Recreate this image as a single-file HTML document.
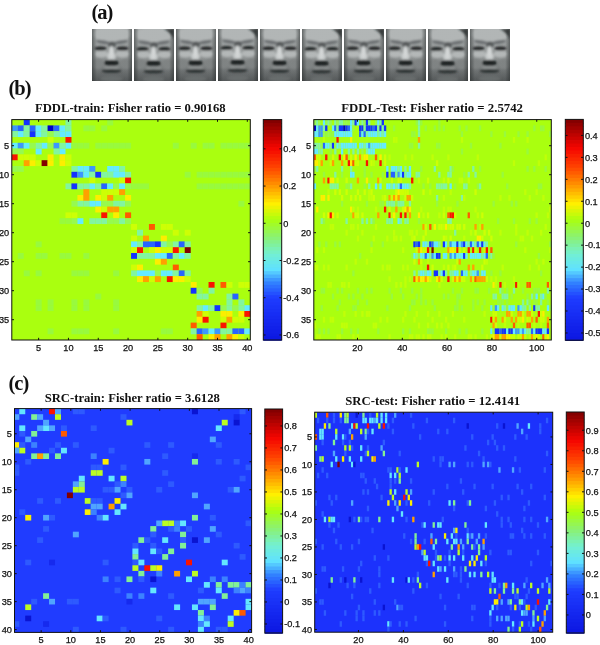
<!DOCTYPE html><html><head><meta charset="utf-8"><title>Figure</title><style>html,body{margin:0;padding:0;background:#fff;width:600px;height:645px;overflow:hidden}svg{display:block}</style></head><body><svg width="600" height="645" viewBox="0 0 600 645"><defs><clipPath id="fc"><rect width="40" height="52"/></clipPath><filter id="bl" x="-20%" y="-20%" width="140%" height="140%"><feGaussianBlur stdDeviation="1.1"/></filter><linearGradient id="fv" x1="0" x2="0" y1="0" y2="1"><stop offset="0" stop-color="#b6baba"/><stop offset="0.55" stop-color="#9a9e9e"/><stop offset="1" stop-color="#5a5e5f"/></linearGradient><linearGradient id="sd" x1="0" x2="1" y1="0" y2="0"><stop offset="0" stop-color="#202424" stop-opacity="0.55"/><stop offset="0.12" stop-color="#202424" stop-opacity="0.1"/><stop offset="0.88" stop-color="#202424" stop-opacity="0.1"/><stop offset="1" stop-color="#202424" stop-opacity="0.55"/></linearGradient></defs><style>.tk{font-family:"Liberation Sans",Arial,sans-serif;font-size:9.2px;fill:#111;stroke:#111;stroke-width:0.25px}.tt{font-family:"Liberation Serif","Times New Roman",serif;font-weight:bold;font-size:12.65px;fill:#111}.pl{font-family:"Liberation Serif","Times New Roman",serif;font-weight:bold;font-size:20.5px;letter-spacing:-1.0px;fill:#111}</style><rect width="600" height="645" fill="#fff"/><text x="91.5" y="18.5" class="pl">(a)</text><text x="8.5" y="95" class="pl">(b)</text><text x="8.5" y="390" class="pl">(c)</text><g transform="translate(92,29)" clip-path="url(#fc)"><rect width="40" height="52" fill="url(#fv)"/><g filter="url(#bl)" transform="translate(0,0)"><ellipse cx="20" cy="5" rx="19" ry="7.5" fill="#c2c6c6"/><ellipse cx="20" cy="15.5" rx="4" ry="3" fill="#5e6263"/><ellipse cx="9.5" cy="25" rx="7" ry="3.4" fill="#c4c8c8"/><ellipse cx="30.5" cy="25" rx="7" ry="3.4" fill="#c4c8c8"/><ellipse cx="6" cy="35" rx="6" ry="5" fill="#8a8e8e"/><ellipse cx="34" cy="35" rx="6" ry="5" fill="#8a8e8e"/><ellipse cx="19.5" cy="27.5" rx="4.6" ry="4" fill="#d4d8d8"/><ellipse cx="19.5" cy="23.5" rx="2.6" ry="6.5" fill="#e6e9e9"/><ellipse cx="11" cy="13" rx="7" ry="1.8" fill="#74787a" transform="rotate(8 11 13)"/><ellipse cx="29" cy="13" rx="7" ry="1.8" fill="#74787a" transform="rotate(-8 29 13)"/><ellipse cx="8.5" cy="19.5" rx="6" ry="2.1" fill="#26292a"/><ellipse cx="30.5" cy="19.5" rx="6" ry="2.1" fill="#26292a"/><ellipse cx="19.5" cy="34" rx="7.4" ry="3.2" fill="#222628"/><ellipse cx="19.5" cy="38.5" rx="8" ry="1.8" fill="#9a9e9e"/><ellipse cx="19.5" cy="42" rx="10" ry="2.1" fill="#333738"/><ellipse cx="19.5" cy="49.5" rx="11" ry="3.2" fill="#707475"/></g><rect width="40" height="52" fill="url(#sd)"/></g><g transform="translate(134,29)" clip-path="url(#fc)"><rect width="40" height="52" fill="url(#fv)"/><g filter="url(#bl)" transform="translate(0,0.5)"><ellipse cx="20" cy="5" rx="19" ry="7.5" fill="#c2c6c6"/><ellipse cx="20" cy="15.5" rx="4" ry="3" fill="#5e6263"/><ellipse cx="9.5" cy="25" rx="7" ry="3.4" fill="#c4c8c8"/><ellipse cx="30.5" cy="25" rx="7" ry="3.4" fill="#c4c8c8"/><ellipse cx="6" cy="35" rx="6" ry="5" fill="#8a8e8e"/><ellipse cx="34" cy="35" rx="6" ry="5" fill="#8a8e8e"/><ellipse cx="19.5" cy="27.5" rx="4.6" ry="4" fill="#d4d8d8"/><ellipse cx="19.5" cy="23.5" rx="2.6" ry="6.5" fill="#e6e9e9"/><ellipse cx="11" cy="13" rx="7" ry="1.8" fill="#74787a" transform="rotate(8 11 13)"/><ellipse cx="29" cy="13" rx="7" ry="1.8" fill="#74787a" transform="rotate(-8 29 13)"/><ellipse cx="8.5" cy="19.5" rx="6" ry="2.1" fill="#26292a"/><ellipse cx="30.5" cy="19.5" rx="6" ry="2.1" fill="#26292a"/><ellipse cx="19.5" cy="34" rx="7.4" ry="3.2" fill="#222628"/><ellipse cx="19.5" cy="38.5" rx="8" ry="1.8" fill="#9a9e9e"/><ellipse cx="19.5" cy="42" rx="10" ry="2.1" fill="#333738"/><ellipse cx="19.5" cy="49.5" rx="11" ry="3.2" fill="#707475"/></g><rect width="40" height="52" fill="url(#sd)"/><path d="M30 0 H40 V10 Q36 3 30 0Z" fill="#2a2e2f" opacity="0.85" filter="url(#bl)"/></g><g transform="translate(176,29)" clip-path="url(#fc)"><rect width="40" height="52" fill="url(#fv)"/><g filter="url(#bl)" transform="translate(0,0)"><ellipse cx="20" cy="5" rx="19" ry="7.5" fill="#c2c6c6"/><ellipse cx="20" cy="15.5" rx="4" ry="3" fill="#5e6263"/><ellipse cx="9.5" cy="25" rx="7" ry="3.4" fill="#c4c8c8"/><ellipse cx="30.5" cy="25" rx="7" ry="3.4" fill="#c4c8c8"/><ellipse cx="6" cy="35" rx="6" ry="5" fill="#8a8e8e"/><ellipse cx="34" cy="35" rx="6" ry="5" fill="#8a8e8e"/><ellipse cx="19.5" cy="27.5" rx="4.6" ry="4" fill="#d4d8d8"/><ellipse cx="19.5" cy="23.5" rx="2.6" ry="6.5" fill="#e6e9e9"/><ellipse cx="11" cy="13" rx="7" ry="1.8" fill="#74787a" transform="rotate(8 11 13)"/><ellipse cx="29" cy="13" rx="7" ry="1.8" fill="#74787a" transform="rotate(-8 29 13)"/><ellipse cx="8.5" cy="19.5" rx="6" ry="2.1" fill="#26292a"/><ellipse cx="30.5" cy="19.5" rx="6" ry="2.1" fill="#26292a"/><ellipse cx="19.5" cy="34" rx="7.4" ry="3.2" fill="#222628"/><ellipse cx="19.5" cy="38.5" rx="8" ry="1.8" fill="#9a9e9e"/><ellipse cx="19.5" cy="42" rx="10" ry="2.1" fill="#333738"/><ellipse cx="19.5" cy="49.5" rx="11" ry="3.2" fill="#707475"/></g><rect width="40" height="52" fill="url(#sd)"/></g><g transform="translate(218,29)" clip-path="url(#fc)"><rect width="40" height="52" fill="url(#fv)"/><g filter="url(#bl)" transform="translate(0,-0.5)"><ellipse cx="20" cy="5" rx="19" ry="7.5" fill="#c2c6c6"/><ellipse cx="20" cy="15.5" rx="4" ry="3" fill="#5e6263"/><ellipse cx="9.5" cy="25" rx="7" ry="3.4" fill="#c4c8c8"/><ellipse cx="30.5" cy="25" rx="7" ry="3.4" fill="#c4c8c8"/><ellipse cx="6" cy="35" rx="6" ry="5" fill="#8a8e8e"/><ellipse cx="34" cy="35" rx="6" ry="5" fill="#8a8e8e"/><ellipse cx="19.5" cy="27.5" rx="4.6" ry="4" fill="#d4d8d8"/><ellipse cx="19.5" cy="23.5" rx="2.6" ry="6.5" fill="#e6e9e9"/><ellipse cx="11" cy="13" rx="7" ry="1.8" fill="#74787a" transform="rotate(8 11 13)"/><ellipse cx="29" cy="13" rx="7" ry="1.8" fill="#74787a" transform="rotate(-8 29 13)"/><ellipse cx="8.5" cy="19.5" rx="6" ry="2.1" fill="#26292a"/><ellipse cx="30.5" cy="19.5" rx="6" ry="2.1" fill="#26292a"/><ellipse cx="19.5" cy="34" rx="7.4" ry="3.2" fill="#222628"/><ellipse cx="19.5" cy="38.5" rx="8" ry="1.8" fill="#9a9e9e"/><ellipse cx="19.5" cy="42" rx="10" ry="2.1" fill="#333738"/><ellipse cx="19.5" cy="49.5" rx="11" ry="3.2" fill="#707475"/></g><rect width="40" height="52" fill="url(#sd)"/><path d="M30 0 H40 V10 Q36 3 30 0Z" fill="#2a2e2f" opacity="0.85" filter="url(#bl)"/></g><g transform="translate(260,29)" clip-path="url(#fc)"><rect width="40" height="52" fill="url(#fv)"/><g filter="url(#bl)" transform="translate(0,0)"><ellipse cx="20" cy="5" rx="19" ry="7.5" fill="#c2c6c6"/><ellipse cx="20" cy="15.5" rx="4" ry="3" fill="#5e6263"/><ellipse cx="9.5" cy="25" rx="7" ry="3.4" fill="#c4c8c8"/><ellipse cx="30.5" cy="25" rx="7" ry="3.4" fill="#c4c8c8"/><ellipse cx="6" cy="35" rx="6" ry="5" fill="#8a8e8e"/><ellipse cx="34" cy="35" rx="6" ry="5" fill="#8a8e8e"/><ellipse cx="19.5" cy="27.5" rx="4.6" ry="4" fill="#d4d8d8"/><ellipse cx="19.5" cy="23.5" rx="2.6" ry="6.5" fill="#e6e9e9"/><ellipse cx="11" cy="13" rx="7" ry="1.8" fill="#74787a" transform="rotate(8 11 13)"/><ellipse cx="29" cy="13" rx="7" ry="1.8" fill="#74787a" transform="rotate(-8 29 13)"/><ellipse cx="8.5" cy="19.5" rx="6" ry="2.1" fill="#26292a"/><ellipse cx="30.5" cy="19.5" rx="6" ry="2.1" fill="#26292a"/><ellipse cx="19.5" cy="34" rx="7.4" ry="3.2" fill="#222628"/><ellipse cx="19.5" cy="38.5" rx="8" ry="1.8" fill="#9a9e9e"/><ellipse cx="19.5" cy="42" rx="10" ry="2.1" fill="#333738"/><ellipse cx="19.5" cy="49.5" rx="11" ry="3.2" fill="#707475"/></g><rect width="40" height="52" fill="url(#sd)"/></g><g transform="translate(302,29)" clip-path="url(#fc)"><rect width="40" height="52" fill="url(#fv)"/><g filter="url(#bl)" transform="translate(0,0.5)"><ellipse cx="20" cy="5" rx="19" ry="7.5" fill="#c2c6c6"/><ellipse cx="20" cy="15.5" rx="4" ry="3" fill="#5e6263"/><ellipse cx="9.5" cy="25" rx="7" ry="3.4" fill="#c4c8c8"/><ellipse cx="30.5" cy="25" rx="7" ry="3.4" fill="#c4c8c8"/><ellipse cx="6" cy="35" rx="6" ry="5" fill="#8a8e8e"/><ellipse cx="34" cy="35" rx="6" ry="5" fill="#8a8e8e"/><ellipse cx="19.5" cy="27.5" rx="4.6" ry="4" fill="#d4d8d8"/><ellipse cx="19.5" cy="23.5" rx="2.6" ry="6.5" fill="#e6e9e9"/><ellipse cx="11" cy="13" rx="7" ry="1.8" fill="#74787a" transform="rotate(8 11 13)"/><ellipse cx="29" cy="13" rx="7" ry="1.8" fill="#74787a" transform="rotate(-8 29 13)"/><ellipse cx="8.5" cy="19.5" rx="6" ry="2.1" fill="#26292a"/><ellipse cx="30.5" cy="19.5" rx="6" ry="2.1" fill="#26292a"/><ellipse cx="19.5" cy="34" rx="7.4" ry="3.2" fill="#222628"/><ellipse cx="19.5" cy="38.5" rx="8" ry="1.8" fill="#9a9e9e"/><ellipse cx="19.5" cy="42" rx="10" ry="2.1" fill="#333738"/><ellipse cx="19.5" cy="49.5" rx="11" ry="3.2" fill="#707475"/></g><rect width="40" height="52" fill="url(#sd)"/><path d="M30 0 H40 V10 Q36 3 30 0Z" fill="#2a2e2f" opacity="0.85" filter="url(#bl)"/></g><g transform="translate(344,29)" clip-path="url(#fc)"><rect width="40" height="52" fill="url(#fv)"/><g filter="url(#bl)" transform="translate(0,0)"><ellipse cx="20" cy="5" rx="19" ry="7.5" fill="#c2c6c6"/><ellipse cx="20" cy="15.5" rx="4" ry="3" fill="#5e6263"/><ellipse cx="9.5" cy="25" rx="7" ry="3.4" fill="#c4c8c8"/><ellipse cx="30.5" cy="25" rx="7" ry="3.4" fill="#c4c8c8"/><ellipse cx="6" cy="35" rx="6" ry="5" fill="#8a8e8e"/><ellipse cx="34" cy="35" rx="6" ry="5" fill="#8a8e8e"/><ellipse cx="19.5" cy="27.5" rx="4.6" ry="4" fill="#d4d8d8"/><ellipse cx="19.5" cy="23.5" rx="2.6" ry="6.5" fill="#e6e9e9"/><ellipse cx="11" cy="13" rx="7" ry="1.8" fill="#74787a" transform="rotate(8 11 13)"/><ellipse cx="29" cy="13" rx="7" ry="1.8" fill="#74787a" transform="rotate(-8 29 13)"/><ellipse cx="8.5" cy="19.5" rx="6" ry="2.1" fill="#26292a"/><ellipse cx="30.5" cy="19.5" rx="6" ry="2.1" fill="#26292a"/><ellipse cx="19.5" cy="34" rx="7.4" ry="3.2" fill="#222628"/><ellipse cx="19.5" cy="38.5" rx="8" ry="1.8" fill="#9a9e9e"/><ellipse cx="19.5" cy="42" rx="10" ry="2.1" fill="#333738"/><ellipse cx="19.5" cy="49.5" rx="11" ry="3.2" fill="#707475"/></g><rect width="40" height="52" fill="url(#sd)"/><path d="M30 0 H40 V10 Q36 3 30 0Z" fill="#2a2e2f" opacity="0.85" filter="url(#bl)"/></g><g transform="translate(386,29)" clip-path="url(#fc)"><rect width="40" height="52" fill="url(#fv)"/><g filter="url(#bl)" transform="translate(0,0)"><ellipse cx="20" cy="5" rx="19" ry="7.5" fill="#c2c6c6"/><ellipse cx="20" cy="15.5" rx="4" ry="3" fill="#5e6263"/><ellipse cx="9.5" cy="25" rx="7" ry="3.4" fill="#c4c8c8"/><ellipse cx="30.5" cy="25" rx="7" ry="3.4" fill="#c4c8c8"/><ellipse cx="6" cy="35" rx="6" ry="5" fill="#8a8e8e"/><ellipse cx="34" cy="35" rx="6" ry="5" fill="#8a8e8e"/><ellipse cx="19.5" cy="27.5" rx="4.6" ry="4" fill="#d4d8d8"/><ellipse cx="19.5" cy="23.5" rx="2.6" ry="6.5" fill="#e6e9e9"/><ellipse cx="11" cy="13" rx="7" ry="1.8" fill="#74787a" transform="rotate(8 11 13)"/><ellipse cx="29" cy="13" rx="7" ry="1.8" fill="#74787a" transform="rotate(-8 29 13)"/><ellipse cx="8.5" cy="19.5" rx="6" ry="2.1" fill="#26292a"/><ellipse cx="30.5" cy="19.5" rx="6" ry="2.1" fill="#26292a"/><ellipse cx="19.5" cy="34" rx="7.4" ry="3.2" fill="#222628"/><ellipse cx="19.5" cy="38.5" rx="8" ry="1.8" fill="#9a9e9e"/><ellipse cx="19.5" cy="42" rx="10" ry="2.1" fill="#333738"/><ellipse cx="19.5" cy="49.5" rx="11" ry="3.2" fill="#707475"/></g><rect width="40" height="52" fill="url(#sd)"/></g><g transform="translate(428,29)" clip-path="url(#fc)"><rect width="40" height="52" fill="url(#fv)"/><g filter="url(#bl)" transform="translate(0,0.5)"><ellipse cx="20" cy="5" rx="19" ry="7.5" fill="#c2c6c6"/><ellipse cx="20" cy="15.5" rx="4" ry="3" fill="#5e6263"/><ellipse cx="9.5" cy="25" rx="7" ry="3.4" fill="#c4c8c8"/><ellipse cx="30.5" cy="25" rx="7" ry="3.4" fill="#c4c8c8"/><ellipse cx="6" cy="35" rx="6" ry="5" fill="#8a8e8e"/><ellipse cx="34" cy="35" rx="6" ry="5" fill="#8a8e8e"/><ellipse cx="19.5" cy="27.5" rx="4.6" ry="4" fill="#d4d8d8"/><ellipse cx="19.5" cy="23.5" rx="2.6" ry="6.5" fill="#e6e9e9"/><ellipse cx="11" cy="13" rx="7" ry="1.8" fill="#74787a" transform="rotate(8 11 13)"/><ellipse cx="29" cy="13" rx="7" ry="1.8" fill="#74787a" transform="rotate(-8 29 13)"/><ellipse cx="8.5" cy="19.5" rx="6" ry="2.1" fill="#26292a"/><ellipse cx="30.5" cy="19.5" rx="6" ry="2.1" fill="#26292a"/><ellipse cx="19.5" cy="34" rx="7.4" ry="3.2" fill="#222628"/><ellipse cx="19.5" cy="38.5" rx="8" ry="1.8" fill="#9a9e9e"/><ellipse cx="19.5" cy="42" rx="10" ry="2.1" fill="#333738"/><ellipse cx="19.5" cy="49.5" rx="11" ry="3.2" fill="#707475"/></g><rect width="40" height="52" fill="url(#sd)"/><path d="M30 0 H40 V10 Q36 3 30 0Z" fill="#2a2e2f" opacity="0.85" filter="url(#bl)"/></g><g transform="translate(470,29)" clip-path="url(#fc)"><rect width="40" height="52" fill="url(#fv)"/><g filter="url(#bl)" transform="translate(0,0)"><ellipse cx="20" cy="5" rx="19" ry="7.5" fill="#c2c6c6"/><ellipse cx="20" cy="15.5" rx="4" ry="3" fill="#5e6263"/><ellipse cx="9.5" cy="25" rx="7" ry="3.4" fill="#c4c8c8"/><ellipse cx="30.5" cy="25" rx="7" ry="3.4" fill="#c4c8c8"/><ellipse cx="6" cy="35" rx="6" ry="5" fill="#8a8e8e"/><ellipse cx="34" cy="35" rx="6" ry="5" fill="#8a8e8e"/><ellipse cx="19.5" cy="27.5" rx="4.6" ry="4" fill="#d4d8d8"/><ellipse cx="19.5" cy="23.5" rx="2.6" ry="6.5" fill="#e6e9e9"/><ellipse cx="11" cy="13" rx="7" ry="1.8" fill="#74787a" transform="rotate(8 11 13)"/><ellipse cx="29" cy="13" rx="7" ry="1.8" fill="#74787a" transform="rotate(-8 29 13)"/><ellipse cx="8.5" cy="19.5" rx="6" ry="2.1" fill="#26292a"/><ellipse cx="30.5" cy="19.5" rx="6" ry="2.1" fill="#26292a"/><ellipse cx="19.5" cy="34" rx="7.4" ry="3.2" fill="#222628"/><ellipse cx="19.5" cy="38.5" rx="8" ry="1.8" fill="#9a9e9e"/><ellipse cx="19.5" cy="42" rx="10" ry="2.1" fill="#333738"/><ellipse cx="19.5" cy="49.5" rx="11" ry="3.2" fill="#707475"/></g><rect width="40" height="52" fill="url(#sd)"/><path d="M30 0 H40 V10 Q36 3 30 0Z" fill="#2a2e2f" opacity="0.85" filter="url(#bl)"/></g><text x="35" y="111.7" class="tt">FDDL-train: Fisher ratio = 0.90168</text><text x="341.2" y="111.7" class="tt" style="font-size:12.8px">FDDL-Test: Fisher ratio = 2.5742</text><text x="44.7" y="402" class="tt">SRC-train: Fisher ratio = 3.6128</text><text x="345.3" y="404.7" class="tt" style="font-size:12.72px">SRC-test: Fisher ratio = 12.4141</text><rect x="11.80" y="119.60" width="238.50" height="220.40" fill="#aaff0f"/><rect x="23.73" y="119.60" width="6.01" height="5.85" fill="#1432ff"/><rect x="65.46" y="119.60" width="6.01" height="5.85" fill="#82f5a0"/><rect x="107.20" y="119.60" width="6.01" height="5.85" fill="#98fa3e"/><rect x="11.80" y="125.40" width="6.01" height="5.85" fill="#3c96ff"/><rect x="17.76" y="125.40" width="6.01" height="5.85" fill="#2864ff"/><rect x="23.73" y="125.40" width="6.01" height="5.85" fill="#82f5a0"/><rect x="29.69" y="125.40" width="6.01" height="5.85" fill="#2864ff"/><rect x="35.65" y="125.40" width="6.01" height="5.85" fill="#64ebff"/><rect x="41.61" y="125.40" width="6.01" height="5.85" fill="#82f5a0"/><rect x="47.58" y="125.40" width="6.01" height="5.85" fill="#0000c8"/><rect x="53.54" y="125.40" width="6.01" height="5.85" fill="#2864ff"/><rect x="59.50" y="125.40" width="6.01" height="5.85" fill="#64ebff"/><rect x="65.46" y="125.40" width="6.01" height="5.85" fill="#82f5a0"/><rect x="83.35" y="125.40" width="6.01" height="5.85" fill="#98fa3e"/><rect x="89.31" y="125.40" width="6.01" height="5.85" fill="#98fa3e"/><rect x="101.24" y="125.40" width="6.01" height="5.85" fill="#98fa3e"/><rect x="11.80" y="131.20" width="6.01" height="5.85" fill="#82f5a0"/><rect x="17.76" y="131.20" width="6.01" height="5.85" fill="#64ebff"/><rect x="23.73" y="131.20" width="6.01" height="5.85" fill="#82f5a0"/><rect x="29.69" y="131.20" width="6.01" height="5.85" fill="#1432ff"/><rect x="35.65" y="131.20" width="6.01" height="5.85" fill="#64ebff"/><rect x="41.61" y="131.20" width="6.01" height="5.85" fill="#82f5a0"/><rect x="47.58" y="131.20" width="6.01" height="5.85" fill="#96fa50"/><rect x="53.54" y="131.20" width="6.01" height="5.85" fill="#82f5a0"/><rect x="59.50" y="131.20" width="6.01" height="5.85" fill="#64ebff"/><rect x="65.46" y="131.20" width="6.01" height="5.85" fill="#64ebff"/><rect x="47.58" y="137.00" width="6.01" height="5.85" fill="#cdff05"/><rect x="65.46" y="137.00" width="6.01" height="5.85" fill="#fa1400"/><rect x="11.80" y="142.80" width="6.01" height="5.85" fill="#64ebff"/><rect x="17.76" y="142.80" width="6.01" height="5.85" fill="#3c96ff"/><rect x="23.73" y="142.80" width="6.01" height="5.85" fill="#64ebff"/><rect x="29.69" y="142.80" width="6.01" height="5.85" fill="#96fa50"/><rect x="35.65" y="142.80" width="6.01" height="5.85" fill="#82f5a0"/><rect x="41.61" y="142.80" width="6.01" height="5.85" fill="#64ebff"/><rect x="47.58" y="142.80" width="6.01" height="5.85" fill="#96fa50"/><rect x="53.54" y="142.80" width="6.01" height="5.85" fill="#3c96ff"/><rect x="59.50" y="142.80" width="6.01" height="5.85" fill="#82f5a0"/><rect x="65.46" y="142.80" width="6.01" height="5.85" fill="#64ebff"/><rect x="71.42" y="142.80" width="6.01" height="5.85" fill="#98fa3e"/><rect x="77.39" y="142.80" width="6.01" height="5.85" fill="#98fa3e"/><rect x="83.35" y="142.80" width="6.01" height="5.85" fill="#98fa3e"/><rect x="95.28" y="142.80" width="6.01" height="5.85" fill="#98fa3e"/><rect x="101.24" y="142.80" width="6.01" height="5.85" fill="#98fa3e"/><rect x="107.20" y="142.80" width="6.01" height="5.85" fill="#98fa3e"/><rect x="113.16" y="142.80" width="6.01" height="5.85" fill="#98fa3e"/><rect x="119.12" y="142.80" width="6.01" height="5.85" fill="#98fa3e"/><rect x="125.09" y="142.80" width="6.01" height="5.85" fill="#98fa3e"/><rect x="172.79" y="142.80" width="6.01" height="5.85" fill="#98fa3e"/><rect x="190.68" y="142.80" width="6.01" height="5.85" fill="#98fa3e"/><rect x="202.60" y="142.80" width="6.01" height="5.85" fill="#98fa3e"/><rect x="208.56" y="142.80" width="6.01" height="5.85" fill="#98fa3e"/><rect x="220.49" y="142.80" width="6.01" height="5.85" fill="#98fa3e"/><rect x="226.45" y="142.80" width="6.01" height="5.85" fill="#98fa3e"/><rect x="232.41" y="142.80" width="6.01" height="5.85" fill="#98fa3e"/><rect x="238.38" y="142.80" width="6.01" height="5.85" fill="#98fa3e"/><rect x="244.34" y="142.80" width="5.96" height="5.85" fill="#98fa3e"/><rect x="11.80" y="148.60" width="6.01" height="5.85" fill="#96fa50"/><rect x="17.76" y="148.60" width="6.01" height="5.85" fill="#96fa50"/><rect x="35.65" y="148.60" width="6.01" height="5.85" fill="#64ebff"/><rect x="53.54" y="148.60" width="6.01" height="5.85" fill="#82f5a0"/><rect x="59.50" y="148.60" width="6.01" height="5.85" fill="#64ebff"/><rect x="11.80" y="154.40" width="6.01" height="5.85" fill="#fa1400"/><rect x="17.76" y="154.40" width="6.01" height="5.85" fill="#cdff05"/><rect x="23.73" y="154.40" width="6.01" height="5.85" fill="#cdff05"/><rect x="29.69" y="154.40" width="6.01" height="5.85" fill="#cdff05"/><rect x="47.58" y="154.40" width="6.01" height="5.85" fill="#fcee00"/><rect x="59.50" y="154.40" width="6.01" height="5.85" fill="#fcee00"/><rect x="65.46" y="154.40" width="6.01" height="5.85" fill="#cdff05"/><rect x="23.73" y="160.20" width="6.01" height="5.85" fill="#ffa000"/><rect x="29.69" y="160.20" width="6.01" height="5.85" fill="#fcee00"/><rect x="35.65" y="160.20" width="6.01" height="5.85" fill="#cdff05"/><rect x="41.61" y="160.20" width="6.01" height="5.85" fill="#820000"/><rect x="47.58" y="160.20" width="6.01" height="5.85" fill="#fcee00"/><rect x="59.50" y="160.20" width="6.01" height="5.85" fill="#fcee00"/><rect x="65.46" y="160.20" width="6.01" height="5.85" fill="#cdff05"/><rect x="11.80" y="166.00" width="6.01" height="5.85" fill="#96fa50"/><rect x="17.76" y="166.00" width="6.01" height="5.85" fill="#96fa50"/><rect x="71.42" y="166.00" width="6.01" height="5.85" fill="#82f5a0"/><rect x="77.39" y="166.00" width="6.01" height="5.85" fill="#64ebff"/><rect x="83.35" y="166.00" width="6.01" height="5.85" fill="#64ebff"/><rect x="89.31" y="166.00" width="6.01" height="5.85" fill="#3c96ff"/><rect x="107.20" y="166.00" width="6.01" height="5.85" fill="#64ebff"/><rect x="113.16" y="166.00" width="6.01" height="5.85" fill="#64ebff"/><rect x="119.12" y="166.00" width="6.01" height="5.85" fill="#82f5a0"/><rect x="71.42" y="171.80" width="6.01" height="5.85" fill="#1432ff"/><rect x="77.39" y="171.80" width="6.01" height="5.85" fill="#3c96ff"/><rect x="83.35" y="171.80" width="6.01" height="5.85" fill="#64ebff"/><rect x="89.31" y="171.80" width="6.01" height="5.85" fill="#82f5a0"/><rect x="95.28" y="171.80" width="6.01" height="5.85" fill="#1432ff"/><rect x="101.24" y="171.80" width="6.01" height="5.85" fill="#82f5a0"/><rect x="107.20" y="171.80" width="6.01" height="5.85" fill="#82f5a0"/><rect x="113.16" y="171.80" width="6.01" height="5.85" fill="#64ebff"/><rect x="119.12" y="171.80" width="6.01" height="5.85" fill="#64ebff"/><rect x="125.09" y="171.80" width="6.01" height="5.85" fill="#82f5a0"/><rect x="184.71" y="171.80" width="6.01" height="5.85" fill="#98fa3e"/><rect x="196.64" y="171.80" width="6.01" height="5.85" fill="#98fa3e"/><rect x="202.60" y="171.80" width="6.01" height="5.85" fill="#98fa3e"/><rect x="208.56" y="171.80" width="6.01" height="5.85" fill="#98fa3e"/><rect x="214.53" y="171.80" width="6.01" height="5.85" fill="#98fa3e"/><rect x="220.49" y="171.80" width="6.01" height="5.85" fill="#98fa3e"/><rect x="226.45" y="171.80" width="6.01" height="5.85" fill="#98fa3e"/><rect x="232.41" y="171.80" width="6.01" height="5.85" fill="#98fa3e"/><rect x="238.38" y="171.80" width="6.01" height="5.85" fill="#98fa3e"/><rect x="244.34" y="171.80" width="5.96" height="5.85" fill="#98fa3e"/><rect x="89.31" y="177.60" width="6.01" height="5.85" fill="#cdff05"/><rect x="119.12" y="177.60" width="6.01" height="5.85" fill="#cdff05"/><rect x="125.09" y="177.60" width="6.01" height="5.85" fill="#fa1400"/><rect x="65.46" y="183.40" width="6.01" height="5.85" fill="#82f5a0"/><rect x="71.42" y="183.40" width="6.01" height="5.85" fill="#1432ff"/><rect x="77.39" y="183.40" width="6.01" height="5.85" fill="#82f5a0"/><rect x="83.35" y="183.40" width="6.01" height="5.85" fill="#82f5a0"/><rect x="89.31" y="183.40" width="6.01" height="5.85" fill="#64ebff"/><rect x="95.28" y="183.40" width="6.01" height="5.85" fill="#82f5a0"/><rect x="101.24" y="183.40" width="6.01" height="5.85" fill="#2864ff"/><rect x="107.20" y="183.40" width="6.01" height="5.85" fill="#64ebff"/><rect x="113.16" y="183.40" width="6.01" height="5.85" fill="#96fa50"/><rect x="119.12" y="183.40" width="6.01" height="5.85" fill="#64ebff"/><rect x="125.09" y="183.40" width="6.01" height="5.85" fill="#96fa50"/><rect x="131.05" y="183.40" width="6.01" height="5.85" fill="#98fa3e"/><rect x="137.01" y="183.40" width="6.01" height="5.85" fill="#98fa3e"/><rect x="142.98" y="183.40" width="6.01" height="5.85" fill="#98fa3e"/><rect x="196.64" y="183.40" width="6.01" height="5.85" fill="#98fa3e"/><rect x="202.60" y="183.40" width="6.01" height="5.85" fill="#98fa3e"/><rect x="208.56" y="183.40" width="6.01" height="5.85" fill="#98fa3e"/><rect x="214.53" y="183.40" width="6.01" height="5.85" fill="#98fa3e"/><rect x="220.49" y="183.40" width="6.01" height="5.85" fill="#98fa3e"/><rect x="226.45" y="183.40" width="6.01" height="5.85" fill="#98fa3e"/><rect x="232.41" y="183.40" width="6.01" height="5.85" fill="#98fa3e"/><rect x="238.38" y="183.40" width="6.01" height="5.85" fill="#98fa3e"/><rect x="244.34" y="183.40" width="5.96" height="5.85" fill="#98fa3e"/><rect x="83.35" y="189.20" width="6.01" height="5.85" fill="#ffa000"/><rect x="101.24" y="189.20" width="6.01" height="5.85" fill="#cdff05"/><rect x="107.20" y="189.20" width="6.01" height="5.85" fill="#cdff05"/><rect x="113.16" y="189.20" width="6.01" height="5.85" fill="#cdff05"/><rect x="119.12" y="189.20" width="6.01" height="5.85" fill="#ffa000"/><rect x="77.39" y="195.00" width="6.01" height="5.85" fill="#fcee00"/><rect x="83.35" y="195.00" width="6.01" height="5.85" fill="#ffa000"/><rect x="95.28" y="195.00" width="6.01" height="5.85" fill="#fcee00"/><rect x="101.24" y="195.00" width="6.01" height="5.85" fill="#cdff05"/><rect x="107.20" y="195.00" width="6.01" height="5.85" fill="#ffa000"/><rect x="125.09" y="195.00" width="6.01" height="5.85" fill="#fcee00"/><rect x="71.42" y="200.80" width="6.01" height="5.85" fill="#96fa50"/><rect x="77.39" y="200.80" width="6.01" height="5.85" fill="#82f5a0"/><rect x="83.35" y="200.80" width="6.01" height="5.85" fill="#82f5a0"/><rect x="89.31" y="200.80" width="6.01" height="5.85" fill="#64ebff"/><rect x="95.28" y="200.80" width="6.01" height="5.85" fill="#64ebff"/><rect x="101.24" y="200.80" width="6.01" height="5.85" fill="#96fa50"/><rect x="107.20" y="200.80" width="6.01" height="5.85" fill="#96fa50"/><rect x="113.16" y="200.80" width="6.01" height="5.85" fill="#82f5a0"/><rect x="119.12" y="200.80" width="6.01" height="5.85" fill="#82f5a0"/><rect x="125.09" y="200.80" width="6.01" height="5.85" fill="#96fa50"/><rect x="238.38" y="200.80" width="6.01" height="5.85" fill="#98fa3e"/><rect x="95.28" y="206.60" width="6.01" height="5.85" fill="#fcee00"/><rect x="101.24" y="206.60" width="6.01" height="5.85" fill="#cdff05"/><rect x="107.20" y="206.60" width="6.01" height="5.85" fill="#ffa000"/><rect x="113.16" y="206.60" width="6.01" height="5.85" fill="#ffa000"/><rect x="65.46" y="212.40" width="6.01" height="5.85" fill="#cdff05"/><rect x="71.42" y="212.40" width="6.01" height="5.85" fill="#cdff05"/><rect x="101.24" y="212.40" width="6.01" height="5.85" fill="#fa1400"/><rect x="113.16" y="212.40" width="6.01" height="5.85" fill="#fcee00"/><rect x="125.09" y="212.40" width="6.01" height="5.85" fill="#ff5a00"/><rect x="59.50" y="218.20" width="6.01" height="5.85" fill="#98fa3e"/><rect x="65.46" y="218.20" width="6.01" height="5.85" fill="#98fa3e"/><rect x="71.42" y="218.20" width="6.01" height="5.85" fill="#96fa50"/><rect x="77.39" y="218.20" width="6.01" height="5.85" fill="#64ebff"/><rect x="89.31" y="218.20" width="6.01" height="5.85" fill="#82f5a0"/><rect x="95.28" y="218.20" width="6.01" height="5.85" fill="#82f5a0"/><rect x="101.24" y="218.20" width="6.01" height="5.85" fill="#82f5a0"/><rect x="107.20" y="218.20" width="6.01" height="5.85" fill="#96fa50"/><rect x="113.16" y="218.20" width="6.01" height="5.85" fill="#96fa50"/><rect x="119.12" y="218.20" width="6.01" height="5.85" fill="#82f5a0"/><rect x="125.09" y="218.20" width="6.01" height="5.85" fill="#96fa50"/><rect x="131.05" y="224.00" width="6.01" height="5.85" fill="#cdff05"/><rect x="148.94" y="224.00" width="6.01" height="5.85" fill="#ff5a00"/><rect x="160.86" y="224.00" width="6.01" height="5.85" fill="#cdff05"/><rect x="166.83" y="224.00" width="6.01" height="5.85" fill="#cdff05"/><rect x="137.01" y="229.80" width="6.01" height="5.85" fill="#82f5a0"/><rect x="172.79" y="229.80" width="6.01" height="5.85" fill="#cdff05"/><rect x="184.71" y="229.80" width="6.01" height="5.85" fill="#cdff05"/><rect x="131.05" y="235.60" width="6.01" height="5.85" fill="#cdff05"/><rect x="142.98" y="235.60" width="6.01" height="5.85" fill="#ffa000"/><rect x="160.86" y="235.60" width="6.01" height="5.85" fill="#fcee00"/><rect x="35.65" y="241.40" width="6.01" height="5.85" fill="#98fa3e"/><rect x="131.05" y="241.40" width="6.01" height="5.85" fill="#64ebff"/><rect x="137.01" y="241.40" width="6.01" height="5.85" fill="#82f5a0"/><rect x="142.98" y="241.40" width="6.01" height="5.85" fill="#2864ff"/><rect x="148.94" y="241.40" width="6.01" height="5.85" fill="#2864ff"/><rect x="154.90" y="241.40" width="6.01" height="5.85" fill="#1432ff"/><rect x="160.86" y="241.40" width="6.01" height="5.85" fill="#82f5a0"/><rect x="166.83" y="241.40" width="6.01" height="5.85" fill="#96fa50"/><rect x="172.79" y="241.40" width="6.01" height="5.85" fill="#82f5a0"/><rect x="178.75" y="241.40" width="6.01" height="5.85" fill="#2864ff"/><rect x="184.71" y="241.40" width="6.01" height="5.85" fill="#82f5a0"/><rect x="131.05" y="247.20" width="6.01" height="5.85" fill="#cdff05"/><rect x="137.01" y="247.20" width="6.01" height="5.85" fill="#fa1400"/><rect x="148.94" y="247.20" width="6.01" height="5.85" fill="#cdff05"/><rect x="154.90" y="247.20" width="6.01" height="5.85" fill="#fcee00"/><rect x="160.86" y="247.20" width="6.01" height="5.85" fill="#cdff05"/><rect x="166.83" y="247.20" width="6.01" height="5.85" fill="#cdff05"/><rect x="172.79" y="247.20" width="6.01" height="5.85" fill="#fa1400"/><rect x="184.71" y="247.20" width="6.01" height="5.85" fill="#820000"/><rect x="17.76" y="253.00" width="6.01" height="5.85" fill="#98fa3e"/><rect x="35.65" y="253.00" width="6.01" height="5.85" fill="#98fa3e"/><rect x="41.61" y="253.00" width="6.01" height="5.85" fill="#98fa3e"/><rect x="59.50" y="253.00" width="6.01" height="5.85" fill="#98fa3e"/><rect x="65.46" y="253.00" width="6.01" height="5.85" fill="#98fa3e"/><rect x="83.35" y="253.00" width="6.01" height="5.85" fill="#98fa3e"/><rect x="131.05" y="253.00" width="6.01" height="5.85" fill="#1432ff"/><rect x="137.01" y="253.00" width="6.01" height="5.85" fill="#82f5a0"/><rect x="142.98" y="253.00" width="6.01" height="5.85" fill="#82f5a0"/><rect x="148.94" y="253.00" width="6.01" height="5.85" fill="#82f5a0"/><rect x="154.90" y="253.00" width="6.01" height="5.85" fill="#64ebff"/><rect x="160.86" y="253.00" width="6.01" height="5.85" fill="#64ebff"/><rect x="166.83" y="253.00" width="6.01" height="5.85" fill="#2864ff"/><rect x="172.79" y="253.00" width="6.01" height="5.85" fill="#82f5a0"/><rect x="178.75" y="253.00" width="6.01" height="5.85" fill="#64ebff"/><rect x="184.71" y="253.00" width="6.01" height="5.85" fill="#82f5a0"/><rect x="154.90" y="258.80" width="6.01" height="5.85" fill="#fcee00"/><rect x="160.86" y="258.80" width="6.01" height="5.85" fill="#ffa000"/><rect x="131.05" y="264.60" width="6.01" height="5.85" fill="#cdff05"/><rect x="137.01" y="264.60" width="6.01" height="5.85" fill="#fcee00"/><rect x="172.79" y="264.60" width="6.01" height="5.85" fill="#ff5a00"/><rect x="23.73" y="270.40" width="6.01" height="5.85" fill="#98fa3e"/><rect x="35.65" y="270.40" width="6.01" height="5.85" fill="#98fa3e"/><rect x="71.42" y="270.40" width="6.01" height="5.85" fill="#98fa3e"/><rect x="77.39" y="270.40" width="6.01" height="5.85" fill="#98fa3e"/><rect x="83.35" y="270.40" width="6.01" height="5.85" fill="#98fa3e"/><rect x="113.16" y="270.40" width="6.01" height="5.85" fill="#98fa3e"/><rect x="131.05" y="270.40" width="6.01" height="5.85" fill="#82f5a0"/><rect x="137.01" y="270.40" width="6.01" height="5.85" fill="#64ebff"/><rect x="142.98" y="270.40" width="6.01" height="5.85" fill="#64ebff"/><rect x="148.94" y="270.40" width="6.01" height="5.85" fill="#64ebff"/><rect x="154.90" y="270.40" width="6.01" height="5.85" fill="#96fa50"/><rect x="160.86" y="270.40" width="6.01" height="5.85" fill="#64ebff"/><rect x="166.83" y="270.40" width="6.01" height="5.85" fill="#64ebff"/><rect x="172.79" y="270.40" width="6.01" height="5.85" fill="#82f5a0"/><rect x="178.75" y="270.40" width="6.01" height="5.85" fill="#2864ff"/><rect x="184.71" y="270.40" width="6.01" height="5.85" fill="#82f5a0"/><rect x="137.01" y="276.20" width="6.01" height="5.85" fill="#fcee00"/><rect x="142.98" y="276.20" width="6.01" height="5.85" fill="#ffa000"/><rect x="148.94" y="276.20" width="6.01" height="5.85" fill="#cdff05"/><rect x="154.90" y="276.20" width="6.01" height="5.85" fill="#ffa000"/><rect x="166.83" y="276.20" width="6.01" height="5.85" fill="#fa1400"/><rect x="172.79" y="276.20" width="6.01" height="5.85" fill="#fcee00"/><rect x="178.75" y="276.20" width="6.01" height="5.85" fill="#fcee00"/><rect x="184.71" y="276.20" width="6.01" height="5.85" fill="#cdff05"/><rect x="190.68" y="282.00" width="6.01" height="5.85" fill="#fcee00"/><rect x="208.56" y="282.00" width="6.01" height="5.85" fill="#fa1400"/><rect x="220.49" y="282.00" width="6.01" height="5.85" fill="#ff5a00"/><rect x="226.45" y="282.00" width="6.01" height="5.85" fill="#cdff05"/><rect x="238.38" y="282.00" width="6.01" height="5.85" fill="#cdff05"/><rect x="244.34" y="282.00" width="5.96" height="5.85" fill="#cdff05"/><rect x="190.68" y="287.80" width="6.01" height="5.85" fill="#1432ff"/><rect x="196.64" y="287.80" width="6.01" height="5.85" fill="#96fa50"/><rect x="208.56" y="287.80" width="6.01" height="5.85" fill="#82f5a0"/><rect x="95.28" y="293.60" width="6.01" height="5.85" fill="#98fa3e"/><rect x="196.64" y="293.60" width="6.01" height="5.85" fill="#82f5a0"/><rect x="202.60" y="293.60" width="6.01" height="5.85" fill="#82f5a0"/><rect x="226.45" y="293.60" width="6.01" height="5.85" fill="#82f5a0"/><rect x="232.41" y="293.60" width="6.01" height="5.85" fill="#2864ff"/><rect x="35.65" y="299.40" width="6.01" height="5.85" fill="#98fa3e"/><rect x="47.58" y="299.40" width="6.01" height="5.85" fill="#98fa3e"/><rect x="71.42" y="299.40" width="6.01" height="5.85" fill="#98fa3e"/><rect x="83.35" y="299.40" width="6.01" height="5.85" fill="#98fa3e"/><rect x="113.16" y="299.40" width="6.01" height="5.85" fill="#98fa3e"/><rect x="226.45" y="299.40" width="6.01" height="5.85" fill="#82f5a0"/><rect x="238.38" y="299.40" width="6.01" height="5.85" fill="#82f5a0"/><rect x="35.65" y="305.20" width="6.01" height="5.85" fill="#98fa3e"/><rect x="47.58" y="305.20" width="6.01" height="5.85" fill="#98fa3e"/><rect x="71.42" y="305.20" width="6.01" height="5.85" fill="#98fa3e"/><rect x="83.35" y="305.20" width="6.01" height="5.85" fill="#98fa3e"/><rect x="113.16" y="305.20" width="6.01" height="5.85" fill="#98fa3e"/><rect x="196.64" y="305.20" width="6.01" height="5.85" fill="#82f5a0"/><rect x="202.60" y="305.20" width="6.01" height="5.85" fill="#64ebff"/><rect x="208.56" y="305.20" width="6.01" height="5.85" fill="#82f5a0"/><rect x="214.53" y="305.20" width="6.01" height="5.85" fill="#1432ff"/><rect x="220.49" y="305.20" width="6.01" height="5.85" fill="#96fa50"/><rect x="226.45" y="305.20" width="6.01" height="5.85" fill="#82f5a0"/><rect x="232.41" y="305.20" width="6.01" height="5.85" fill="#96fa50"/><rect x="238.38" y="305.20" width="6.01" height="5.85" fill="#82f5a0"/><rect x="244.34" y="305.20" width="5.96" height="5.85" fill="#64ebff"/><rect x="196.64" y="311.00" width="6.01" height="5.85" fill="#ffa000"/><rect x="202.60" y="311.00" width="6.01" height="5.85" fill="#cdff05"/><rect x="220.49" y="311.00" width="6.01" height="5.85" fill="#fcee00"/><rect x="226.45" y="311.00" width="6.01" height="5.85" fill="#fcee00"/><rect x="238.38" y="311.00" width="6.01" height="5.85" fill="#fcee00"/><rect x="244.34" y="311.00" width="5.96" height="5.85" fill="#fa1400"/><rect x="196.64" y="316.80" width="6.01" height="5.85" fill="#fcee00"/><rect x="202.60" y="316.80" width="6.01" height="5.85" fill="#fa1400"/><rect x="220.49" y="316.80" width="6.01" height="5.85" fill="#cdff05"/><rect x="226.45" y="316.80" width="6.01" height="5.85" fill="#ffa000"/><rect x="232.41" y="316.80" width="6.01" height="5.85" fill="#cdff05"/><rect x="238.38" y="316.80" width="6.01" height="5.85" fill="#cdff05"/><rect x="190.68" y="322.60" width="6.01" height="5.85" fill="#ff5a00"/><rect x="220.49" y="322.60" width="6.01" height="5.85" fill="#fa1400"/><rect x="47.58" y="328.40" width="6.01" height="5.85" fill="#98fa3e"/><rect x="71.42" y="328.40" width="6.01" height="5.85" fill="#98fa3e"/><rect x="77.39" y="328.40" width="6.01" height="5.85" fill="#98fa3e"/><rect x="83.35" y="328.40" width="6.01" height="5.85" fill="#98fa3e"/><rect x="113.16" y="328.40" width="6.01" height="5.85" fill="#98fa3e"/><rect x="160.86" y="328.40" width="6.01" height="5.85" fill="#98fa3e"/><rect x="166.83" y="328.40" width="6.01" height="5.85" fill="#98fa3e"/><rect x="190.68" y="328.40" width="6.01" height="5.85" fill="#82f5a0"/><rect x="196.64" y="328.40" width="6.01" height="5.85" fill="#2864ff"/><rect x="202.60" y="328.40" width="6.01" height="5.85" fill="#3c96ff"/><rect x="208.56" y="328.40" width="6.01" height="5.85" fill="#64ebff"/><rect x="214.53" y="328.40" width="6.01" height="5.85" fill="#3c96ff"/><rect x="220.49" y="328.40" width="6.01" height="5.85" fill="#82f5a0"/><rect x="226.45" y="328.40" width="6.01" height="5.85" fill="#82f5a0"/><rect x="232.41" y="328.40" width="6.01" height="5.85" fill="#2864ff"/><rect x="238.38" y="328.40" width="6.01" height="5.85" fill="#2864ff"/><rect x="244.34" y="328.40" width="5.96" height="5.85" fill="#64ebff"/><rect x="196.64" y="334.20" width="6.01" height="5.85" fill="#ff5a00"/><rect x="208.56" y="334.20" width="6.01" height="5.85" fill="#fcee00"/><rect x="214.53" y="334.20" width="6.01" height="5.85" fill="#ffa000"/><rect x="226.45" y="334.20" width="6.01" height="5.85" fill="#ffa000"/><rect x="232.41" y="334.20" width="6.01" height="5.85" fill="#fcee00"/><rect x="238.38" y="334.20" width="6.01" height="5.85" fill="#cdff05"/><rect x="11.80" y="119.60" width="238.50" height="220.40" fill="none" stroke="#111" stroke-width="1"/><line x1="38.63" y1="340.00" x2="38.63" y2="337.80" stroke="#111" stroke-width="1"/><line x1="38.63" y1="119.60" x2="38.63" y2="121.80" stroke="#111" stroke-width="1"/><text x="38.63" y="350.70" class="tk" text-anchor="middle">5</text><line x1="68.44" y1="340.00" x2="68.44" y2="337.80" stroke="#111" stroke-width="1"/><line x1="68.44" y1="119.60" x2="68.44" y2="121.80" stroke="#111" stroke-width="1"/><text x="68.44" y="350.70" class="tk" text-anchor="middle">10</text><line x1="98.26" y1="340.00" x2="98.26" y2="337.80" stroke="#111" stroke-width="1"/><line x1="98.26" y1="119.60" x2="98.26" y2="121.80" stroke="#111" stroke-width="1"/><text x="98.26" y="350.70" class="tk" text-anchor="middle">15</text><line x1="128.07" y1="340.00" x2="128.07" y2="337.80" stroke="#111" stroke-width="1"/><line x1="128.07" y1="119.60" x2="128.07" y2="121.80" stroke="#111" stroke-width="1"/><text x="128.07" y="350.70" class="tk" text-anchor="middle">20</text><line x1="157.88" y1="340.00" x2="157.88" y2="337.80" stroke="#111" stroke-width="1"/><line x1="157.88" y1="119.60" x2="157.88" y2="121.80" stroke="#111" stroke-width="1"/><text x="157.88" y="350.70" class="tk" text-anchor="middle">25</text><line x1="187.69" y1="340.00" x2="187.69" y2="337.80" stroke="#111" stroke-width="1"/><line x1="187.69" y1="119.60" x2="187.69" y2="121.80" stroke="#111" stroke-width="1"/><text x="187.69" y="350.70" class="tk" text-anchor="middle">30</text><line x1="217.51" y1="340.00" x2="217.51" y2="337.80" stroke="#111" stroke-width="1"/><line x1="217.51" y1="119.60" x2="217.51" y2="121.80" stroke="#111" stroke-width="1"/><text x="217.51" y="350.70" class="tk" text-anchor="middle">35</text><line x1="247.32" y1="340.00" x2="247.32" y2="337.80" stroke="#111" stroke-width="1"/><line x1="247.32" y1="119.60" x2="247.32" y2="121.80" stroke="#111" stroke-width="1"/><text x="247.32" y="350.70" class="tk" text-anchor="middle">40</text><line x1="11.80" y1="145.70" x2="14.00" y2="145.70" stroke="#111" stroke-width="1"/><line x1="250.30" y1="145.70" x2="248.10" y2="145.70" stroke="#111" stroke-width="1"/><text x="9.20" y="149.00" class="tk" text-anchor="end">5</text><line x1="11.80" y1="174.70" x2="14.00" y2="174.70" stroke="#111" stroke-width="1"/><line x1="250.30" y1="174.70" x2="248.10" y2="174.70" stroke="#111" stroke-width="1"/><text x="9.20" y="178.00" class="tk" text-anchor="end">10</text><line x1="11.80" y1="203.70" x2="14.00" y2="203.70" stroke="#111" stroke-width="1"/><line x1="250.30" y1="203.70" x2="248.10" y2="203.70" stroke="#111" stroke-width="1"/><text x="9.20" y="207.00" class="tk" text-anchor="end">15</text><line x1="11.80" y1="232.70" x2="14.00" y2="232.70" stroke="#111" stroke-width="1"/><line x1="250.30" y1="232.70" x2="248.10" y2="232.70" stroke="#111" stroke-width="1"/><text x="9.20" y="236.00" class="tk" text-anchor="end">20</text><line x1="11.80" y1="261.70" x2="14.00" y2="261.70" stroke="#111" stroke-width="1"/><line x1="250.30" y1="261.70" x2="248.10" y2="261.70" stroke="#111" stroke-width="1"/><text x="9.20" y="265.00" class="tk" text-anchor="end">25</text><line x1="11.80" y1="290.70" x2="14.00" y2="290.70" stroke="#111" stroke-width="1"/><line x1="250.30" y1="290.70" x2="248.10" y2="290.70" stroke="#111" stroke-width="1"/><text x="9.20" y="294.00" class="tk" text-anchor="end">30</text><line x1="11.80" y1="319.70" x2="14.00" y2="319.70" stroke="#111" stroke-width="1"/><line x1="250.30" y1="319.70" x2="248.10" y2="319.70" stroke="#111" stroke-width="1"/><text x="9.20" y="323.00" class="tk" text-anchor="end">35</text><rect x="313.80" y="119.60" width="237.50" height="220.40" fill="#aaff0f"/><rect x="313.80" y="119.60" width="2.31" height="5.85" fill="#96fa50"/><rect x="316.06" y="119.60" width="2.31" height="5.85" fill="#82f5a0"/><rect x="318.32" y="119.60" width="2.31" height="5.85" fill="#96fa50"/><rect x="322.85" y="119.60" width="2.31" height="5.85" fill="#64ebff"/><rect x="325.11" y="119.60" width="2.31" height="5.85" fill="#96fa50"/><rect x="327.37" y="119.60" width="2.31" height="5.85" fill="#82f5a0"/><rect x="329.63" y="119.60" width="2.31" height="5.85" fill="#96fa50"/><rect x="334.16" y="119.60" width="2.31" height="5.85" fill="#82f5a0"/><rect x="336.42" y="119.60" width="2.31" height="5.85" fill="#96fa50"/><rect x="338.68" y="119.60" width="2.31" height="5.85" fill="#82f5a0"/><rect x="340.94" y="119.60" width="2.31" height="5.85" fill="#82f5a0"/><rect x="343.20" y="119.60" width="2.31" height="5.85" fill="#96fa50"/><rect x="345.47" y="119.60" width="2.31" height="5.85" fill="#96fa50"/><rect x="347.73" y="119.60" width="2.31" height="5.85" fill="#98fa3e"/><rect x="349.99" y="119.60" width="2.31" height="5.85" fill="#64ebff"/><rect x="352.25" y="119.60" width="2.31" height="5.85" fill="#82f5a0"/><rect x="354.51" y="119.60" width="2.31" height="5.85" fill="#1432ff"/><rect x="356.78" y="119.60" width="2.31" height="5.85" fill="#64ebff"/><rect x="359.04" y="119.60" width="2.31" height="5.85" fill="#98fa3e"/><rect x="361.30" y="119.60" width="2.31" height="5.85" fill="#82f5a0"/><rect x="363.56" y="119.60" width="2.31" height="5.85" fill="#96fa50"/><rect x="365.82" y="119.60" width="2.31" height="5.85" fill="#1432ff"/><rect x="368.09" y="119.60" width="2.31" height="5.85" fill="#82f5a0"/><rect x="374.87" y="119.60" width="2.31" height="5.85" fill="#96fa50"/><rect x="377.13" y="119.60" width="2.31" height="5.85" fill="#64ebff"/><rect x="379.40" y="119.60" width="2.31" height="5.85" fill="#82f5a0"/><rect x="381.66" y="119.60" width="2.31" height="5.85" fill="#1432ff"/><rect x="415.59" y="119.60" width="2.31" height="5.85" fill="#98fa3e"/><rect x="417.85" y="119.60" width="2.31" height="5.85" fill="#82f5a0"/><rect x="420.11" y="119.60" width="2.31" height="5.85" fill="#98fa3e"/><rect x="438.20" y="119.60" width="2.31" height="5.85" fill="#98fa3e"/><rect x="313.80" y="125.40" width="2.31" height="5.85" fill="#0000c8"/><rect x="316.06" y="125.40" width="2.31" height="5.85" fill="#64ebff"/><rect x="318.32" y="125.40" width="2.31" height="5.85" fill="#3c96ff"/><rect x="320.59" y="125.40" width="2.31" height="5.85" fill="#3c96ff"/><rect x="322.85" y="125.40" width="2.31" height="5.85" fill="#82f5a0"/><rect x="325.11" y="125.40" width="2.31" height="5.85" fill="#1432ff"/><rect x="331.90" y="125.40" width="2.31" height="5.85" fill="#64ebff"/><rect x="334.16" y="125.40" width="2.31" height="5.85" fill="#2864ff"/><rect x="336.42" y="125.40" width="2.31" height="5.85" fill="#82f5a0"/><rect x="338.68" y="125.40" width="2.31" height="5.85" fill="#1432ff"/><rect x="340.94" y="125.40" width="2.31" height="5.85" fill="#1432ff"/><rect x="343.20" y="125.40" width="2.31" height="5.85" fill="#0000c8"/><rect x="345.47" y="125.40" width="2.31" height="5.85" fill="#1432ff"/><rect x="347.73" y="125.40" width="2.31" height="5.85" fill="#2864ff"/><rect x="349.99" y="125.40" width="2.31" height="5.85" fill="#64ebff"/><rect x="352.25" y="125.40" width="2.31" height="5.85" fill="#98fa3e"/><rect x="359.04" y="125.40" width="2.31" height="5.85" fill="#1432ff"/><rect x="361.30" y="125.40" width="2.31" height="5.85" fill="#1432ff"/><rect x="363.56" y="125.40" width="2.31" height="5.85" fill="#82f5a0"/><rect x="365.82" y="125.40" width="2.31" height="5.85" fill="#1432ff"/><rect x="368.09" y="125.40" width="2.31" height="5.85" fill="#1432ff"/><rect x="370.35" y="125.40" width="2.31" height="5.85" fill="#1432ff"/><rect x="372.61" y="125.40" width="2.31" height="5.85" fill="#2864ff"/><rect x="374.87" y="125.40" width="2.31" height="5.85" fill="#1432ff"/><rect x="377.13" y="125.40" width="2.31" height="5.85" fill="#82f5a0"/><rect x="379.40" y="125.40" width="2.31" height="5.85" fill="#1432ff"/><rect x="381.66" y="125.40" width="2.31" height="5.85" fill="#82f5a0"/><rect x="383.92" y="125.40" width="2.31" height="5.85" fill="#1432ff"/><rect x="392.97" y="125.40" width="2.31" height="5.85" fill="#98fa3e"/><rect x="417.85" y="125.40" width="2.31" height="5.85" fill="#82f5a0"/><rect x="424.63" y="125.40" width="2.31" height="5.85" fill="#98fa3e"/><rect x="433.68" y="125.40" width="2.31" height="5.85" fill="#98fa3e"/><rect x="438.20" y="125.40" width="2.31" height="5.85" fill="#98fa3e"/><rect x="442.73" y="125.40" width="2.31" height="5.85" fill="#98fa3e"/><rect x="458.56" y="125.40" width="2.31" height="5.85" fill="#98fa3e"/><rect x="465.35" y="125.40" width="2.31" height="5.85" fill="#98fa3e"/><rect x="478.92" y="125.40" width="2.31" height="5.85" fill="#98fa3e"/><rect x="533.20" y="125.40" width="2.31" height="5.85" fill="#98fa3e"/><rect x="539.99" y="125.40" width="2.31" height="5.85" fill="#98fa3e"/><rect x="542.25" y="125.40" width="2.31" height="5.85" fill="#98fa3e"/><rect x="313.80" y="131.20" width="2.31" height="5.85" fill="#64ebff"/><rect x="316.06" y="131.20" width="2.31" height="5.85" fill="#64ebff"/><rect x="318.32" y="131.20" width="2.31" height="5.85" fill="#3c96ff"/><rect x="320.59" y="131.20" width="2.31" height="5.85" fill="#3c96ff"/><rect x="322.85" y="131.20" width="2.31" height="5.85" fill="#96fa50"/><rect x="325.11" y="131.20" width="2.31" height="5.85" fill="#98fa3e"/><rect x="327.37" y="131.20" width="2.31" height="5.85" fill="#96fa50"/><rect x="329.63" y="131.20" width="2.31" height="5.85" fill="#98fa3e"/><rect x="331.90" y="131.20" width="2.31" height="5.85" fill="#98fa3e"/><rect x="334.16" y="131.20" width="2.31" height="5.85" fill="#64ebff"/><rect x="336.42" y="131.20" width="2.31" height="5.85" fill="#64ebff"/><rect x="338.68" y="131.20" width="2.31" height="5.85" fill="#64ebff"/><rect x="340.94" y="131.20" width="2.31" height="5.85" fill="#64ebff"/><rect x="343.20" y="131.20" width="2.31" height="5.85" fill="#64ebff"/><rect x="345.47" y="131.20" width="2.31" height="5.85" fill="#64ebff"/><rect x="347.73" y="131.20" width="2.31" height="5.85" fill="#64ebff"/><rect x="349.99" y="131.20" width="2.31" height="5.85" fill="#64ebff"/><rect x="359.04" y="131.20" width="2.31" height="5.85" fill="#2864ff"/><rect x="361.30" y="131.20" width="2.31" height="5.85" fill="#64ebff"/><rect x="363.56" y="131.20" width="2.31" height="5.85" fill="#2864ff"/><rect x="365.82" y="131.20" width="2.31" height="5.85" fill="#82f5a0"/><rect x="368.09" y="131.20" width="2.31" height="5.85" fill="#64ebff"/><rect x="370.35" y="131.20" width="2.31" height="5.85" fill="#64ebff"/><rect x="372.61" y="131.20" width="2.31" height="5.85" fill="#64ebff"/><rect x="374.87" y="131.20" width="2.31" height="5.85" fill="#64ebff"/><rect x="377.13" y="131.20" width="2.31" height="5.85" fill="#82f5a0"/><rect x="379.40" y="131.20" width="2.31" height="5.85" fill="#64ebff"/><rect x="381.66" y="131.20" width="2.31" height="5.85" fill="#82f5a0"/><rect x="383.92" y="131.20" width="2.31" height="5.85" fill="#64ebff"/><rect x="411.06" y="131.20" width="2.31" height="5.85" fill="#98fa3e"/><rect x="413.32" y="131.20" width="2.31" height="5.85" fill="#98fa3e"/><rect x="417.85" y="131.20" width="2.31" height="5.85" fill="#82f5a0"/><rect x="460.82" y="131.20" width="2.31" height="5.85" fill="#98fa3e"/><rect x="490.23" y="131.20" width="2.31" height="5.85" fill="#98fa3e"/><rect x="503.80" y="131.20" width="2.31" height="5.85" fill="#98fa3e"/><rect x="517.37" y="131.20" width="2.31" height="5.85" fill="#98fa3e"/><rect x="526.42" y="131.20" width="2.31" height="5.85" fill="#98fa3e"/><rect x="549.04" y="131.20" width="2.26" height="5.85" fill="#98fa3e"/><rect x="322.85" y="137.00" width="2.31" height="5.85" fill="#c0ff08"/><rect x="336.42" y="137.00" width="2.31" height="5.85" fill="#fa1400"/><rect x="349.99" y="137.00" width="2.31" height="5.85" fill="#fcee00"/><rect x="392.97" y="137.00" width="2.31" height="5.85" fill="#c0ff08"/><rect x="395.23" y="137.00" width="2.31" height="5.85" fill="#c0ff08"/><rect x="417.85" y="137.00" width="2.31" height="5.85" fill="#ffa000"/><rect x="460.82" y="137.00" width="2.31" height="5.85" fill="#c0ff08"/><rect x="512.85" y="137.00" width="2.31" height="5.85" fill="#c0ff08"/><rect x="526.42" y="137.00" width="2.31" height="5.85" fill="#c0ff08"/><rect x="313.80" y="142.80" width="2.31" height="5.85" fill="#82f5a0"/><rect x="316.06" y="142.80" width="2.31" height="5.85" fill="#82f5a0"/><rect x="318.32" y="142.80" width="2.31" height="5.85" fill="#82f5a0"/><rect x="320.59" y="142.80" width="2.31" height="5.85" fill="#96fa50"/><rect x="322.85" y="142.80" width="2.31" height="5.85" fill="#2864ff"/><rect x="325.11" y="142.80" width="2.31" height="5.85" fill="#64ebff"/><rect x="327.37" y="142.80" width="2.31" height="5.85" fill="#64ebff"/><rect x="329.63" y="142.80" width="2.31" height="5.85" fill="#82f5a0"/><rect x="331.90" y="142.80" width="2.31" height="5.85" fill="#1432ff"/><rect x="334.16" y="142.80" width="2.31" height="5.85" fill="#96fa50"/><rect x="336.42" y="142.80" width="2.31" height="5.85" fill="#64ebff"/><rect x="338.68" y="142.80" width="2.31" height="5.85" fill="#82f5a0"/><rect x="340.94" y="142.80" width="2.31" height="5.85" fill="#64ebff"/><rect x="343.20" y="142.80" width="2.31" height="5.85" fill="#64ebff"/><rect x="345.47" y="142.80" width="2.31" height="5.85" fill="#64ebff"/><rect x="347.73" y="142.80" width="2.31" height="5.85" fill="#64ebff"/><rect x="349.99" y="142.80" width="2.31" height="5.85" fill="#64ebff"/><rect x="352.25" y="142.80" width="2.31" height="5.85" fill="#64ebff"/><rect x="354.51" y="142.80" width="2.31" height="5.85" fill="#64ebff"/><rect x="359.04" y="142.80" width="2.31" height="5.85" fill="#64ebff"/><rect x="361.30" y="142.80" width="2.31" height="5.85" fill="#64ebff"/><rect x="363.56" y="142.80" width="2.31" height="5.85" fill="#82f5a0"/><rect x="365.82" y="142.80" width="2.31" height="5.85" fill="#64ebff"/><rect x="368.09" y="142.80" width="2.31" height="5.85" fill="#3c96ff"/><rect x="370.35" y="142.80" width="2.31" height="5.85" fill="#64ebff"/><rect x="372.61" y="142.80" width="2.31" height="5.85" fill="#64ebff"/><rect x="374.87" y="142.80" width="2.31" height="5.85" fill="#64ebff"/><rect x="377.13" y="142.80" width="2.31" height="5.85" fill="#64ebff"/><rect x="379.40" y="142.80" width="2.31" height="5.85" fill="#64ebff"/><rect x="381.66" y="142.80" width="2.31" height="5.85" fill="#64ebff"/><rect x="383.92" y="142.80" width="2.31" height="5.85" fill="#64ebff"/><rect x="408.80" y="142.80" width="2.31" height="5.85" fill="#98fa3e"/><rect x="411.06" y="142.80" width="2.31" height="5.85" fill="#98fa3e"/><rect x="417.85" y="142.80" width="2.31" height="5.85" fill="#82f5a0"/><rect x="435.94" y="142.80" width="2.31" height="5.85" fill="#98fa3e"/><rect x="438.20" y="142.80" width="2.31" height="5.85" fill="#98fa3e"/><rect x="469.87" y="142.80" width="2.31" height="5.85" fill="#98fa3e"/><rect x="499.28" y="142.80" width="2.31" height="5.85" fill="#98fa3e"/><rect x="313.80" y="148.60" width="2.31" height="5.85" fill="#64ebff"/><rect x="316.06" y="148.60" width="2.31" height="5.85" fill="#64ebff"/><rect x="318.32" y="148.60" width="2.31" height="5.85" fill="#82f5a0"/><rect x="320.59" y="148.60" width="2.31" height="5.85" fill="#82f5a0"/><rect x="329.63" y="148.60" width="2.31" height="5.85" fill="#98fa3e"/><rect x="334.16" y="148.60" width="2.31" height="5.85" fill="#82f5a0"/><rect x="340.94" y="148.60" width="2.31" height="5.85" fill="#64ebff"/><rect x="347.73" y="148.60" width="2.31" height="5.85" fill="#82f5a0"/><rect x="352.25" y="148.60" width="2.31" height="5.85" fill="#82f5a0"/><rect x="356.78" y="148.60" width="2.31" height="5.85" fill="#82f5a0"/><rect x="361.30" y="148.60" width="2.31" height="5.85" fill="#96fa50"/><rect x="365.82" y="148.60" width="2.31" height="5.85" fill="#82f5a0"/><rect x="368.09" y="148.60" width="2.31" height="5.85" fill="#64ebff"/><rect x="370.35" y="148.60" width="2.31" height="5.85" fill="#64ebff"/><rect x="372.61" y="148.60" width="2.31" height="5.85" fill="#64ebff"/><rect x="460.82" y="148.60" width="2.31" height="5.85" fill="#98fa3e"/><rect x="526.42" y="148.60" width="2.31" height="5.85" fill="#98fa3e"/><rect x="313.80" y="154.40" width="2.31" height="5.85" fill="#ff5a00"/><rect x="316.06" y="154.40" width="2.31" height="5.85" fill="#cdff05"/><rect x="318.32" y="154.40" width="2.31" height="5.85" fill="#cdff05"/><rect x="325.11" y="154.40" width="2.31" height="5.85" fill="#fa1400"/><rect x="331.90" y="154.40" width="2.31" height="5.85" fill="#cdff05"/><rect x="338.68" y="154.40" width="2.31" height="5.85" fill="#fa1400"/><rect x="343.20" y="154.40" width="2.31" height="5.85" fill="#fcee00"/><rect x="345.47" y="154.40" width="2.31" height="5.85" fill="#ff5a00"/><rect x="349.99" y="154.40" width="2.31" height="5.85" fill="#cdff05"/><rect x="354.51" y="154.40" width="2.31" height="5.85" fill="#fcee00"/><rect x="359.04" y="154.40" width="2.31" height="5.85" fill="#ffa000"/><rect x="361.30" y="154.40" width="2.31" height="5.85" fill="#cdff05"/><rect x="363.56" y="154.40" width="2.31" height="5.85" fill="#fcee00"/><rect x="365.82" y="154.40" width="2.31" height="5.85" fill="#fcee00"/><rect x="374.87" y="154.40" width="2.31" height="5.85" fill="#ff5a00"/><rect x="379.40" y="154.40" width="2.31" height="5.85" fill="#fcee00"/><rect x="383.92" y="154.40" width="2.31" height="5.85" fill="#cdff05"/><rect x="388.44" y="154.40" width="2.31" height="5.85" fill="#c0ff08"/><rect x="404.28" y="154.40" width="2.31" height="5.85" fill="#c0ff08"/><rect x="411.06" y="154.40" width="2.31" height="5.85" fill="#c0ff08"/><rect x="431.42" y="154.40" width="2.31" height="5.85" fill="#c0ff08"/><rect x="447.25" y="154.40" width="2.31" height="5.85" fill="#c0ff08"/><rect x="476.66" y="154.40" width="2.31" height="5.85" fill="#c0ff08"/><rect x="544.51" y="154.40" width="2.31" height="5.85" fill="#c0ff08"/><rect x="313.80" y="160.20" width="2.31" height="5.85" fill="#fcee00"/><rect x="316.06" y="160.20" width="2.31" height="5.85" fill="#fcee00"/><rect x="318.32" y="160.20" width="2.31" height="5.85" fill="#cdff05"/><rect x="320.59" y="160.20" width="2.31" height="5.85" fill="#ffa000"/><rect x="329.63" y="160.20" width="2.31" height="5.85" fill="#cdff05"/><rect x="331.90" y="160.20" width="2.31" height="5.85" fill="#ffa000"/><rect x="340.94" y="160.20" width="2.31" height="5.85" fill="#ffa000"/><rect x="345.47" y="160.20" width="2.31" height="5.85" fill="#c0ff08"/><rect x="347.73" y="160.20" width="2.31" height="5.85" fill="#fa1400"/><rect x="349.99" y="160.20" width="2.31" height="5.85" fill="#fcee00"/><rect x="352.25" y="160.20" width="2.31" height="5.85" fill="#ff5a00"/><rect x="354.51" y="160.20" width="2.31" height="5.85" fill="#cdff05"/><rect x="356.78" y="160.20" width="2.31" height="5.85" fill="#cdff05"/><rect x="365.82" y="160.20" width="2.31" height="5.85" fill="#fa1400"/><rect x="370.35" y="160.20" width="2.31" height="5.85" fill="#cdff05"/><rect x="372.61" y="160.20" width="2.31" height="5.85" fill="#c0ff08"/><rect x="379.40" y="160.20" width="2.31" height="5.85" fill="#fa1400"/><rect x="383.92" y="160.20" width="2.31" height="5.85" fill="#cdff05"/><rect x="435.94" y="160.20" width="2.31" height="5.85" fill="#cdff05"/><rect x="512.85" y="160.20" width="2.31" height="5.85" fill="#c0ff08"/><rect x="537.73" y="160.20" width="2.31" height="5.85" fill="#c0ff08"/><rect x="313.80" y="166.00" width="2.31" height="5.85" fill="#98fa3e"/><rect x="316.06" y="166.00" width="2.31" height="5.85" fill="#82f5a0"/><rect x="340.94" y="166.00" width="2.31" height="5.85" fill="#82f5a0"/><rect x="349.99" y="166.00" width="2.31" height="5.85" fill="#82f5a0"/><rect x="363.56" y="166.00" width="2.31" height="5.85" fill="#98fa3e"/><rect x="386.18" y="166.00" width="2.31" height="5.85" fill="#64ebff"/><rect x="390.70" y="166.00" width="2.31" height="5.85" fill="#64ebff"/><rect x="392.97" y="166.00" width="2.31" height="5.85" fill="#64ebff"/><rect x="395.23" y="166.00" width="2.31" height="5.85" fill="#64ebff"/><rect x="397.49" y="166.00" width="2.31" height="5.85" fill="#82f5a0"/><rect x="399.75" y="166.00" width="2.31" height="5.85" fill="#64ebff"/><rect x="404.28" y="166.00" width="2.31" height="5.85" fill="#82f5a0"/><rect x="408.80" y="166.00" width="2.31" height="5.85" fill="#64ebff"/><rect x="420.11" y="166.00" width="2.31" height="5.85" fill="#98fa3e"/><rect x="433.68" y="166.00" width="2.31" height="5.85" fill="#82f5a0"/><rect x="449.51" y="166.00" width="2.31" height="5.85" fill="#82f5a0"/><rect x="451.78" y="166.00" width="2.31" height="5.85" fill="#98fa3e"/><rect x="472.13" y="166.00" width="2.31" height="5.85" fill="#82f5a0"/><rect x="478.92" y="166.00" width="2.31" height="5.85" fill="#98fa3e"/><rect x="526.42" y="166.00" width="2.31" height="5.85" fill="#98fa3e"/><rect x="533.20" y="166.00" width="2.31" height="5.85" fill="#98fa3e"/><rect x="544.51" y="166.00" width="2.31" height="5.85" fill="#98fa3e"/><rect x="322.85" y="171.80" width="2.31" height="5.85" fill="#98fa3e"/><rect x="334.16" y="171.80" width="2.31" height="5.85" fill="#82f5a0"/><rect x="340.94" y="171.80" width="2.31" height="5.85" fill="#98fa3e"/><rect x="349.99" y="171.80" width="2.31" height="5.85" fill="#64ebff"/><rect x="352.25" y="171.80" width="2.31" height="5.85" fill="#64ebff"/><rect x="363.56" y="171.80" width="2.31" height="5.85" fill="#98fa3e"/><rect x="370.35" y="171.80" width="2.31" height="5.85" fill="#98fa3e"/><rect x="381.66" y="171.80" width="2.31" height="5.85" fill="#98fa3e"/><rect x="386.18" y="171.80" width="2.31" height="5.85" fill="#1432ff"/><rect x="390.70" y="171.80" width="2.31" height="5.85" fill="#2864ff"/><rect x="392.97" y="171.80" width="2.31" height="5.85" fill="#2864ff"/><rect x="395.23" y="171.80" width="2.31" height="5.85" fill="#82f5a0"/><rect x="397.49" y="171.80" width="2.31" height="5.85" fill="#3c96ff"/><rect x="399.75" y="171.80" width="2.31" height="5.85" fill="#64ebff"/><rect x="402.01" y="171.80" width="2.31" height="5.85" fill="#1432ff"/><rect x="404.28" y="171.80" width="2.31" height="5.85" fill="#82f5a0"/><rect x="406.54" y="171.80" width="2.31" height="5.85" fill="#64ebff"/><rect x="408.80" y="171.80" width="2.31" height="5.85" fill="#64ebff"/><rect x="415.59" y="171.80" width="2.31" height="5.85" fill="#82f5a0"/><rect x="417.85" y="171.80" width="2.31" height="5.85" fill="#82f5a0"/><rect x="438.20" y="171.80" width="2.31" height="5.85" fill="#82f5a0"/><rect x="447.25" y="171.80" width="2.31" height="5.85" fill="#82f5a0"/><rect x="449.51" y="171.80" width="2.31" height="5.85" fill="#82f5a0"/><rect x="463.09" y="171.80" width="2.31" height="5.85" fill="#98fa3e"/><rect x="467.61" y="171.80" width="2.31" height="5.85" fill="#82f5a0"/><rect x="474.40" y="171.80" width="2.31" height="5.85" fill="#82f5a0"/><rect x="501.54" y="171.80" width="2.31" height="5.85" fill="#98fa3e"/><rect x="322.85" y="177.60" width="2.31" height="5.85" fill="#ffa000"/><rect x="327.37" y="177.60" width="2.31" height="5.85" fill="#fa1400"/><rect x="329.63" y="177.60" width="2.31" height="5.85" fill="#fcee00"/><rect x="331.90" y="177.60" width="2.31" height="5.85" fill="#fcee00"/><rect x="336.42" y="177.60" width="2.31" height="5.85" fill="#cdff05"/><rect x="345.47" y="177.60" width="2.31" height="5.85" fill="#cdff05"/><rect x="356.78" y="177.60" width="2.31" height="5.85" fill="#ffa000"/><rect x="365.82" y="177.60" width="2.31" height="5.85" fill="#fcee00"/><rect x="377.13" y="177.60" width="2.31" height="5.85" fill="#ffa000"/><rect x="379.40" y="177.60" width="2.31" height="5.85" fill="#cdff05"/><rect x="390.70" y="177.60" width="2.31" height="5.85" fill="#cdff05"/><rect x="397.49" y="177.60" width="2.31" height="5.85" fill="#cdff05"/><rect x="399.75" y="177.60" width="2.31" height="5.85" fill="#cdff05"/><rect x="411.06" y="177.60" width="2.31" height="5.85" fill="#fa1400"/><rect x="417.85" y="177.60" width="2.31" height="5.85" fill="#c0ff08"/><rect x="426.90" y="177.60" width="2.31" height="5.85" fill="#cdff05"/><rect x="442.73" y="177.60" width="2.31" height="5.85" fill="#c0ff08"/><rect x="447.25" y="177.60" width="2.31" height="5.85" fill="#cdff05"/><rect x="458.56" y="177.60" width="2.31" height="5.85" fill="#c0ff08"/><rect x="460.82" y="177.60" width="2.31" height="5.85" fill="#c0ff08"/><rect x="467.61" y="177.60" width="2.31" height="5.85" fill="#c0ff08"/><rect x="313.80" y="183.40" width="2.31" height="5.85" fill="#64ebff"/><rect x="329.63" y="183.40" width="2.31" height="5.85" fill="#82f5a0"/><rect x="331.90" y="183.40" width="2.31" height="5.85" fill="#82f5a0"/><rect x="334.16" y="183.40" width="2.31" height="5.85" fill="#82f5a0"/><rect x="336.42" y="183.40" width="2.31" height="5.85" fill="#82f5a0"/><rect x="345.47" y="183.40" width="2.31" height="5.85" fill="#98fa3e"/><rect x="347.73" y="183.40" width="2.31" height="5.85" fill="#98fa3e"/><rect x="349.99" y="183.40" width="2.31" height="5.85" fill="#82f5a0"/><rect x="363.56" y="183.40" width="2.31" height="5.85" fill="#98fa3e"/><rect x="368.09" y="183.40" width="2.31" height="5.85" fill="#82f5a0"/><rect x="374.87" y="183.40" width="2.31" height="5.85" fill="#64ebff"/><rect x="379.40" y="183.40" width="2.31" height="5.85" fill="#64ebff"/><rect x="386.18" y="183.40" width="2.31" height="5.85" fill="#64ebff"/><rect x="388.44" y="183.40" width="2.31" height="5.85" fill="#64ebff"/><rect x="390.70" y="183.40" width="2.31" height="5.85" fill="#82f5a0"/><rect x="392.97" y="183.40" width="2.31" height="5.85" fill="#64ebff"/><rect x="395.23" y="183.40" width="2.31" height="5.85" fill="#82f5a0"/><rect x="397.49" y="183.40" width="2.31" height="5.85" fill="#64ebff"/><rect x="399.75" y="183.40" width="2.31" height="5.85" fill="#2864ff"/><rect x="402.01" y="183.40" width="2.31" height="5.85" fill="#64ebff"/><rect x="404.28" y="183.40" width="2.31" height="5.85" fill="#64ebff"/><rect x="406.54" y="183.40" width="2.31" height="5.85" fill="#64ebff"/><rect x="408.80" y="183.40" width="2.31" height="5.85" fill="#82f5a0"/><rect x="422.37" y="183.40" width="2.31" height="5.85" fill="#98fa3e"/><rect x="429.16" y="183.40" width="2.31" height="5.85" fill="#98fa3e"/><rect x="435.94" y="183.40" width="2.31" height="5.85" fill="#82f5a0"/><rect x="438.20" y="183.40" width="2.31" height="5.85" fill="#82f5a0"/><rect x="440.47" y="183.40" width="2.31" height="5.85" fill="#82f5a0"/><rect x="442.73" y="183.40" width="2.31" height="5.85" fill="#82f5a0"/><rect x="444.99" y="183.40" width="2.31" height="5.85" fill="#82f5a0"/><rect x="449.51" y="183.40" width="2.31" height="5.85" fill="#64ebff"/><rect x="454.04" y="183.40" width="2.31" height="5.85" fill="#98fa3e"/><rect x="463.09" y="183.40" width="2.31" height="5.85" fill="#82f5a0"/><rect x="465.35" y="183.40" width="2.31" height="5.85" fill="#82f5a0"/><rect x="476.66" y="183.40" width="2.31" height="5.85" fill="#98fa3e"/><rect x="478.92" y="183.40" width="2.31" height="5.85" fill="#82f5a0"/><rect x="506.06" y="183.40" width="2.31" height="5.85" fill="#98fa3e"/><rect x="537.73" y="183.40" width="2.31" height="5.85" fill="#98fa3e"/><rect x="539.99" y="183.40" width="2.31" height="5.85" fill="#98fa3e"/><rect x="327.37" y="189.20" width="2.31" height="5.85" fill="#c0ff08"/><rect x="334.16" y="189.20" width="2.31" height="5.85" fill="#cdff05"/><rect x="338.68" y="189.20" width="2.31" height="5.85" fill="#cdff05"/><rect x="345.47" y="189.20" width="2.31" height="5.85" fill="#cdff05"/><rect x="356.78" y="189.20" width="2.31" height="5.85" fill="#cdff05"/><rect x="363.56" y="189.20" width="2.31" height="5.85" fill="#cdff05"/><rect x="368.09" y="189.20" width="2.31" height="5.85" fill="#c0ff08"/><rect x="370.35" y="189.20" width="2.31" height="5.85" fill="#cdff05"/><rect x="395.23" y="189.20" width="2.31" height="5.85" fill="#cdff05"/><rect x="397.49" y="189.20" width="2.31" height="5.85" fill="#fcee00"/><rect x="399.75" y="189.20" width="2.31" height="5.85" fill="#cdff05"/><rect x="402.01" y="189.20" width="2.31" height="5.85" fill="#cdff05"/><rect x="404.28" y="189.20" width="2.31" height="5.85" fill="#cdff05"/><rect x="406.54" y="189.20" width="2.31" height="5.85" fill="#cdff05"/><rect x="422.37" y="189.20" width="2.31" height="5.85" fill="#cdff05"/><rect x="429.16" y="189.20" width="2.31" height="5.85" fill="#c0ff08"/><rect x="449.51" y="189.20" width="2.31" height="5.85" fill="#c0ff08"/><rect x="474.40" y="189.20" width="2.31" height="5.85" fill="#cdff05"/><rect x="524.16" y="189.20" width="2.31" height="5.85" fill="#c0ff08"/><rect x="535.47" y="189.20" width="2.31" height="5.85" fill="#c0ff08"/><rect x="320.59" y="195.00" width="2.31" height="5.85" fill="#fcee00"/><rect x="322.85" y="195.00" width="2.31" height="5.85" fill="#fcee00"/><rect x="327.37" y="195.00" width="2.31" height="5.85" fill="#fcee00"/><rect x="340.94" y="195.00" width="2.31" height="5.85" fill="#cdff05"/><rect x="349.99" y="195.00" width="2.31" height="5.85" fill="#cdff05"/><rect x="354.51" y="195.00" width="2.31" height="5.85" fill="#cdff05"/><rect x="359.04" y="195.00" width="2.31" height="5.85" fill="#cdff05"/><rect x="368.09" y="195.00" width="2.31" height="5.85" fill="#c0ff08"/><rect x="370.35" y="195.00" width="2.31" height="5.85" fill="#c0ff08"/><rect x="372.61" y="195.00" width="2.31" height="5.85" fill="#cdff05"/><rect x="381.66" y="195.00" width="2.31" height="5.85" fill="#c0ff08"/><rect x="383.92" y="195.00" width="2.31" height="5.85" fill="#cdff05"/><rect x="388.44" y="195.00" width="2.31" height="5.85" fill="#ffa000"/><rect x="390.70" y="195.00" width="2.31" height="5.85" fill="#cdff05"/><rect x="392.97" y="195.00" width="2.31" height="5.85" fill="#ffa000"/><rect x="395.23" y="195.00" width="2.31" height="5.85" fill="#fcee00"/><rect x="397.49" y="195.00" width="2.31" height="5.85" fill="#ffa000"/><rect x="404.28" y="195.00" width="2.31" height="5.85" fill="#cdff05"/><rect x="406.54" y="195.00" width="2.31" height="5.85" fill="#ffa000"/><rect x="408.80" y="195.00" width="2.31" height="5.85" fill="#ffa000"/><rect x="411.06" y="195.00" width="2.31" height="5.85" fill="#cdff05"/><rect x="435.94" y="195.00" width="2.31" height="5.85" fill="#82f5a0"/><rect x="442.73" y="195.00" width="2.31" height="5.85" fill="#c0ff08"/><rect x="460.82" y="195.00" width="2.31" height="5.85" fill="#82f5a0"/><rect x="463.09" y="195.00" width="2.31" height="5.85" fill="#c0ff08"/><rect x="499.28" y="195.00" width="2.31" height="5.85" fill="#c0ff08"/><rect x="508.32" y="195.00" width="2.31" height="5.85" fill="#c0ff08"/><rect x="528.68" y="195.00" width="2.31" height="5.85" fill="#c0ff08"/><rect x="542.25" y="195.00" width="2.31" height="5.85" fill="#c0ff08"/><rect x="340.94" y="200.80" width="2.31" height="5.85" fill="#98fa3e"/><rect x="365.82" y="200.80" width="2.31" height="5.85" fill="#98fa3e"/><rect x="379.40" y="200.80" width="2.31" height="5.85" fill="#98fa3e"/><rect x="381.66" y="200.80" width="2.31" height="5.85" fill="#98fa3e"/><rect x="386.18" y="200.80" width="2.31" height="5.85" fill="#82f5a0"/><rect x="388.44" y="200.80" width="2.31" height="5.85" fill="#82f5a0"/><rect x="390.70" y="200.80" width="2.31" height="5.85" fill="#82f5a0"/><rect x="392.97" y="200.80" width="2.31" height="5.85" fill="#82f5a0"/><rect x="395.23" y="200.80" width="2.31" height="5.85" fill="#98fa3e"/><rect x="397.49" y="200.80" width="2.31" height="5.85" fill="#82f5a0"/><rect x="399.75" y="200.80" width="2.31" height="5.85" fill="#82f5a0"/><rect x="402.01" y="200.80" width="2.31" height="5.85" fill="#82f5a0"/><rect x="408.80" y="200.80" width="2.31" height="5.85" fill="#82f5a0"/><rect x="435.94" y="200.80" width="2.31" height="5.85" fill="#98fa3e"/><rect x="456.30" y="200.80" width="2.31" height="5.85" fill="#98fa3e"/><rect x="492.49" y="200.80" width="2.31" height="5.85" fill="#98fa3e"/><rect x="510.59" y="200.80" width="2.31" height="5.85" fill="#98fa3e"/><rect x="515.11" y="200.80" width="2.31" height="5.85" fill="#98fa3e"/><rect x="316.06" y="206.60" width="2.31" height="5.85" fill="#fcee00"/><rect x="349.99" y="206.60" width="2.31" height="5.85" fill="#fcee00"/><rect x="352.25" y="206.60" width="2.31" height="5.85" fill="#c0ff08"/><rect x="356.78" y="206.60" width="2.31" height="5.85" fill="#c0ff08"/><rect x="374.87" y="206.60" width="2.31" height="5.85" fill="#c0ff08"/><rect x="383.92" y="206.60" width="2.31" height="5.85" fill="#fa1400"/><rect x="388.44" y="206.60" width="2.31" height="5.85" fill="#cdff05"/><rect x="395.23" y="206.60" width="2.31" height="5.85" fill="#ffa000"/><rect x="402.01" y="206.60" width="2.31" height="5.85" fill="#cdff05"/><rect x="404.28" y="206.60" width="2.31" height="5.85" fill="#fcee00"/><rect x="406.54" y="206.60" width="2.31" height="5.85" fill="#ffa000"/><rect x="408.80" y="206.60" width="2.31" height="5.85" fill="#fcee00"/><rect x="420.11" y="206.60" width="2.31" height="5.85" fill="#c0ff08"/><rect x="442.73" y="206.60" width="2.31" height="5.85" fill="#c0ff08"/><rect x="447.25" y="206.60" width="2.31" height="5.85" fill="#c0ff08"/><rect x="449.51" y="206.60" width="2.31" height="5.85" fill="#c0ff08"/><rect x="474.40" y="206.60" width="2.31" height="5.85" fill="#c0ff08"/><rect x="549.04" y="206.60" width="2.26" height="5.85" fill="#c0ff08"/><rect x="322.85" y="212.40" width="2.31" height="5.85" fill="#cdff05"/><rect x="327.37" y="212.40" width="2.31" height="5.85" fill="#fcee00"/><rect x="329.63" y="212.40" width="2.31" height="5.85" fill="#fa1400"/><rect x="331.90" y="212.40" width="2.31" height="5.85" fill="#fcee00"/><rect x="336.42" y="212.40" width="2.31" height="5.85" fill="#cdff05"/><rect x="352.25" y="212.40" width="2.31" height="5.85" fill="#ffa000"/><rect x="354.51" y="212.40" width="2.31" height="5.85" fill="#cdff05"/><rect x="356.78" y="212.40" width="2.31" height="5.85" fill="#cdff05"/><rect x="361.30" y="212.40" width="2.31" height="5.85" fill="#cdff05"/><rect x="377.13" y="212.40" width="2.31" height="5.85" fill="#ffa000"/><rect x="388.44" y="212.40" width="2.31" height="5.85" fill="#fa1400"/><rect x="390.70" y="212.40" width="2.31" height="5.85" fill="#c0ff08"/><rect x="392.97" y="212.40" width="2.31" height="5.85" fill="#fcee00"/><rect x="399.75" y="212.40" width="2.31" height="5.85" fill="#fa1400"/><rect x="404.28" y="212.40" width="2.31" height="5.85" fill="#fa1400"/><rect x="408.80" y="212.40" width="2.31" height="5.85" fill="#ffa000"/><rect x="417.85" y="212.40" width="2.31" height="5.85" fill="#fcee00"/><rect x="422.37" y="212.40" width="2.31" height="5.85" fill="#c0ff08"/><rect x="426.90" y="212.40" width="2.31" height="5.85" fill="#cdff05"/><rect x="438.20" y="212.40" width="2.31" height="5.85" fill="#c0ff08"/><rect x="442.73" y="212.40" width="2.31" height="5.85" fill="#cdff05"/><rect x="447.25" y="212.40" width="2.31" height="5.85" fill="#ff5a00"/><rect x="449.51" y="212.40" width="2.31" height="5.85" fill="#fa1400"/><rect x="451.78" y="212.40" width="2.31" height="5.85" fill="#fa1400"/><rect x="454.04" y="212.40" width="2.31" height="5.85" fill="#cdff05"/><rect x="467.61" y="212.40" width="2.31" height="5.85" fill="#ff5a00"/><rect x="476.66" y="212.40" width="2.31" height="5.85" fill="#c0ff08"/><rect x="481.18" y="212.40" width="2.31" height="5.85" fill="#cdff05"/><rect x="535.47" y="212.40" width="2.31" height="5.85" fill="#c0ff08"/><rect x="546.78" y="212.40" width="2.31" height="5.85" fill="#c0ff08"/><rect x="320.59" y="218.20" width="2.31" height="5.85" fill="#82f5a0"/><rect x="322.85" y="218.20" width="2.31" height="5.85" fill="#98fa3e"/><rect x="345.47" y="218.20" width="2.31" height="5.85" fill="#82f5a0"/><rect x="361.30" y="218.20" width="2.31" height="5.85" fill="#82f5a0"/><rect x="365.82" y="218.20" width="2.31" height="5.85" fill="#82f5a0"/><rect x="370.35" y="218.20" width="2.31" height="5.85" fill="#82f5a0"/><rect x="372.61" y="218.20" width="2.31" height="5.85" fill="#98fa3e"/><rect x="386.18" y="218.20" width="2.31" height="5.85" fill="#82f5a0"/><rect x="388.44" y="218.20" width="2.31" height="5.85" fill="#82f5a0"/><rect x="390.70" y="218.20" width="2.31" height="5.85" fill="#82f5a0"/><rect x="397.49" y="218.20" width="2.31" height="5.85" fill="#64ebff"/><rect x="399.75" y="218.20" width="2.31" height="5.85" fill="#82f5a0"/><rect x="404.28" y="218.20" width="2.31" height="5.85" fill="#82f5a0"/><rect x="406.54" y="218.20" width="2.31" height="5.85" fill="#82f5a0"/><rect x="417.85" y="218.20" width="2.31" height="5.85" fill="#98fa3e"/><rect x="447.25" y="218.20" width="2.31" height="5.85" fill="#82f5a0"/><rect x="449.51" y="218.20" width="2.31" height="5.85" fill="#82f5a0"/><rect x="497.01" y="218.20" width="2.31" height="5.85" fill="#98fa3e"/><rect x="512.85" y="218.20" width="2.31" height="5.85" fill="#98fa3e"/><rect x="528.68" y="218.20" width="2.31" height="5.85" fill="#98fa3e"/><rect x="535.47" y="218.20" width="2.31" height="5.85" fill="#98fa3e"/><rect x="329.63" y="224.00" width="2.31" height="5.85" fill="#c0ff08"/><rect x="331.90" y="224.00" width="2.31" height="5.85" fill="#c0ff08"/><rect x="349.99" y="224.00" width="2.31" height="5.85" fill="#c0ff08"/><rect x="352.25" y="224.00" width="2.31" height="5.85" fill="#c0ff08"/><rect x="356.78" y="224.00" width="2.31" height="5.85" fill="#c0ff08"/><rect x="374.87" y="224.00" width="2.31" height="5.85" fill="#c0ff08"/><rect x="422.37" y="224.00" width="2.31" height="5.85" fill="#ffa000"/><rect x="424.63" y="224.00" width="2.31" height="5.85" fill="#cdff05"/><rect x="429.16" y="224.00" width="2.31" height="5.85" fill="#ff5a00"/><rect x="433.68" y="224.00" width="2.31" height="5.85" fill="#fcee00"/><rect x="438.20" y="224.00" width="2.31" height="5.85" fill="#cdff05"/><rect x="440.47" y="224.00" width="2.31" height="5.85" fill="#cdff05"/><rect x="442.73" y="224.00" width="2.31" height="5.85" fill="#c0ff08"/><rect x="444.99" y="224.00" width="2.31" height="5.85" fill="#fcee00"/><rect x="447.25" y="224.00" width="2.31" height="5.85" fill="#c0ff08"/><rect x="449.51" y="224.00" width="2.31" height="5.85" fill="#cdff05"/><rect x="451.78" y="224.00" width="2.31" height="5.85" fill="#cdff05"/><rect x="456.30" y="224.00" width="2.31" height="5.85" fill="#cdff05"/><rect x="458.56" y="224.00" width="2.31" height="5.85" fill="#cdff05"/><rect x="463.09" y="224.00" width="2.31" height="5.85" fill="#cdff05"/><rect x="474.40" y="224.00" width="2.31" height="5.85" fill="#ffa000"/><rect x="478.92" y="224.00" width="2.31" height="5.85" fill="#c0ff08"/><rect x="481.18" y="224.00" width="2.31" height="5.85" fill="#ffa000"/><rect x="515.11" y="224.00" width="2.31" height="5.85" fill="#c0ff08"/><rect x="544.51" y="224.00" width="2.31" height="5.85" fill="#c0ff08"/><rect x="345.47" y="229.80" width="2.31" height="5.85" fill="#c0ff08"/><rect x="361.30" y="229.80" width="2.31" height="5.85" fill="#c0ff08"/><rect x="392.97" y="229.80" width="2.31" height="5.85" fill="#c0ff08"/><rect x="408.80" y="229.80" width="2.31" height="5.85" fill="#c0ff08"/><rect x="411.06" y="229.80" width="2.31" height="5.85" fill="#c0ff08"/><rect x="415.59" y="229.80" width="2.31" height="5.85" fill="#c0ff08"/><rect x="424.63" y="229.80" width="2.31" height="5.85" fill="#cdff05"/><rect x="454.04" y="229.80" width="2.31" height="5.85" fill="#82f5a0"/><rect x="469.87" y="229.80" width="2.31" height="5.85" fill="#c0ff08"/><rect x="474.40" y="229.80" width="2.31" height="5.85" fill="#cdff05"/><rect x="483.44" y="229.80" width="2.31" height="5.85" fill="#cdff05"/><rect x="487.97" y="229.80" width="2.31" height="5.85" fill="#cdff05"/><rect x="499.28" y="229.80" width="2.31" height="5.85" fill="#c0ff08"/><rect x="515.11" y="229.80" width="2.31" height="5.85" fill="#c0ff08"/><rect x="526.42" y="229.80" width="2.31" height="5.85" fill="#c0ff08"/><rect x="539.99" y="229.80" width="2.31" height="5.85" fill="#c0ff08"/><rect x="356.78" y="235.60" width="2.31" height="5.85" fill="#c0ff08"/><rect x="372.61" y="235.60" width="2.31" height="5.85" fill="#c0ff08"/><rect x="386.18" y="235.60" width="2.31" height="5.85" fill="#c0ff08"/><rect x="392.97" y="235.60" width="2.31" height="5.85" fill="#c0ff08"/><rect x="395.23" y="235.60" width="2.31" height="5.85" fill="#c0ff08"/><rect x="399.75" y="235.60" width="2.31" height="5.85" fill="#c0ff08"/><rect x="411.06" y="235.60" width="2.31" height="5.85" fill="#c0ff08"/><rect x="413.32" y="235.60" width="2.31" height="5.85" fill="#cdff05"/><rect x="422.37" y="235.60" width="2.31" height="5.85" fill="#cdff05"/><rect x="442.73" y="235.60" width="2.31" height="5.85" fill="#cdff05"/><rect x="444.99" y="235.60" width="2.31" height="5.85" fill="#c0ff08"/><rect x="449.51" y="235.60" width="2.31" height="5.85" fill="#cdff05"/><rect x="463.09" y="235.60" width="2.31" height="5.85" fill="#c0ff08"/><rect x="476.66" y="235.60" width="2.31" height="5.85" fill="#fcee00"/><rect x="478.92" y="235.60" width="2.31" height="5.85" fill="#fcee00"/><rect x="481.18" y="235.60" width="2.31" height="5.85" fill="#cdff05"/><rect x="490.23" y="235.60" width="2.31" height="5.85" fill="#cdff05"/><rect x="519.63" y="235.60" width="2.31" height="5.85" fill="#c0ff08"/><rect x="521.90" y="235.60" width="2.31" height="5.85" fill="#c0ff08"/><rect x="530.94" y="235.60" width="2.31" height="5.85" fill="#c0ff08"/><rect x="318.32" y="241.40" width="2.31" height="5.85" fill="#98fa3e"/><rect x="325.11" y="241.40" width="2.31" height="5.85" fill="#98fa3e"/><rect x="334.16" y="241.40" width="2.31" height="5.85" fill="#98fa3e"/><rect x="338.68" y="241.40" width="2.31" height="5.85" fill="#98fa3e"/><rect x="370.35" y="241.40" width="2.31" height="5.85" fill="#98fa3e"/><rect x="381.66" y="241.40" width="2.31" height="5.85" fill="#98fa3e"/><rect x="413.32" y="241.40" width="2.31" height="5.85" fill="#1432ff"/><rect x="415.59" y="241.40" width="2.31" height="5.85" fill="#2864ff"/><rect x="417.85" y="241.40" width="2.31" height="5.85" fill="#1432ff"/><rect x="422.37" y="241.40" width="2.31" height="5.85" fill="#64ebff"/><rect x="424.63" y="241.40" width="2.31" height="5.85" fill="#64ebff"/><rect x="426.90" y="241.40" width="2.31" height="5.85" fill="#82f5a0"/><rect x="429.16" y="241.40" width="2.31" height="5.85" fill="#1432ff"/><rect x="431.42" y="241.40" width="2.31" height="5.85" fill="#2864ff"/><rect x="433.68" y="241.40" width="2.31" height="5.85" fill="#64ebff"/><rect x="435.94" y="241.40" width="2.31" height="5.85" fill="#64ebff"/><rect x="438.20" y="241.40" width="2.31" height="5.85" fill="#82f5a0"/><rect x="442.73" y="241.40" width="2.31" height="5.85" fill="#1432ff"/><rect x="444.99" y="241.40" width="2.31" height="5.85" fill="#64ebff"/><rect x="447.25" y="241.40" width="2.31" height="5.85" fill="#98fa3e"/><rect x="449.51" y="241.40" width="2.31" height="5.85" fill="#3c96ff"/><rect x="451.78" y="241.40" width="2.31" height="5.85" fill="#64ebff"/><rect x="454.04" y="241.40" width="2.31" height="5.85" fill="#64ebff"/><rect x="456.30" y="241.40" width="2.31" height="5.85" fill="#1432ff"/><rect x="458.56" y="241.40" width="2.31" height="5.85" fill="#64ebff"/><rect x="460.82" y="241.40" width="2.31" height="5.85" fill="#3c96ff"/><rect x="463.09" y="241.40" width="2.31" height="5.85" fill="#1432ff"/><rect x="465.35" y="241.40" width="2.31" height="5.85" fill="#64ebff"/><rect x="467.61" y="241.40" width="2.31" height="5.85" fill="#82f5a0"/><rect x="469.87" y="241.40" width="2.31" height="5.85" fill="#2864ff"/><rect x="472.13" y="241.40" width="2.31" height="5.85" fill="#64ebff"/><rect x="474.40" y="241.40" width="2.31" height="5.85" fill="#82f5a0"/><rect x="476.66" y="241.40" width="2.31" height="5.85" fill="#2864ff"/><rect x="478.92" y="241.40" width="2.31" height="5.85" fill="#64ebff"/><rect x="481.18" y="241.40" width="2.31" height="5.85" fill="#1432ff"/><rect x="483.44" y="241.40" width="2.31" height="5.85" fill="#64ebff"/><rect x="485.70" y="241.40" width="2.31" height="5.85" fill="#82f5a0"/><rect x="515.11" y="241.40" width="2.31" height="5.85" fill="#98fa3e"/><rect x="549.04" y="241.40" width="2.26" height="5.85" fill="#98fa3e"/><rect x="316.06" y="247.20" width="2.31" height="5.85" fill="#c0ff08"/><rect x="322.85" y="247.20" width="2.31" height="5.85" fill="#c0ff08"/><rect x="370.35" y="247.20" width="2.31" height="5.85" fill="#c0ff08"/><rect x="402.01" y="247.20" width="2.31" height="5.85" fill="#c0ff08"/><rect x="415.59" y="247.20" width="2.31" height="5.85" fill="#cdff05"/><rect x="417.85" y="247.20" width="2.31" height="5.85" fill="#ffa000"/><rect x="420.11" y="247.20" width="2.31" height="5.85" fill="#fcee00"/><rect x="422.37" y="247.20" width="2.31" height="5.85" fill="#cdff05"/><rect x="424.63" y="247.20" width="2.31" height="5.85" fill="#cdff05"/><rect x="426.90" y="247.20" width="2.31" height="5.85" fill="#fa1400"/><rect x="431.42" y="247.20" width="2.31" height="5.85" fill="#820000"/><rect x="447.25" y="247.20" width="2.31" height="5.85" fill="#ffa000"/><rect x="449.51" y="247.20" width="2.31" height="5.85" fill="#fcee00"/><rect x="451.78" y="247.20" width="2.31" height="5.85" fill="#fcee00"/><rect x="454.04" y="247.20" width="2.31" height="5.85" fill="#cdff05"/><rect x="456.30" y="247.20" width="2.31" height="5.85" fill="#fa1400"/><rect x="458.56" y="247.20" width="2.31" height="5.85" fill="#cdff05"/><rect x="463.09" y="247.20" width="2.31" height="5.85" fill="#cdff05"/><rect x="467.61" y="247.20" width="2.31" height="5.85" fill="#fa1400"/><rect x="472.13" y="247.20" width="2.31" height="5.85" fill="#fa1400"/><rect x="474.40" y="247.20" width="2.31" height="5.85" fill="#cdff05"/><rect x="478.92" y="247.20" width="2.31" height="5.85" fill="#fa1400"/><rect x="483.44" y="247.20" width="2.31" height="5.85" fill="#cdff05"/><rect x="485.70" y="247.20" width="2.31" height="5.85" fill="#fa1400"/><rect x="490.23" y="247.20" width="2.31" height="5.85" fill="#ff5a00"/><rect x="524.16" y="247.20" width="2.31" height="5.85" fill="#c0ff08"/><rect x="549.04" y="247.20" width="2.26" height="5.85" fill="#c0ff08"/><rect x="359.04" y="253.00" width="2.31" height="5.85" fill="#98fa3e"/><rect x="411.06" y="253.00" width="2.31" height="5.85" fill="#98fa3e"/><rect x="413.32" y="253.00" width="2.31" height="5.85" fill="#64ebff"/><rect x="415.59" y="253.00" width="2.31" height="5.85" fill="#82f5a0"/><rect x="417.85" y="253.00" width="2.31" height="5.85" fill="#98fa3e"/><rect x="420.11" y="253.00" width="2.31" height="5.85" fill="#64ebff"/><rect x="422.37" y="253.00" width="2.31" height="5.85" fill="#64ebff"/><rect x="424.63" y="253.00" width="2.31" height="5.85" fill="#2864ff"/><rect x="426.90" y="253.00" width="2.31" height="5.85" fill="#64ebff"/><rect x="429.16" y="253.00" width="2.31" height="5.85" fill="#82f5a0"/><rect x="431.42" y="253.00" width="2.31" height="5.85" fill="#3c96ff"/><rect x="433.68" y="253.00" width="2.31" height="5.85" fill="#64ebff"/><rect x="435.94" y="253.00" width="2.31" height="5.85" fill="#1432ff"/><rect x="438.20" y="253.00" width="2.31" height="5.85" fill="#1432ff"/><rect x="442.73" y="253.00" width="2.31" height="5.85" fill="#64ebff"/><rect x="444.99" y="253.00" width="2.31" height="5.85" fill="#64ebff"/><rect x="449.51" y="253.00" width="2.31" height="5.85" fill="#3c96ff"/><rect x="451.78" y="253.00" width="2.31" height="5.85" fill="#64ebff"/><rect x="454.04" y="253.00" width="2.31" height="5.85" fill="#3c96ff"/><rect x="456.30" y="253.00" width="2.31" height="5.85" fill="#64ebff"/><rect x="458.56" y="253.00" width="2.31" height="5.85" fill="#64ebff"/><rect x="460.82" y="253.00" width="2.31" height="5.85" fill="#64ebff"/><rect x="463.09" y="253.00" width="2.31" height="5.85" fill="#1432ff"/><rect x="465.35" y="253.00" width="2.31" height="5.85" fill="#64ebff"/><rect x="469.87" y="253.00" width="2.31" height="5.85" fill="#64ebff"/><rect x="472.13" y="253.00" width="2.31" height="5.85" fill="#64ebff"/><rect x="474.40" y="253.00" width="2.31" height="5.85" fill="#64ebff"/><rect x="476.66" y="253.00" width="2.31" height="5.85" fill="#64ebff"/><rect x="478.92" y="253.00" width="2.31" height="5.85" fill="#64ebff"/><rect x="481.18" y="253.00" width="2.31" height="5.85" fill="#82f5a0"/><rect x="483.44" y="253.00" width="2.31" height="5.85" fill="#64ebff"/><rect x="485.70" y="253.00" width="2.31" height="5.85" fill="#2864ff"/><rect x="487.97" y="253.00" width="2.31" height="5.85" fill="#98fa3e"/><rect x="490.23" y="253.00" width="2.31" height="5.85" fill="#82f5a0"/><rect x="492.49" y="253.00" width="2.31" height="5.85" fill="#98fa3e"/><rect x="537.73" y="253.00" width="2.31" height="5.85" fill="#98fa3e"/><rect x="354.51" y="258.80" width="2.31" height="5.85" fill="#c0ff08"/><rect x="365.82" y="258.80" width="2.31" height="5.85" fill="#c0ff08"/><rect x="413.32" y="258.80" width="2.31" height="5.85" fill="#cdff05"/><rect x="417.85" y="258.80" width="2.31" height="5.85" fill="#ffa000"/><rect x="420.11" y="258.80" width="2.31" height="5.85" fill="#cdff05"/><rect x="426.90" y="258.80" width="2.31" height="5.85" fill="#c0ff08"/><rect x="456.30" y="258.80" width="2.31" height="5.85" fill="#cdff05"/><rect x="458.56" y="258.80" width="2.31" height="5.85" fill="#ffa000"/><rect x="483.44" y="258.80" width="2.31" height="5.85" fill="#cdff05"/><rect x="485.70" y="258.80" width="2.31" height="5.85" fill="#c0ff08"/><rect x="535.47" y="258.80" width="2.31" height="5.85" fill="#c0ff08"/><rect x="542.25" y="258.80" width="2.31" height="5.85" fill="#c0ff08"/><rect x="313.80" y="264.60" width="2.31" height="5.85" fill="#c0ff08"/><rect x="316.06" y="264.60" width="2.31" height="5.85" fill="#c0ff08"/><rect x="322.85" y="264.60" width="2.31" height="5.85" fill="#c0ff08"/><rect x="327.37" y="264.60" width="2.31" height="5.85" fill="#c0ff08"/><rect x="345.47" y="264.60" width="2.31" height="5.85" fill="#c0ff08"/><rect x="381.66" y="264.60" width="2.31" height="5.85" fill="#c0ff08"/><rect x="386.18" y="264.60" width="2.31" height="5.85" fill="#c0ff08"/><rect x="388.44" y="264.60" width="2.31" height="5.85" fill="#c0ff08"/><rect x="402.01" y="264.60" width="2.31" height="5.85" fill="#c0ff08"/><rect x="406.54" y="264.60" width="2.31" height="5.85" fill="#c0ff08"/><rect x="420.11" y="264.60" width="2.31" height="5.85" fill="#c0ff08"/><rect x="426.90" y="264.60" width="2.31" height="5.85" fill="#fa1400"/><rect x="431.42" y="264.60" width="2.31" height="5.85" fill="#cdff05"/><rect x="442.73" y="264.60" width="2.31" height="5.85" fill="#c0ff08"/><rect x="447.25" y="264.60" width="2.31" height="5.85" fill="#cdff05"/><rect x="451.78" y="264.60" width="2.31" height="5.85" fill="#c0ff08"/><rect x="454.04" y="264.60" width="2.31" height="5.85" fill="#cdff05"/><rect x="467.61" y="264.60" width="2.31" height="5.85" fill="#ffa000"/><rect x="472.13" y="264.60" width="2.31" height="5.85" fill="#ffa000"/><rect x="481.18" y="264.60" width="2.31" height="5.85" fill="#cdff05"/><rect x="501.54" y="264.60" width="2.31" height="5.85" fill="#c0ff08"/><rect x="528.68" y="264.60" width="2.31" height="5.85" fill="#c0ff08"/><rect x="537.73" y="264.60" width="2.31" height="5.85" fill="#c0ff08"/><rect x="352.25" y="270.40" width="2.31" height="5.85" fill="#98fa3e"/><rect x="413.32" y="270.40" width="2.31" height="5.85" fill="#82f5a0"/><rect x="417.85" y="270.40" width="2.31" height="5.85" fill="#82f5a0"/><rect x="420.11" y="270.40" width="2.31" height="5.85" fill="#64ebff"/><rect x="422.37" y="270.40" width="2.31" height="5.85" fill="#64ebff"/><rect x="424.63" y="270.40" width="2.31" height="5.85" fill="#82f5a0"/><rect x="426.90" y="270.40" width="2.31" height="5.85" fill="#64ebff"/><rect x="429.16" y="270.40" width="2.31" height="5.85" fill="#64ebff"/><rect x="433.68" y="270.40" width="2.31" height="5.85" fill="#1432ff"/><rect x="435.94" y="270.40" width="2.31" height="5.85" fill="#1432ff"/><rect x="438.20" y="270.40" width="2.31" height="5.85" fill="#82f5a0"/><rect x="440.47" y="270.40" width="2.31" height="5.85" fill="#64ebff"/><rect x="442.73" y="270.40" width="2.31" height="5.85" fill="#1432ff"/><rect x="444.99" y="270.40" width="2.31" height="5.85" fill="#82f5a0"/><rect x="449.51" y="270.40" width="2.31" height="5.85" fill="#82f5a0"/><rect x="451.78" y="270.40" width="2.31" height="5.85" fill="#82f5a0"/><rect x="454.04" y="270.40" width="2.31" height="5.85" fill="#64ebff"/><rect x="456.30" y="270.40" width="2.31" height="5.85" fill="#64ebff"/><rect x="460.82" y="270.40" width="2.31" height="5.85" fill="#2864ff"/><rect x="463.09" y="270.40" width="2.31" height="5.85" fill="#64ebff"/><rect x="465.35" y="270.40" width="2.31" height="5.85" fill="#64ebff"/><rect x="469.87" y="270.40" width="2.31" height="5.85" fill="#82f5a0"/><rect x="472.13" y="270.40" width="2.31" height="5.85" fill="#64ebff"/><rect x="474.40" y="270.40" width="2.31" height="5.85" fill="#64ebff"/><rect x="476.66" y="270.40" width="2.31" height="5.85" fill="#3c96ff"/><rect x="478.92" y="270.40" width="2.31" height="5.85" fill="#98fa3e"/><rect x="481.18" y="270.40" width="2.31" height="5.85" fill="#64ebff"/><rect x="483.44" y="270.40" width="2.31" height="5.85" fill="#64ebff"/><rect x="490.23" y="270.40" width="2.31" height="5.85" fill="#98fa3e"/><rect x="499.28" y="270.40" width="2.31" height="5.85" fill="#98fa3e"/><rect x="539.99" y="270.40" width="2.31" height="5.85" fill="#98fa3e"/><rect x="388.44" y="276.20" width="2.31" height="5.85" fill="#c0ff08"/><rect x="404.28" y="276.20" width="2.31" height="5.85" fill="#c0ff08"/><rect x="408.80" y="276.20" width="2.31" height="5.85" fill="#c0ff08"/><rect x="413.32" y="276.20" width="2.31" height="5.85" fill="#ff5a00"/><rect x="415.59" y="276.20" width="2.31" height="5.85" fill="#fcee00"/><rect x="417.85" y="276.20" width="2.31" height="5.85" fill="#ffa000"/><rect x="420.11" y="276.20" width="2.31" height="5.85" fill="#fcee00"/><rect x="422.37" y="276.20" width="2.31" height="5.85" fill="#fcee00"/><rect x="424.63" y="276.20" width="2.31" height="5.85" fill="#ffa000"/><rect x="426.90" y="276.20" width="2.31" height="5.85" fill="#fcee00"/><rect x="429.16" y="276.20" width="2.31" height="5.85" fill="#cdff05"/><rect x="435.94" y="276.20" width="2.31" height="5.85" fill="#fcee00"/><rect x="438.20" y="276.20" width="2.31" height="5.85" fill="#ffa000"/><rect x="440.47" y="276.20" width="2.31" height="5.85" fill="#cdff05"/><rect x="447.25" y="276.20" width="2.31" height="5.85" fill="#fa1400"/><rect x="451.78" y="276.20" width="2.31" height="5.85" fill="#cdff05"/><rect x="454.04" y="276.20" width="2.31" height="5.85" fill="#ffa000"/><rect x="456.30" y="276.20" width="2.31" height="5.85" fill="#fcee00"/><rect x="458.56" y="276.20" width="2.31" height="5.85" fill="#ffa000"/><rect x="460.82" y="276.20" width="2.31" height="5.85" fill="#cdff05"/><rect x="463.09" y="276.20" width="2.31" height="5.85" fill="#cdff05"/><rect x="469.87" y="276.20" width="2.31" height="5.85" fill="#ffa000"/><rect x="472.13" y="276.20" width="2.31" height="5.85" fill="#cdff05"/><rect x="474.40" y="276.20" width="2.31" height="5.85" fill="#ff5a00"/><rect x="476.66" y="276.20" width="2.31" height="5.85" fill="#ffa000"/><rect x="478.92" y="276.20" width="2.31" height="5.85" fill="#ffa000"/><rect x="481.18" y="276.20" width="2.31" height="5.85" fill="#ffa000"/><rect x="483.44" y="276.20" width="2.31" height="5.85" fill="#ffa000"/><rect x="485.70" y="276.20" width="2.31" height="5.85" fill="#cdff05"/><rect x="490.23" y="276.20" width="2.31" height="5.85" fill="#c0ff08"/><rect x="494.75" y="276.20" width="2.31" height="5.85" fill="#c0ff08"/><rect x="512.85" y="276.20" width="2.31" height="5.85" fill="#c0ff08"/><rect x="327.37" y="282.00" width="2.31" height="5.85" fill="#c0ff08"/><rect x="329.63" y="282.00" width="2.31" height="5.85" fill="#c0ff08"/><rect x="340.94" y="282.00" width="2.31" height="5.85" fill="#c0ff08"/><rect x="343.20" y="282.00" width="2.31" height="5.85" fill="#c0ff08"/><rect x="347.73" y="282.00" width="2.31" height="5.85" fill="#c0ff08"/><rect x="395.23" y="282.00" width="2.31" height="5.85" fill="#c0ff08"/><rect x="399.75" y="282.00" width="2.31" height="5.85" fill="#c0ff08"/><rect x="404.28" y="282.00" width="2.31" height="5.85" fill="#c0ff08"/><rect x="438.20" y="282.00" width="2.31" height="5.85" fill="#c0ff08"/><rect x="492.49" y="282.00" width="2.31" height="5.85" fill="#fcee00"/><rect x="494.75" y="282.00" width="2.31" height="5.85" fill="#c0ff08"/><rect x="499.28" y="282.00" width="2.31" height="5.85" fill="#fa1400"/><rect x="503.80" y="282.00" width="2.31" height="5.85" fill="#c0ff08"/><rect x="515.11" y="282.00" width="2.31" height="5.85" fill="#fa1400"/><rect x="517.37" y="282.00" width="2.31" height="5.85" fill="#c0ff08"/><rect x="526.42" y="282.00" width="2.31" height="5.85" fill="#ff5a00"/><rect x="528.68" y="282.00" width="2.31" height="5.85" fill="#ff5a00"/><rect x="546.78" y="282.00" width="2.31" height="5.85" fill="#ff5a00"/><rect x="549.04" y="282.00" width="2.26" height="5.85" fill="#c0ff08"/><rect x="320.59" y="287.80" width="2.31" height="5.85" fill="#98fa3e"/><rect x="322.85" y="287.80" width="2.31" height="5.85" fill="#98fa3e"/><rect x="336.42" y="287.80" width="2.31" height="5.85" fill="#98fa3e"/><rect x="340.94" y="287.80" width="2.31" height="5.85" fill="#98fa3e"/><rect x="356.78" y="287.80" width="2.31" height="5.85" fill="#98fa3e"/><rect x="365.82" y="287.80" width="2.31" height="5.85" fill="#98fa3e"/><rect x="370.35" y="287.80" width="2.31" height="5.85" fill="#98fa3e"/><rect x="388.44" y="287.80" width="2.31" height="5.85" fill="#98fa3e"/><rect x="399.75" y="287.80" width="2.31" height="5.85" fill="#98fa3e"/><rect x="411.06" y="287.80" width="2.31" height="5.85" fill="#98fa3e"/><rect x="420.11" y="287.80" width="2.31" height="5.85" fill="#98fa3e"/><rect x="451.78" y="287.80" width="2.31" height="5.85" fill="#98fa3e"/><rect x="460.82" y="287.80" width="2.31" height="5.85" fill="#98fa3e"/><rect x="474.40" y="287.80" width="2.31" height="5.85" fill="#98fa3e"/><rect x="476.66" y="287.80" width="2.31" height="5.85" fill="#98fa3e"/><rect x="487.97" y="287.80" width="2.31" height="5.85" fill="#98fa3e"/><rect x="499.28" y="287.80" width="2.31" height="5.85" fill="#82f5a0"/><rect x="501.54" y="287.80" width="2.31" height="5.85" fill="#98fa3e"/><rect x="506.06" y="287.80" width="2.31" height="5.85" fill="#98fa3e"/><rect x="512.85" y="287.80" width="2.31" height="5.85" fill="#82f5a0"/><rect x="521.90" y="287.80" width="2.31" height="5.85" fill="#98fa3e"/><rect x="533.20" y="287.80" width="2.31" height="5.85" fill="#98fa3e"/><rect x="535.47" y="287.80" width="2.31" height="5.85" fill="#98fa3e"/><rect x="537.73" y="287.80" width="2.31" height="5.85" fill="#98fa3e"/><rect x="546.78" y="287.80" width="2.31" height="5.85" fill="#82f5a0"/><rect x="331.90" y="293.60" width="2.31" height="5.85" fill="#98fa3e"/><rect x="347.73" y="293.60" width="2.31" height="5.85" fill="#98fa3e"/><rect x="352.25" y="293.60" width="2.31" height="5.85" fill="#98fa3e"/><rect x="361.30" y="293.60" width="2.31" height="5.85" fill="#98fa3e"/><rect x="390.70" y="293.60" width="2.31" height="5.85" fill="#98fa3e"/><rect x="402.01" y="293.60" width="2.31" height="5.85" fill="#98fa3e"/><rect x="415.59" y="293.60" width="2.31" height="5.85" fill="#98fa3e"/><rect x="420.11" y="293.60" width="2.31" height="5.85" fill="#98fa3e"/><rect x="442.73" y="293.60" width="2.31" height="5.85" fill="#98fa3e"/><rect x="447.25" y="293.60" width="2.31" height="5.85" fill="#98fa3e"/><rect x="456.30" y="293.60" width="2.31" height="5.85" fill="#98fa3e"/><rect x="458.56" y="293.60" width="2.31" height="5.85" fill="#98fa3e"/><rect x="492.49" y="293.60" width="2.31" height="5.85" fill="#82f5a0"/><rect x="494.75" y="293.60" width="2.31" height="5.85" fill="#82f5a0"/><rect x="501.54" y="293.60" width="2.31" height="5.85" fill="#82f5a0"/><rect x="503.80" y="293.60" width="2.31" height="5.85" fill="#82f5a0"/><rect x="506.06" y="293.60" width="2.31" height="5.85" fill="#82f5a0"/><rect x="510.59" y="293.60" width="2.31" height="5.85" fill="#98fa3e"/><rect x="526.42" y="293.60" width="2.31" height="5.85" fill="#98fa3e"/><rect x="530.94" y="293.60" width="2.31" height="5.85" fill="#82f5a0"/><rect x="533.20" y="293.60" width="2.31" height="5.85" fill="#98fa3e"/><rect x="535.47" y="293.60" width="2.31" height="5.85" fill="#64ebff"/><rect x="539.99" y="293.60" width="2.31" height="5.85" fill="#82f5a0"/><rect x="542.25" y="293.60" width="2.31" height="5.85" fill="#64ebff"/><rect x="544.51" y="293.60" width="2.31" height="5.85" fill="#98fa3e"/><rect x="338.68" y="299.40" width="2.31" height="5.85" fill="#98fa3e"/><rect x="356.78" y="299.40" width="2.31" height="5.85" fill="#98fa3e"/><rect x="365.82" y="299.40" width="2.31" height="5.85" fill="#98fa3e"/><rect x="411.06" y="299.40" width="2.31" height="5.85" fill="#98fa3e"/><rect x="413.32" y="299.40" width="2.31" height="5.85" fill="#98fa3e"/><rect x="420.11" y="299.40" width="2.31" height="5.85" fill="#98fa3e"/><rect x="424.63" y="299.40" width="2.31" height="5.85" fill="#98fa3e"/><rect x="431.42" y="299.40" width="2.31" height="5.85" fill="#98fa3e"/><rect x="456.30" y="299.40" width="2.31" height="5.85" fill="#98fa3e"/><rect x="472.13" y="299.40" width="2.31" height="5.85" fill="#98fa3e"/><rect x="476.66" y="299.40" width="2.31" height="5.85" fill="#98fa3e"/><rect x="483.44" y="299.40" width="2.31" height="5.85" fill="#98fa3e"/><rect x="497.01" y="299.40" width="2.31" height="5.85" fill="#98fa3e"/><rect x="499.28" y="299.40" width="2.31" height="5.85" fill="#98fa3e"/><rect x="501.54" y="299.40" width="2.31" height="5.85" fill="#98fa3e"/><rect x="506.06" y="299.40" width="2.31" height="5.85" fill="#98fa3e"/><rect x="521.90" y="299.40" width="2.31" height="5.85" fill="#82f5a0"/><rect x="526.42" y="299.40" width="2.31" height="5.85" fill="#82f5a0"/><rect x="528.68" y="299.40" width="2.31" height="5.85" fill="#98fa3e"/><rect x="533.20" y="299.40" width="2.31" height="5.85" fill="#98fa3e"/><rect x="535.47" y="299.40" width="2.31" height="5.85" fill="#98fa3e"/><rect x="539.99" y="299.40" width="2.31" height="5.85" fill="#82f5a0"/><rect x="546.78" y="299.40" width="2.31" height="5.85" fill="#98fa3e"/><rect x="320.59" y="305.20" width="2.31" height="5.85" fill="#98fa3e"/><rect x="336.42" y="305.20" width="2.31" height="5.85" fill="#98fa3e"/><rect x="352.25" y="305.20" width="2.31" height="5.85" fill="#98fa3e"/><rect x="354.51" y="305.20" width="2.31" height="5.85" fill="#98fa3e"/><rect x="386.18" y="305.20" width="2.31" height="5.85" fill="#98fa3e"/><rect x="408.80" y="305.20" width="2.31" height="5.85" fill="#98fa3e"/><rect x="433.68" y="305.20" width="2.31" height="5.85" fill="#98fa3e"/><rect x="454.04" y="305.20" width="2.31" height="5.85" fill="#98fa3e"/><rect x="456.30" y="305.20" width="2.31" height="5.85" fill="#98fa3e"/><rect x="460.82" y="305.20" width="2.31" height="5.85" fill="#98fa3e"/><rect x="472.13" y="305.20" width="2.31" height="5.85" fill="#98fa3e"/><rect x="481.18" y="305.20" width="2.31" height="5.85" fill="#98fa3e"/><rect x="490.23" y="305.20" width="2.31" height="5.85" fill="#64ebff"/><rect x="492.49" y="305.20" width="2.31" height="5.85" fill="#98fa3e"/><rect x="494.75" y="305.20" width="2.31" height="5.85" fill="#3c96ff"/><rect x="497.01" y="305.20" width="2.31" height="5.85" fill="#64ebff"/><rect x="501.54" y="305.20" width="2.31" height="5.85" fill="#64ebff"/><rect x="503.80" y="305.20" width="2.31" height="5.85" fill="#82f5a0"/><rect x="506.06" y="305.20" width="2.31" height="5.85" fill="#98fa3e"/><rect x="508.32" y="305.20" width="2.31" height="5.85" fill="#64ebff"/><rect x="510.59" y="305.20" width="2.31" height="5.85" fill="#64ebff"/><rect x="512.85" y="305.20" width="2.31" height="5.85" fill="#64ebff"/><rect x="517.37" y="305.20" width="2.31" height="5.85" fill="#3c96ff"/><rect x="519.63" y="305.20" width="2.31" height="5.85" fill="#64ebff"/><rect x="521.90" y="305.20" width="2.31" height="5.85" fill="#82f5a0"/><rect x="524.16" y="305.20" width="2.31" height="5.85" fill="#82f5a0"/><rect x="528.68" y="305.20" width="2.31" height="5.85" fill="#82f5a0"/><rect x="533.20" y="305.20" width="2.31" height="5.85" fill="#1432ff"/><rect x="535.47" y="305.20" width="2.31" height="5.85" fill="#82f5a0"/><rect x="537.73" y="305.20" width="2.31" height="5.85" fill="#82f5a0"/><rect x="546.78" y="305.20" width="2.31" height="5.85" fill="#64ebff"/><rect x="549.04" y="305.20" width="2.26" height="5.85" fill="#98fa3e"/><rect x="343.20" y="311.00" width="2.31" height="5.85" fill="#c0ff08"/><rect x="354.51" y="311.00" width="2.31" height="5.85" fill="#c0ff08"/><rect x="361.30" y="311.00" width="2.31" height="5.85" fill="#c0ff08"/><rect x="365.82" y="311.00" width="2.31" height="5.85" fill="#c0ff08"/><rect x="368.09" y="311.00" width="2.31" height="5.85" fill="#c0ff08"/><rect x="404.28" y="311.00" width="2.31" height="5.85" fill="#c0ff08"/><rect x="415.59" y="311.00" width="2.31" height="5.85" fill="#c0ff08"/><rect x="426.90" y="311.00" width="2.31" height="5.85" fill="#c0ff08"/><rect x="438.20" y="311.00" width="2.31" height="5.85" fill="#c0ff08"/><rect x="451.78" y="311.00" width="2.31" height="5.85" fill="#c0ff08"/><rect x="483.44" y="311.00" width="2.31" height="5.85" fill="#c0ff08"/><rect x="492.49" y="311.00" width="2.31" height="5.85" fill="#cdff05"/><rect x="494.75" y="311.00" width="2.31" height="5.85" fill="#cdff05"/><rect x="506.06" y="311.00" width="2.31" height="5.85" fill="#ffa000"/><rect x="508.32" y="311.00" width="2.31" height="5.85" fill="#ffa000"/><rect x="510.59" y="311.00" width="2.31" height="5.85" fill="#cdff05"/><rect x="517.37" y="311.00" width="2.31" height="5.85" fill="#ffa000"/><rect x="519.63" y="311.00" width="2.31" height="5.85" fill="#ffa000"/><rect x="521.90" y="311.00" width="2.31" height="5.85" fill="#cdff05"/><rect x="526.42" y="311.00" width="2.31" height="5.85" fill="#ffa000"/><rect x="528.68" y="311.00" width="2.31" height="5.85" fill="#ffa000"/><rect x="530.94" y="311.00" width="2.31" height="5.85" fill="#cdff05"/><rect x="537.73" y="311.00" width="2.31" height="5.85" fill="#fa1400"/><rect x="539.99" y="311.00" width="2.31" height="5.85" fill="#cdff05"/><rect x="542.25" y="311.00" width="2.31" height="5.85" fill="#fcee00"/><rect x="322.85" y="316.80" width="2.31" height="5.85" fill="#c0ff08"/><rect x="329.63" y="316.80" width="2.31" height="5.85" fill="#c0ff08"/><rect x="331.90" y="316.80" width="2.31" height="5.85" fill="#c0ff08"/><rect x="379.40" y="316.80" width="2.31" height="5.85" fill="#c0ff08"/><rect x="386.18" y="316.80" width="2.31" height="5.85" fill="#c0ff08"/><rect x="402.01" y="316.80" width="2.31" height="5.85" fill="#c0ff08"/><rect x="413.32" y="316.80" width="2.31" height="5.85" fill="#c0ff08"/><rect x="431.42" y="316.80" width="2.31" height="5.85" fill="#c0ff08"/><rect x="444.99" y="316.80" width="2.31" height="5.85" fill="#c0ff08"/><rect x="463.09" y="316.80" width="2.31" height="5.85" fill="#c0ff08"/><rect x="490.23" y="316.80" width="2.31" height="5.85" fill="#fa1400"/><rect x="492.49" y="316.80" width="2.31" height="5.85" fill="#cdff05"/><rect x="494.75" y="316.80" width="2.31" height="5.85" fill="#ffa000"/><rect x="501.54" y="316.80" width="2.31" height="5.85" fill="#ffa000"/><rect x="503.80" y="316.80" width="2.31" height="5.85" fill="#cdff05"/><rect x="510.59" y="316.80" width="2.31" height="5.85" fill="#ffa000"/><rect x="515.11" y="316.80" width="2.31" height="5.85" fill="#ffa000"/><rect x="517.37" y="316.80" width="2.31" height="5.85" fill="#cdff05"/><rect x="519.63" y="316.80" width="2.31" height="5.85" fill="#cdff05"/><rect x="521.90" y="316.80" width="2.31" height="5.85" fill="#fcee00"/><rect x="526.42" y="316.80" width="2.31" height="5.85" fill="#cdff05"/><rect x="528.68" y="316.80" width="2.31" height="5.85" fill="#c0ff08"/><rect x="530.94" y="316.80" width="2.31" height="5.85" fill="#ffa000"/><rect x="535.47" y="316.80" width="2.31" height="5.85" fill="#ff5a00"/><rect x="539.99" y="316.80" width="2.31" height="5.85" fill="#cdff05"/><rect x="542.25" y="316.80" width="2.31" height="5.85" fill="#cdff05"/><rect x="546.78" y="316.80" width="2.31" height="5.85" fill="#ffa000"/><rect x="313.80" y="322.60" width="2.31" height="5.85" fill="#c0ff08"/><rect x="340.94" y="322.60" width="2.31" height="5.85" fill="#c0ff08"/><rect x="343.20" y="322.60" width="2.31" height="5.85" fill="#c0ff08"/><rect x="345.47" y="322.60" width="2.31" height="5.85" fill="#c0ff08"/><rect x="372.61" y="322.60" width="2.31" height="5.85" fill="#c0ff08"/><rect x="374.87" y="322.60" width="2.31" height="5.85" fill="#c0ff08"/><rect x="417.85" y="322.60" width="2.31" height="5.85" fill="#c0ff08"/><rect x="426.90" y="322.60" width="2.31" height="5.85" fill="#c0ff08"/><rect x="435.94" y="322.60" width="2.31" height="5.85" fill="#c0ff08"/><rect x="440.47" y="322.60" width="2.31" height="5.85" fill="#c0ff08"/><rect x="447.25" y="322.60" width="2.31" height="5.85" fill="#c0ff08"/><rect x="492.49" y="322.60" width="2.31" height="5.85" fill="#ffa000"/><rect x="494.75" y="322.60" width="2.31" height="5.85" fill="#cdff05"/><rect x="503.80" y="322.60" width="2.31" height="5.85" fill="#c0ff08"/><rect x="512.85" y="322.60" width="2.31" height="5.85" fill="#ff5a00"/><rect x="517.37" y="322.60" width="2.31" height="5.85" fill="#c0ff08"/><rect x="526.42" y="322.60" width="2.31" height="5.85" fill="#ff5a00"/><rect x="528.68" y="322.60" width="2.31" height="5.85" fill="#ff5a00"/><rect x="533.20" y="322.60" width="2.31" height="5.85" fill="#c0ff08"/><rect x="539.99" y="322.60" width="2.31" height="5.85" fill="#c0ff08"/><rect x="546.78" y="322.60" width="2.31" height="5.85" fill="#ff5a00"/><rect x="318.32" y="328.40" width="2.31" height="5.85" fill="#98fa3e"/><rect x="322.85" y="328.40" width="2.31" height="5.85" fill="#98fa3e"/><rect x="327.37" y="328.40" width="2.31" height="5.85" fill="#98fa3e"/><rect x="340.94" y="328.40" width="2.31" height="5.85" fill="#98fa3e"/><rect x="349.99" y="328.40" width="2.31" height="5.85" fill="#98fa3e"/><rect x="356.78" y="328.40" width="2.31" height="5.85" fill="#98fa3e"/><rect x="377.13" y="328.40" width="2.31" height="5.85" fill="#98fa3e"/><rect x="402.01" y="328.40" width="2.31" height="5.85" fill="#98fa3e"/><rect x="408.80" y="328.40" width="2.31" height="5.85" fill="#98fa3e"/><rect x="426.90" y="328.40" width="2.31" height="5.85" fill="#98fa3e"/><rect x="429.16" y="328.40" width="2.31" height="5.85" fill="#98fa3e"/><rect x="431.42" y="328.40" width="2.31" height="5.85" fill="#98fa3e"/><rect x="444.99" y="328.40" width="2.31" height="5.85" fill="#98fa3e"/><rect x="458.56" y="328.40" width="2.31" height="5.85" fill="#98fa3e"/><rect x="465.35" y="328.40" width="2.31" height="5.85" fill="#98fa3e"/><rect x="481.18" y="328.40" width="2.31" height="5.85" fill="#98fa3e"/><rect x="490.23" y="328.40" width="2.31" height="5.85" fill="#64ebff"/><rect x="492.49" y="328.40" width="2.31" height="5.85" fill="#98fa3e"/><rect x="494.75" y="328.40" width="2.31" height="5.85" fill="#1432ff"/><rect x="497.01" y="328.40" width="2.31" height="5.85" fill="#1432ff"/><rect x="499.28" y="328.40" width="2.31" height="5.85" fill="#2864ff"/><rect x="501.54" y="328.40" width="2.31" height="5.85" fill="#1432ff"/><rect x="503.80" y="328.40" width="2.31" height="5.85" fill="#1432ff"/><rect x="506.06" y="328.40" width="2.31" height="5.85" fill="#64ebff"/><rect x="508.32" y="328.40" width="2.31" height="5.85" fill="#1432ff"/><rect x="510.59" y="328.40" width="2.31" height="5.85" fill="#1432ff"/><rect x="512.85" y="328.40" width="2.31" height="5.85" fill="#64ebff"/><rect x="515.11" y="328.40" width="2.31" height="5.85" fill="#3c96ff"/><rect x="517.37" y="328.40" width="2.31" height="5.85" fill="#3c96ff"/><rect x="519.63" y="328.40" width="2.31" height="5.85" fill="#64ebff"/><rect x="521.90" y="328.40" width="2.31" height="5.85" fill="#3c96ff"/><rect x="524.16" y="328.40" width="2.31" height="5.85" fill="#64ebff"/><rect x="526.42" y="328.40" width="2.31" height="5.85" fill="#82f5a0"/><rect x="528.68" y="328.40" width="2.31" height="5.85" fill="#82f5a0"/><rect x="530.94" y="328.40" width="2.31" height="5.85" fill="#2864ff"/><rect x="533.20" y="328.40" width="2.31" height="5.85" fill="#64ebff"/><rect x="535.47" y="328.40" width="2.31" height="5.85" fill="#1432ff"/><rect x="537.73" y="328.40" width="2.31" height="5.85" fill="#1432ff"/><rect x="539.99" y="328.40" width="2.31" height="5.85" fill="#1432ff"/><rect x="542.25" y="328.40" width="2.31" height="5.85" fill="#64ebff"/><rect x="544.51" y="328.40" width="2.31" height="5.85" fill="#64ebff"/><rect x="546.78" y="328.40" width="2.31" height="5.85" fill="#1432ff"/><rect x="316.06" y="334.20" width="2.31" height="5.85" fill="#c0ff08"/><rect x="318.32" y="334.20" width="2.31" height="5.85" fill="#c0ff08"/><rect x="336.42" y="334.20" width="2.31" height="5.85" fill="#c0ff08"/><rect x="338.68" y="334.20" width="2.31" height="5.85" fill="#c0ff08"/><rect x="352.25" y="334.20" width="2.31" height="5.85" fill="#c0ff08"/><rect x="356.78" y="334.20" width="2.31" height="5.85" fill="#c0ff08"/><rect x="388.44" y="334.20" width="2.31" height="5.85" fill="#c0ff08"/><rect x="408.80" y="334.20" width="2.31" height="5.85" fill="#c0ff08"/><rect x="411.06" y="334.20" width="2.31" height="5.85" fill="#c0ff08"/><rect x="415.59" y="334.20" width="2.31" height="5.85" fill="#c0ff08"/><rect x="417.85" y="334.20" width="2.31" height="5.85" fill="#c0ff08"/><rect x="422.37" y="334.20" width="2.31" height="5.85" fill="#c0ff08"/><rect x="426.90" y="334.20" width="2.31" height="5.85" fill="#c0ff08"/><rect x="429.16" y="334.20" width="2.31" height="5.85" fill="#c0ff08"/><rect x="440.47" y="334.20" width="2.31" height="5.85" fill="#c0ff08"/><rect x="444.99" y="334.20" width="2.31" height="5.85" fill="#c0ff08"/><rect x="454.04" y="334.20" width="2.31" height="5.85" fill="#c0ff08"/><rect x="467.61" y="334.20" width="2.31" height="5.85" fill="#c0ff08"/><rect x="469.87" y="334.20" width="2.31" height="5.85" fill="#c0ff08"/><rect x="474.40" y="334.20" width="2.31" height="5.85" fill="#c0ff08"/><rect x="485.70" y="334.20" width="2.31" height="5.85" fill="#c0ff08"/><rect x="490.23" y="334.20" width="2.31" height="5.85" fill="#cdff05"/><rect x="492.49" y="334.20" width="2.31" height="5.85" fill="#fcee00"/><rect x="494.75" y="334.20" width="2.31" height="5.85" fill="#ffa000"/><rect x="497.01" y="334.20" width="2.31" height="5.85" fill="#ffa000"/><rect x="499.28" y="334.20" width="2.31" height="5.85" fill="#cdff05"/><rect x="501.54" y="334.20" width="2.31" height="5.85" fill="#ffa000"/><rect x="503.80" y="334.20" width="2.31" height="5.85" fill="#ffa000"/><rect x="506.06" y="334.20" width="2.31" height="5.85" fill="#fcee00"/><rect x="508.32" y="334.20" width="2.31" height="5.85" fill="#fcee00"/><rect x="510.59" y="334.20" width="2.31" height="5.85" fill="#cdff05"/><rect x="512.85" y="334.20" width="2.31" height="5.85" fill="#cdff05"/><rect x="517.37" y="334.20" width="2.31" height="5.85" fill="#cdff05"/><rect x="519.63" y="334.20" width="2.31" height="5.85" fill="#cdff05"/><rect x="521.90" y="334.20" width="2.31" height="5.85" fill="#ffa000"/><rect x="524.16" y="334.20" width="2.31" height="5.85" fill="#cdff05"/><rect x="528.68" y="334.20" width="2.31" height="5.85" fill="#c0ff08"/><rect x="530.94" y="334.20" width="2.31" height="5.85" fill="#ffa000"/><rect x="533.20" y="334.20" width="2.31" height="5.85" fill="#cdff05"/><rect x="535.47" y="334.20" width="2.31" height="5.85" fill="#fcee00"/><rect x="537.73" y="334.20" width="2.31" height="5.85" fill="#cdff05"/><rect x="542.25" y="334.20" width="2.31" height="5.85" fill="#ff5a00"/><rect x="544.51" y="334.20" width="2.31" height="5.85" fill="#cdff05"/><rect x="546.78" y="334.20" width="2.31" height="5.85" fill="#fcee00"/><rect x="313.80" y="119.60" width="237.50" height="220.40" fill="none" stroke="#111" stroke-width="1"/><line x1="357.49" y1="340.00" x2="357.49" y2="337.80" stroke="#111" stroke-width="1"/><line x1="357.49" y1="119.60" x2="357.49" y2="121.80" stroke="#111" stroke-width="1"/><text x="357.49" y="350.70" class="tk" text-anchor="middle">20</text><line x1="402.30" y1="340.00" x2="402.30" y2="337.80" stroke="#111" stroke-width="1"/><line x1="402.30" y1="119.60" x2="402.30" y2="121.80" stroke="#111" stroke-width="1"/><text x="402.30" y="350.70" class="tk" text-anchor="middle">40</text><line x1="447.11" y1="340.00" x2="447.11" y2="337.80" stroke="#111" stroke-width="1"/><line x1="447.11" y1="119.60" x2="447.11" y2="121.80" stroke="#111" stroke-width="1"/><text x="447.11" y="350.70" class="tk" text-anchor="middle">60</text><line x1="491.92" y1="340.00" x2="491.92" y2="337.80" stroke="#111" stroke-width="1"/><line x1="491.92" y1="119.60" x2="491.92" y2="121.80" stroke="#111" stroke-width="1"/><text x="491.92" y="350.70" class="tk" text-anchor="middle">80</text><line x1="536.74" y1="340.00" x2="536.74" y2="337.80" stroke="#111" stroke-width="1"/><line x1="536.74" y1="119.60" x2="536.74" y2="121.80" stroke="#111" stroke-width="1"/><text x="536.74" y="350.70" class="tk" text-anchor="middle">100</text><line x1="313.80" y1="145.70" x2="316.00" y2="145.70" stroke="#111" stroke-width="1"/><line x1="551.30" y1="145.70" x2="549.10" y2="145.70" stroke="#111" stroke-width="1"/><text x="311.20" y="149.00" class="tk" text-anchor="end">5</text><line x1="313.80" y1="174.70" x2="316.00" y2="174.70" stroke="#111" stroke-width="1"/><line x1="551.30" y1="174.70" x2="549.10" y2="174.70" stroke="#111" stroke-width="1"/><text x="311.20" y="178.00" class="tk" text-anchor="end">10</text><line x1="313.80" y1="203.70" x2="316.00" y2="203.70" stroke="#111" stroke-width="1"/><line x1="551.30" y1="203.70" x2="549.10" y2="203.70" stroke="#111" stroke-width="1"/><text x="311.20" y="207.00" class="tk" text-anchor="end">15</text><line x1="313.80" y1="232.70" x2="316.00" y2="232.70" stroke="#111" stroke-width="1"/><line x1="551.30" y1="232.70" x2="549.10" y2="232.70" stroke="#111" stroke-width="1"/><text x="311.20" y="236.00" class="tk" text-anchor="end">20</text><line x1="313.80" y1="261.70" x2="316.00" y2="261.70" stroke="#111" stroke-width="1"/><line x1="551.30" y1="261.70" x2="549.10" y2="261.70" stroke="#111" stroke-width="1"/><text x="311.20" y="265.00" class="tk" text-anchor="end">25</text><line x1="313.80" y1="290.70" x2="316.00" y2="290.70" stroke="#111" stroke-width="1"/><line x1="551.30" y1="290.70" x2="549.10" y2="290.70" stroke="#111" stroke-width="1"/><text x="311.20" y="294.00" class="tk" text-anchor="end">30</text><line x1="313.80" y1="319.70" x2="316.00" y2="319.70" stroke="#111" stroke-width="1"/><line x1="551.30" y1="319.70" x2="549.10" y2="319.70" stroke="#111" stroke-width="1"/><text x="311.20" y="323.00" class="tk" text-anchor="end">35</text><rect x="14.50" y="408.60" width="237.10" height="223.80" fill="#203cff"/><rect x="19.26" y="408.60" width="6.00" height="5.64" fill="#64e6ff"/><rect x="49.03" y="408.60" width="6.00" height="5.64" fill="#fa1400"/><rect x="54.98" y="408.60" width="6.00" height="5.64" fill="#50a5ff"/><rect x="72.85" y="408.60" width="6.00" height="5.64" fill="#2e5aff"/><rect x="78.80" y="408.60" width="6.00" height="5.64" fill="#2e5aff"/><rect x="191.95" y="408.60" width="6.01" height="5.64" fill="#0a14d2"/><rect x="239.59" y="408.60" width="6.01" height="5.64" fill="#2e5aff"/><rect x="14.50" y="414.20" width="4.81" height="5.64" fill="#50a5ff"/><rect x="31.17" y="414.20" width="6.00" height="5.64" fill="#82f096"/><rect x="37.12" y="414.20" width="6.00" height="5.64" fill="#50a5ff"/><rect x="54.98" y="414.20" width="6.00" height="5.64" fill="#bcfc23"/><rect x="120.49" y="414.20" width="6.00" height="5.64" fill="#2e5aff"/><rect x="233.64" y="414.20" width="6.01" height="5.64" fill="#162aee"/><rect x="43.08" y="419.79" width="6.00" height="5.64" fill="#50a5ff"/><rect x="126.44" y="419.79" width="6.01" height="5.64" fill="#bcfc23"/><rect x="221.73" y="419.79" width="6.01" height="5.64" fill="#bcfc23"/><rect x="233.64" y="419.79" width="6.01" height="5.64" fill="#0a14d2"/><rect x="19.26" y="425.38" width="6.00" height="5.64" fill="#64e6ff"/><rect x="37.12" y="425.38" width="6.00" height="5.64" fill="#50a5ff"/><rect x="43.08" y="425.38" width="6.00" height="5.64" fill="#64e6ff"/><rect x="49.03" y="425.38" width="6.00" height="5.64" fill="#50a5ff"/><rect x="60.94" y="425.38" width="6.00" height="5.64" fill="#2e5aff"/><rect x="90.72" y="425.38" width="6.00" height="5.64" fill="#2e5aff"/><rect x="215.77" y="425.38" width="6.01" height="5.64" fill="#64e6ff"/><rect x="19.26" y="430.98" width="6.00" height="5.64" fill="#2e5aff"/><rect x="31.17" y="430.98" width="6.00" height="5.64" fill="#82f096"/><rect x="60.94" y="430.98" width="6.00" height="5.64" fill="#ff5a00"/><rect x="25.21" y="436.58" width="6.00" height="5.64" fill="#50a5ff"/><rect x="209.82" y="436.58" width="6.01" height="5.64" fill="#50a5ff"/><rect x="14.50" y="442.17" width="4.81" height="5.64" fill="#fcee00"/><rect x="19.26" y="442.17" width="6.00" height="5.64" fill="#2e5aff"/><rect x="31.17" y="442.17" width="6.00" height="5.64" fill="#3c82ff"/><rect x="54.98" y="442.17" width="6.00" height="5.64" fill="#2e5aff"/><rect x="72.85" y="442.17" width="6.00" height="5.64" fill="#2e5aff"/><rect x="144.31" y="442.17" width="6.01" height="5.64" fill="#2e5aff"/><rect x="168.13" y="442.17" width="6.01" height="5.64" fill="#2e5aff"/><rect x="215.77" y="442.17" width="6.01" height="5.64" fill="#2e5aff"/><rect x="14.50" y="447.76" width="4.81" height="5.64" fill="#50a5ff"/><rect x="19.26" y="447.76" width="6.00" height="5.64" fill="#bcfc23"/><rect x="49.03" y="447.76" width="6.00" height="5.64" fill="#2e5aff"/><rect x="60.94" y="447.76" width="6.00" height="5.64" fill="#64e6ff"/><rect x="108.58" y="447.76" width="6.00" height="5.64" fill="#2e5aff"/><rect x="31.17" y="453.36" width="6.00" height="5.64" fill="#82f096"/><rect x="37.12" y="453.36" width="6.00" height="5.64" fill="#ffa000"/><rect x="43.08" y="453.36" width="6.00" height="5.64" fill="#82f096"/><rect x="54.98" y="453.36" width="6.00" height="5.64" fill="#82f096"/><rect x="90.72" y="453.36" width="6.00" height="5.64" fill="#3c82ff"/><rect x="162.18" y="453.36" width="6.01" height="5.64" fill="#2e5aff"/><rect x="191.95" y="453.36" width="6.01" height="5.64" fill="#162aee"/><rect x="25.21" y="458.96" width="6.00" height="5.64" fill="#2e5aff"/><rect x="102.62" y="458.96" width="6.00" height="5.64" fill="#fcee00"/><rect x="144.31" y="458.96" width="6.01" height="5.64" fill="#50a5ff"/><rect x="191.95" y="458.96" width="6.01" height="5.64" fill="#82f096"/><rect x="215.77" y="458.96" width="6.01" height="5.64" fill="#2e5aff"/><rect x="233.64" y="458.96" width="6.01" height="5.64" fill="#2e5aff"/><rect x="14.50" y="464.55" width="4.81" height="5.64" fill="#2e5aff"/><rect x="90.72" y="464.55" width="6.00" height="5.64" fill="#2e5aff"/><rect x="96.67" y="464.55" width="6.00" height="5.64" fill="#2e5aff"/><rect x="120.49" y="464.55" width="6.00" height="5.64" fill="#2e5aff"/><rect x="245.55" y="464.55" width="6.01" height="5.64" fill="#2e5aff"/><rect x="14.50" y="470.14" width="4.81" height="5.64" fill="#2e5aff"/><rect x="90.72" y="470.14" width="6.00" height="5.64" fill="#bcfc23"/><rect x="96.67" y="470.14" width="6.00" height="5.64" fill="#bcfc23"/><rect x="162.18" y="470.14" width="6.01" height="5.64" fill="#2e5aff"/><rect x="78.80" y="475.74" width="6.00" height="5.64" fill="#64e6ff"/><rect x="108.58" y="475.74" width="6.00" height="5.64" fill="#64e6ff"/><rect x="120.49" y="475.74" width="6.00" height="5.64" fill="#bcfc23"/><rect x="239.59" y="475.74" width="6.01" height="5.64" fill="#2e5aff"/><rect x="72.85" y="481.34" width="6.00" height="5.64" fill="#50a5ff"/><rect x="78.80" y="481.34" width="6.00" height="5.64" fill="#82f096"/><rect x="114.53" y="481.34" width="6.00" height="5.64" fill="#2e5aff"/><rect x="120.49" y="481.34" width="6.00" height="5.64" fill="#3c82ff"/><rect x="168.13" y="481.34" width="6.01" height="5.64" fill="#2e5aff"/><rect x="72.85" y="486.93" width="6.00" height="5.64" fill="#bcfc23"/><rect x="78.80" y="486.93" width="6.00" height="5.64" fill="#bcfc23"/><rect x="102.62" y="486.93" width="6.00" height="5.64" fill="#2e5aff"/><rect x="108.58" y="486.93" width="6.00" height="5.64" fill="#2e5aff"/><rect x="114.53" y="486.93" width="6.00" height="5.64" fill="#50a5ff"/><rect x="126.44" y="486.93" width="6.01" height="5.64" fill="#2e5aff"/><rect x="156.22" y="486.93" width="6.01" height="5.64" fill="#2e5aff"/><rect x="227.68" y="486.93" width="6.01" height="5.64" fill="#2e5aff"/><rect x="233.64" y="486.93" width="6.01" height="5.64" fill="#50a5ff"/><rect x="66.89" y="492.52" width="6.00" height="5.64" fill="#820000"/><rect x="120.49" y="492.52" width="6.00" height="5.64" fill="#2e5aff"/><rect x="126.44" y="492.52" width="6.01" height="5.64" fill="#50a5ff"/><rect x="191.95" y="492.52" width="6.01" height="5.64" fill="#50a5ff"/><rect x="37.12" y="498.12" width="6.00" height="5.64" fill="#2e5aff"/><rect x="54.98" y="498.12" width="6.00" height="5.64" fill="#2e5aff"/><rect x="84.76" y="498.12" width="6.00" height="5.64" fill="#bcfc23"/><rect x="90.72" y="498.12" width="6.00" height="5.64" fill="#2e5aff"/><rect x="96.67" y="498.12" width="6.00" height="5.64" fill="#2e5aff"/><rect x="114.53" y="498.12" width="6.00" height="5.64" fill="#fcee00"/><rect x="90.72" y="503.72" width="6.00" height="5.64" fill="#50a5ff"/><rect x="96.67" y="503.72" width="6.00" height="5.64" fill="#50a5ff"/><rect x="108.58" y="503.72" width="6.00" height="5.64" fill="#ffa000"/><rect x="120.49" y="503.72" width="6.00" height="5.64" fill="#64e6ff"/><rect x="203.86" y="503.72" width="6.01" height="5.64" fill="#50a5ff"/><rect x="19.26" y="509.31" width="6.00" height="5.64" fill="#2e5aff"/><rect x="84.76" y="509.31" width="6.00" height="5.64" fill="#fcee00"/><rect x="90.72" y="509.31" width="6.00" height="5.64" fill="#3c82ff"/><rect x="114.53" y="509.31" width="6.00" height="5.64" fill="#64e6ff"/><rect x="25.21" y="514.90" width="6.00" height="5.64" fill="#fcee00"/><rect x="43.08" y="514.90" width="6.00" height="5.64" fill="#50a5ff"/><rect x="49.03" y="514.90" width="6.00" height="5.64" fill="#2e5aff"/><rect x="96.67" y="514.90" width="6.00" height="5.64" fill="#3c82ff"/><rect x="102.62" y="514.90" width="6.00" height="5.64" fill="#64e6ff"/><rect x="191.95" y="514.90" width="6.01" height="5.64" fill="#82f096"/><rect x="209.82" y="514.90" width="6.01" height="5.64" fill="#2e5aff"/><rect x="156.22" y="520.50" width="6.01" height="5.64" fill="#50a5ff"/><rect x="162.18" y="520.50" width="6.01" height="5.64" fill="#bcfc23"/><rect x="168.13" y="520.50" width="6.01" height="5.64" fill="#bcfc23"/><rect x="174.09" y="520.50" width="6.01" height="5.64" fill="#3c82ff"/><rect x="180.04" y="520.50" width="6.01" height="5.64" fill="#64e6ff"/><rect x="245.55" y="520.50" width="6.01" height="5.64" fill="#2e5aff"/><rect x="43.08" y="526.10" width="6.00" height="5.64" fill="#2e5aff"/><rect x="150.27" y="526.10" width="6.01" height="5.64" fill="#82f096"/><rect x="168.13" y="526.10" width="6.01" height="5.64" fill="#2e5aff"/><rect x="174.09" y="526.10" width="6.01" height="5.64" fill="#3c82ff"/><rect x="186.00" y="526.10" width="6.01" height="5.64" fill="#2e5aff"/><rect x="209.82" y="526.10" width="6.01" height="5.64" fill="#50a5ff"/><rect x="72.85" y="531.69" width="6.00" height="5.64" fill="#50a5ff"/><rect x="150.27" y="531.69" width="6.01" height="5.64" fill="#2e5aff"/><rect x="180.04" y="531.69" width="6.01" height="5.64" fill="#82f096"/><rect x="215.77" y="531.69" width="6.01" height="5.64" fill="#2e5aff"/><rect x="37.12" y="537.28" width="6.00" height="5.64" fill="#2e5aff"/><rect x="138.36" y="537.28" width="6.01" height="5.64" fill="#82f096"/><rect x="144.31" y="537.28" width="6.01" height="5.64" fill="#2e5aff"/><rect x="162.18" y="537.28" width="6.01" height="5.64" fill="#64e6ff"/><rect x="180.04" y="537.28" width="6.01" height="5.64" fill="#2e5aff"/><rect x="191.95" y="537.28" width="6.01" height="5.64" fill="#0a14d2"/><rect x="203.86" y="537.28" width="6.01" height="5.64" fill="#50a5ff"/><rect x="132.40" y="542.88" width="6.01" height="5.64" fill="#2e5aff"/><rect x="150.27" y="542.88" width="6.01" height="5.64" fill="#2e5aff"/><rect x="180.04" y="542.88" width="6.01" height="5.64" fill="#82f096"/><rect x="233.64" y="542.88" width="6.01" height="5.64" fill="#2e5aff"/><rect x="132.40" y="548.48" width="6.01" height="5.64" fill="#64e6ff"/><rect x="150.27" y="548.48" width="6.01" height="5.64" fill="#64e6ff"/><rect x="156.22" y="548.48" width="6.01" height="5.64" fill="#2e5aff"/><rect x="168.13" y="548.48" width="6.01" height="5.64" fill="#82f096"/><rect x="132.40" y="554.07" width="6.01" height="5.64" fill="#82f096"/><rect x="162.18" y="554.07" width="6.01" height="5.64" fill="#82f096"/><rect x="239.59" y="554.07" width="6.01" height="5.64" fill="#2e5aff"/><rect x="25.21" y="559.66" width="6.00" height="5.64" fill="#2e5aff"/><rect x="49.03" y="559.66" width="6.00" height="5.64" fill="#162aee"/><rect x="102.62" y="559.66" width="6.00" height="5.64" fill="#2e5aff"/><rect x="132.40" y="559.66" width="6.01" height="5.64" fill="#2e5aff"/><rect x="138.36" y="559.66" width="6.01" height="5.64" fill="#64e6ff"/><rect x="186.00" y="559.66" width="6.01" height="5.64" fill="#fa1400"/><rect x="221.73" y="559.66" width="6.01" height="5.64" fill="#64e6ff"/><rect x="132.40" y="565.26" width="6.01" height="5.64" fill="#bcfc23"/><rect x="144.31" y="565.26" width="6.01" height="5.64" fill="#fa1400"/><rect x="150.27" y="565.26" width="6.01" height="5.64" fill="#bcfc23"/><rect x="156.22" y="565.26" width="6.01" height="5.64" fill="#fcee00"/><rect x="138.36" y="570.86" width="6.01" height="5.64" fill="#82f096"/><rect x="156.22" y="570.86" width="6.01" height="5.64" fill="#3c82ff"/><rect x="174.09" y="570.86" width="6.01" height="5.64" fill="#ffa000"/><rect x="191.95" y="570.86" width="6.01" height="5.64" fill="#bcfc23"/><rect x="102.62" y="576.45" width="6.00" height="5.64" fill="#3c82ff"/><rect x="114.53" y="576.45" width="6.00" height="5.64" fill="#2e5aff"/><rect x="126.44" y="576.45" width="6.01" height="5.64" fill="#82f096"/><rect x="138.36" y="576.45" width="6.01" height="5.64" fill="#2e5aff"/><rect x="150.27" y="576.45" width="6.01" height="5.64" fill="#0a14d2"/><rect x="186.00" y="576.45" width="6.01" height="5.64" fill="#64e6ff"/><rect x="209.82" y="576.45" width="6.01" height="5.64" fill="#3c82ff"/><rect x="221.73" y="576.45" width="6.01" height="5.64" fill="#3c82ff"/><rect x="203.86" y="582.04" width="6.01" height="5.64" fill="#64e6ff"/><rect x="215.77" y="582.04" width="6.01" height="5.64" fill="#82f096"/><rect x="227.68" y="582.04" width="6.01" height="5.64" fill="#82f096"/><rect x="233.64" y="582.04" width="6.01" height="5.64" fill="#82f096"/><rect x="239.59" y="582.04" width="6.01" height="5.64" fill="#3c82ff"/><rect x="245.55" y="582.04" width="6.01" height="5.64" fill="#82f096"/><rect x="114.53" y="587.64" width="6.00" height="5.64" fill="#2e5aff"/><rect x="150.27" y="587.64" width="6.01" height="5.64" fill="#64e6ff"/><rect x="197.91" y="587.64" width="6.01" height="5.64" fill="#2e5aff"/><rect x="215.77" y="587.64" width="6.01" height="5.64" fill="#64e6ff"/><rect x="233.64" y="587.64" width="6.01" height="5.64" fill="#3c82ff"/><rect x="239.59" y="587.64" width="6.01" height="5.64" fill="#50a5ff"/><rect x="245.55" y="587.64" width="6.01" height="5.64" fill="#3c82ff"/><rect x="43.08" y="593.24" width="6.00" height="5.64" fill="#82f096"/><rect x="126.44" y="593.24" width="6.01" height="5.64" fill="#3c82ff"/><rect x="138.36" y="593.24" width="6.01" height="5.64" fill="#3c82ff"/><rect x="168.13" y="593.24" width="6.01" height="5.64" fill="#2e5aff"/><rect x="221.73" y="593.24" width="6.01" height="5.64" fill="#82f096"/><rect x="31.17" y="598.83" width="6.00" height="5.64" fill="#2e5aff"/><rect x="49.03" y="598.83" width="6.00" height="5.64" fill="#50a5ff"/><rect x="66.89" y="598.83" width="6.00" height="5.64" fill="#2e5aff"/><rect x="72.85" y="598.83" width="6.00" height="5.64" fill="#2e5aff"/><rect x="126.44" y="598.83" width="6.01" height="5.64" fill="#162aee"/><rect x="197.91" y="598.83" width="6.01" height="5.64" fill="#50a5ff"/><rect x="203.86" y="598.83" width="6.01" height="5.64" fill="#50a5ff"/><rect x="209.82" y="598.83" width="6.01" height="5.64" fill="#50a5ff"/><rect x="245.55" y="598.83" width="6.01" height="5.64" fill="#64e6ff"/><rect x="25.21" y="604.42" width="6.00" height="5.64" fill="#bcfc23"/><rect x="174.09" y="604.42" width="6.01" height="5.64" fill="#64e6ff"/><rect x="191.95" y="604.42" width="6.01" height="5.64" fill="#64e6ff"/><rect x="209.82" y="604.42" width="6.01" height="5.64" fill="#82f096"/><rect x="245.55" y="604.42" width="6.01" height="5.64" fill="#64e6ff"/><rect x="197.91" y="610.02" width="6.01" height="5.64" fill="#82f096"/><rect x="233.64" y="610.02" width="6.01" height="5.64" fill="#fcee00"/><rect x="239.59" y="610.02" width="6.01" height="5.64" fill="#ff5a00"/><rect x="25.21" y="615.62" width="6.00" height="5.64" fill="#0a14d2"/><rect x="96.67" y="615.62" width="6.00" height="5.64" fill="#64e6ff"/><rect x="102.62" y="615.62" width="6.00" height="5.64" fill="#2e5aff"/><rect x="156.22" y="615.62" width="6.01" height="5.64" fill="#2e5aff"/><rect x="197.91" y="615.62" width="6.01" height="5.64" fill="#64e6ff"/><rect x="203.86" y="615.62" width="6.01" height="5.64" fill="#3c82ff"/><rect x="227.68" y="615.62" width="6.01" height="5.64" fill="#64e6ff"/><rect x="14.50" y="621.21" width="4.81" height="5.64" fill="#2e5aff"/><rect x="43.08" y="621.21" width="6.00" height="5.64" fill="#162aee"/><rect x="197.91" y="621.21" width="6.01" height="5.64" fill="#3c82ff"/><rect x="203.86" y="621.21" width="6.01" height="5.64" fill="#64e6ff"/><rect x="227.68" y="621.21" width="6.01" height="5.64" fill="#bcfc23"/><rect x="72.85" y="626.80" width="6.00" height="5.64" fill="#2e5aff"/><rect x="120.49" y="626.80" width="6.00" height="5.64" fill="#2e5aff"/><rect x="168.13" y="626.80" width="6.01" height="5.64" fill="#2e5aff"/><rect x="197.91" y="626.80" width="6.01" height="5.64" fill="#64e6ff"/><rect x="215.77" y="626.80" width="6.01" height="5.64" fill="#2e5aff"/><rect x="221.73" y="626.80" width="6.01" height="5.64" fill="#2e5aff"/><rect x="14.50" y="408.60" width="237.10" height="223.80" fill="none" stroke="#111" stroke-width="1"/><line x1="41.17" y1="632.40" x2="41.17" y2="630.20" stroke="#111" stroke-width="1"/><line x1="41.17" y1="408.60" x2="41.17" y2="410.80" stroke="#111" stroke-width="1"/><text x="41.17" y="643.10" class="tk" text-anchor="middle">5</text><line x1="70.81" y1="632.40" x2="70.81" y2="630.20" stroke="#111" stroke-width="1"/><line x1="70.81" y1="408.60" x2="70.81" y2="410.80" stroke="#111" stroke-width="1"/><text x="70.81" y="643.10" class="tk" text-anchor="middle">10</text><line x1="100.45" y1="632.40" x2="100.45" y2="630.20" stroke="#111" stroke-width="1"/><line x1="100.45" y1="408.60" x2="100.45" y2="410.80" stroke="#111" stroke-width="1"/><text x="100.45" y="643.10" class="tk" text-anchor="middle">15</text><line x1="130.09" y1="632.40" x2="130.09" y2="630.20" stroke="#111" stroke-width="1"/><line x1="130.09" y1="408.60" x2="130.09" y2="410.80" stroke="#111" stroke-width="1"/><text x="130.09" y="643.10" class="tk" text-anchor="middle">20</text><line x1="159.72" y1="632.40" x2="159.72" y2="630.20" stroke="#111" stroke-width="1"/><line x1="159.72" y1="408.60" x2="159.72" y2="410.80" stroke="#111" stroke-width="1"/><text x="159.72" y="643.10" class="tk" text-anchor="middle">25</text><line x1="189.36" y1="632.40" x2="189.36" y2="630.20" stroke="#111" stroke-width="1"/><line x1="189.36" y1="408.60" x2="189.36" y2="410.80" stroke="#111" stroke-width="1"/><text x="189.36" y="643.10" class="tk" text-anchor="middle">30</text><line x1="219.00" y1="632.40" x2="219.00" y2="630.20" stroke="#111" stroke-width="1"/><line x1="219.00" y1="408.60" x2="219.00" y2="410.80" stroke="#111" stroke-width="1"/><text x="219.00" y="643.10" class="tk" text-anchor="middle">35</text><line x1="248.64" y1="632.40" x2="248.64" y2="630.20" stroke="#111" stroke-width="1"/><line x1="248.64" y1="408.60" x2="248.64" y2="410.80" stroke="#111" stroke-width="1"/><text x="248.64" y="643.10" class="tk" text-anchor="middle">40</text><line x1="14.50" y1="433.78" x2="16.70" y2="433.78" stroke="#111" stroke-width="1"/><line x1="251.60" y1="433.78" x2="249.40" y2="433.78" stroke="#111" stroke-width="1"/><text x="11.90" y="437.08" class="tk" text-anchor="end">5</text><line x1="14.50" y1="461.75" x2="16.70" y2="461.75" stroke="#111" stroke-width="1"/><line x1="251.60" y1="461.75" x2="249.40" y2="461.75" stroke="#111" stroke-width="1"/><text x="11.90" y="465.05" class="tk" text-anchor="end">10</text><line x1="14.50" y1="489.73" x2="16.70" y2="489.73" stroke="#111" stroke-width="1"/><line x1="251.60" y1="489.73" x2="249.40" y2="489.73" stroke="#111" stroke-width="1"/><text x="11.90" y="493.03" class="tk" text-anchor="end">15</text><line x1="14.50" y1="517.70" x2="16.70" y2="517.70" stroke="#111" stroke-width="1"/><line x1="251.60" y1="517.70" x2="249.40" y2="517.70" stroke="#111" stroke-width="1"/><text x="11.90" y="521.00" class="tk" text-anchor="end">20</text><line x1="14.50" y1="545.68" x2="16.70" y2="545.68" stroke="#111" stroke-width="1"/><line x1="251.60" y1="545.68" x2="249.40" y2="545.68" stroke="#111" stroke-width="1"/><text x="11.90" y="548.98" class="tk" text-anchor="end">25</text><line x1="14.50" y1="573.65" x2="16.70" y2="573.65" stroke="#111" stroke-width="1"/><line x1="251.60" y1="573.65" x2="249.40" y2="573.65" stroke="#111" stroke-width="1"/><text x="11.90" y="576.95" class="tk" text-anchor="end">30</text><line x1="14.50" y1="601.63" x2="16.70" y2="601.63" stroke="#111" stroke-width="1"/><line x1="251.60" y1="601.63" x2="249.40" y2="601.63" stroke="#111" stroke-width="1"/><text x="11.90" y="604.93" class="tk" text-anchor="end">35</text><line x1="14.50" y1="629.60" x2="16.70" y2="629.60" stroke="#111" stroke-width="1"/><line x1="251.60" y1="629.60" x2="249.40" y2="629.60" stroke="#111" stroke-width="1"/><text x="11.90" y="632.90" class="tk" text-anchor="end">40</text><rect x="314.70" y="412.20" width="238.00" height="220.00" fill="#1c32fc"/><rect x="314.70" y="412.20" width="2.32" height="5.55" fill="#bcfc23"/><rect x="326.03" y="412.20" width="2.32" height="5.55" fill="#ff5a00"/><rect x="332.83" y="412.20" width="2.32" height="5.55" fill="#2e5aff"/><rect x="339.63" y="412.20" width="2.32" height="5.55" fill="#fcee00"/><rect x="344.17" y="412.20" width="2.32" height="5.55" fill="#82f096"/><rect x="346.43" y="412.20" width="2.32" height="5.55" fill="#bcfc23"/><rect x="355.50" y="412.20" width="2.32" height="5.55" fill="#0a14d2"/><rect x="362.30" y="412.20" width="2.32" height="5.55" fill="#82f096"/><rect x="369.10" y="412.20" width="2.32" height="5.55" fill="#2e5aff"/><rect x="375.90" y="412.20" width="2.32" height="5.55" fill="#bcfc23"/><rect x="380.43" y="412.20" width="2.32" height="5.55" fill="#64e6ff"/><rect x="384.97" y="412.20" width="2.32" height="5.55" fill="#64e6ff"/><rect x="394.03" y="412.20" width="2.32" height="5.55" fill="#50a5ff"/><rect x="409.90" y="412.20" width="2.32" height="5.55" fill="#2e5aff"/><rect x="316.97" y="417.70" width="2.32" height="5.55" fill="#2e5aff"/><rect x="326.03" y="417.70" width="2.32" height="5.55" fill="#2e5aff"/><rect x="332.83" y="417.70" width="2.32" height="5.55" fill="#2e5aff"/><rect x="339.63" y="417.70" width="2.32" height="5.55" fill="#2e5aff"/><rect x="344.17" y="417.70" width="2.32" height="5.55" fill="#82f096"/><rect x="346.43" y="417.70" width="2.32" height="5.55" fill="#82f096"/><rect x="362.30" y="417.70" width="2.32" height="5.55" fill="#64e6ff"/><rect x="364.57" y="417.70" width="2.32" height="5.55" fill="#64e6ff"/><rect x="369.10" y="417.70" width="2.32" height="5.55" fill="#64e6ff"/><rect x="371.37" y="417.70" width="2.32" height="5.55" fill="#64e6ff"/><rect x="373.63" y="417.70" width="2.32" height="5.55" fill="#50a5ff"/><rect x="375.90" y="417.70" width="2.32" height="5.55" fill="#64e6ff"/><rect x="380.43" y="417.70" width="2.32" height="5.55" fill="#64e6ff"/><rect x="384.97" y="417.70" width="2.32" height="5.55" fill="#64e6ff"/><rect x="391.77" y="417.70" width="2.32" height="5.55" fill="#2e5aff"/><rect x="425.77" y="417.70" width="2.32" height="5.55" fill="#2e5aff"/><rect x="452.97" y="417.70" width="2.32" height="5.55" fill="#2e5aff"/><rect x="545.90" y="417.70" width="2.32" height="5.55" fill="#2e5aff"/><rect x="323.77" y="423.20" width="2.32" height="5.55" fill="#fcee00"/><rect x="328.30" y="423.20" width="2.32" height="5.55" fill="#82f096"/><rect x="350.97" y="423.20" width="2.32" height="5.55" fill="#64e6ff"/><rect x="353.23" y="423.20" width="2.32" height="5.55" fill="#fa1400"/><rect x="355.50" y="423.20" width="2.32" height="5.55" fill="#bcfc23"/><rect x="366.83" y="423.20" width="2.32" height="5.55" fill="#fa1400"/><rect x="378.17" y="423.20" width="2.32" height="5.55" fill="#bcfc23"/><rect x="382.70" y="423.20" width="2.32" height="5.55" fill="#fa1400"/><rect x="387.23" y="423.20" width="2.32" height="5.55" fill="#2e5aff"/><rect x="412.17" y="423.20" width="2.32" height="5.55" fill="#2e5aff"/><rect x="466.57" y="423.20" width="2.32" height="5.55" fill="#0a14d2"/><rect x="496.03" y="423.20" width="2.32" height="5.55" fill="#2e5aff"/><rect x="502.83" y="423.20" width="2.32" height="5.55" fill="#0a14d2"/><rect x="516.43" y="423.20" width="2.32" height="5.55" fill="#50a5ff"/><rect x="527.77" y="423.20" width="2.32" height="5.55" fill="#64e6ff"/><rect x="539.10" y="423.20" width="2.32" height="5.55" fill="#2e5aff"/><rect x="319.23" y="428.70" width="2.32" height="5.55" fill="#64e6ff"/><rect x="321.50" y="428.70" width="2.32" height="5.55" fill="#64e6ff"/><rect x="335.10" y="428.70" width="2.32" height="5.55" fill="#bcfc23"/><rect x="348.70" y="428.70" width="2.32" height="5.55" fill="#50a5ff"/><rect x="360.03" y="428.70" width="2.32" height="5.55" fill="#bcfc23"/><rect x="364.57" y="428.70" width="2.32" height="5.55" fill="#82f096"/><rect x="366.83" y="428.70" width="2.32" height="5.55" fill="#2e5aff"/><rect x="371.37" y="428.70" width="2.32" height="5.55" fill="#64e6ff"/><rect x="391.77" y="428.70" width="2.32" height="5.55" fill="#2e5aff"/><rect x="437.10" y="428.70" width="2.32" height="5.55" fill="#2e5aff"/><rect x="446.17" y="428.70" width="2.32" height="5.55" fill="#2e5aff"/><rect x="520.97" y="428.70" width="2.32" height="5.55" fill="#50a5ff"/><rect x="539.10" y="428.70" width="2.32" height="5.55" fill="#2e5aff"/><rect x="314.70" y="434.20" width="2.32" height="5.55" fill="#ff5a00"/><rect x="319.23" y="434.20" width="2.32" height="5.55" fill="#64e6ff"/><rect x="321.50" y="434.20" width="2.32" height="5.55" fill="#64e6ff"/><rect x="335.10" y="434.20" width="2.32" height="5.55" fill="#64e6ff"/><rect x="341.90" y="434.20" width="2.32" height="5.55" fill="#64e6ff"/><rect x="344.17" y="434.20" width="2.32" height="5.55" fill="#2e5aff"/><rect x="350.97" y="434.20" width="2.32" height="5.55" fill="#ffa000"/><rect x="364.57" y="434.20" width="2.32" height="5.55" fill="#50a5ff"/><rect x="418.97" y="434.20" width="2.32" height="5.55" fill="#2e5aff"/><rect x="471.10" y="434.20" width="2.32" height="5.55" fill="#2e5aff"/><rect x="491.50" y="434.20" width="2.32" height="5.55" fill="#2e5aff"/><rect x="514.17" y="434.20" width="2.32" height="5.55" fill="#2e5aff"/><rect x="525.50" y="434.20" width="2.32" height="5.55" fill="#2e5aff"/><rect x="321.50" y="439.70" width="2.32" height="5.55" fill="#2e5aff"/><rect x="332.83" y="439.70" width="2.32" height="5.55" fill="#82f096"/><rect x="341.90" y="439.70" width="2.32" height="5.55" fill="#2e5aff"/><rect x="348.70" y="439.70" width="2.32" height="5.55" fill="#2e5aff"/><rect x="382.70" y="439.70" width="2.32" height="5.55" fill="#2e5aff"/><rect x="486.97" y="439.70" width="2.32" height="5.55" fill="#2e5aff"/><rect x="493.77" y="439.70" width="2.32" height="5.55" fill="#2e5aff"/><rect x="314.70" y="445.20" width="2.32" height="5.55" fill="#82f096"/><rect x="344.17" y="445.20" width="2.32" height="5.55" fill="#bcfc23"/><rect x="348.70" y="445.20" width="2.32" height="5.55" fill="#bcfc23"/><rect x="350.97" y="445.20" width="2.32" height="5.55" fill="#2e5aff"/><rect x="360.03" y="445.20" width="2.32" height="5.55" fill="#64e6ff"/><rect x="366.83" y="445.20" width="2.32" height="5.55" fill="#2e5aff"/><rect x="380.43" y="445.20" width="2.32" height="5.55" fill="#50a5ff"/><rect x="464.30" y="445.20" width="2.32" height="5.55" fill="#2e5aff"/><rect x="496.03" y="445.20" width="2.32" height="5.55" fill="#2e5aff"/><rect x="502.83" y="445.20" width="2.32" height="5.55" fill="#2e5aff"/><rect x="332.83" y="450.70" width="2.32" height="5.55" fill="#50a5ff"/><rect x="344.17" y="450.70" width="2.32" height="5.55" fill="#2e5aff"/><rect x="364.57" y="450.70" width="2.32" height="5.55" fill="#2e5aff"/><rect x="366.83" y="450.70" width="2.32" height="5.55" fill="#bcfc23"/><rect x="382.70" y="450.70" width="2.32" height="5.55" fill="#82f096"/><rect x="398.57" y="450.70" width="2.32" height="5.55" fill="#2e5aff"/><rect x="477.90" y="450.70" width="2.32" height="5.55" fill="#2e5aff"/><rect x="545.90" y="450.70" width="2.32" height="5.55" fill="#2e5aff"/><rect x="319.23" y="456.20" width="2.32" height="5.55" fill="#82f096"/><rect x="321.50" y="456.20" width="2.32" height="5.55" fill="#bcfc23"/><rect x="335.10" y="456.20" width="2.32" height="5.55" fill="#64e6ff"/><rect x="341.90" y="456.20" width="2.32" height="5.55" fill="#fcee00"/><rect x="348.70" y="456.20" width="2.32" height="5.55" fill="#64e6ff"/><rect x="360.03" y="456.20" width="2.32" height="5.55" fill="#64e6ff"/><rect x="371.37" y="456.20" width="2.32" height="5.55" fill="#fcee00"/><rect x="373.63" y="456.20" width="2.32" height="5.55" fill="#ffa000"/><rect x="432.57" y="456.20" width="2.32" height="5.55" fill="#2e5aff"/><rect x="439.37" y="456.20" width="2.32" height="5.55" fill="#2e5aff"/><rect x="441.63" y="456.20" width="2.32" height="5.55" fill="#2e5aff"/><rect x="482.43" y="456.20" width="2.32" height="5.55" fill="#2e5aff"/><rect x="514.17" y="456.20" width="2.32" height="5.55" fill="#2e5aff"/><rect x="330.57" y="461.70" width="2.32" height="5.55" fill="#64e6ff"/><rect x="337.37" y="461.70" width="2.32" height="5.55" fill="#820000"/><rect x="350.97" y="461.70" width="2.32" height="5.55" fill="#64e6ff"/><rect x="353.23" y="461.70" width="2.32" height="5.55" fill="#0a14d2"/><rect x="416.70" y="461.70" width="2.32" height="5.55" fill="#bcfc23"/><rect x="439.37" y="461.70" width="2.32" height="5.55" fill="#2e5aff"/><rect x="448.43" y="461.70" width="2.32" height="5.55" fill="#50a5ff"/><rect x="452.97" y="461.70" width="2.32" height="5.55" fill="#50a5ff"/><rect x="466.57" y="461.70" width="2.32" height="5.55" fill="#2e5aff"/><rect x="471.10" y="461.70" width="2.32" height="5.55" fill="#2e5aff"/><rect x="482.43" y="461.70" width="2.32" height="5.55" fill="#50a5ff"/><rect x="486.97" y="461.70" width="2.32" height="5.55" fill="#50a5ff"/><rect x="489.23" y="461.70" width="2.32" height="5.55" fill="#2e5aff"/><rect x="321.50" y="467.20" width="2.32" height="5.55" fill="#2e5aff"/><rect x="387.23" y="467.20" width="2.32" height="5.55" fill="#2e5aff"/><rect x="389.50" y="467.20" width="2.32" height="5.55" fill="#2e5aff"/><rect x="396.30" y="467.20" width="2.32" height="5.55" fill="#bcfc23"/><rect x="398.57" y="467.20" width="2.32" height="5.55" fill="#2e5aff"/><rect x="405.37" y="467.20" width="2.32" height="5.55" fill="#64e6ff"/><rect x="498.30" y="467.20" width="2.32" height="5.55" fill="#50a5ff"/><rect x="511.90" y="467.20" width="2.32" height="5.55" fill="#50a5ff"/><rect x="518.70" y="467.20" width="2.32" height="5.55" fill="#2e5aff"/><rect x="543.63" y="467.20" width="2.32" height="5.55" fill="#2e5aff"/><rect x="316.97" y="472.70" width="2.32" height="5.55" fill="#2e5aff"/><rect x="326.03" y="472.70" width="2.32" height="5.55" fill="#2e5aff"/><rect x="360.03" y="472.70" width="2.32" height="5.55" fill="#2e5aff"/><rect x="362.30" y="472.70" width="2.32" height="5.55" fill="#2e5aff"/><rect x="389.50" y="472.70" width="2.32" height="5.55" fill="#64e6ff"/><rect x="394.03" y="472.70" width="2.32" height="5.55" fill="#64e6ff"/><rect x="398.57" y="472.70" width="2.32" height="5.55" fill="#bcfc23"/><rect x="364.57" y="478.20" width="2.32" height="5.55" fill="#2e5aff"/><rect x="373.63" y="478.20" width="2.32" height="5.55" fill="#2e5aff"/><rect x="389.50" y="478.20" width="2.32" height="5.55" fill="#2e5aff"/><rect x="394.03" y="478.20" width="2.32" height="5.55" fill="#2e5aff"/><rect x="398.57" y="478.20" width="2.32" height="5.55" fill="#82f096"/><rect x="409.90" y="478.20" width="2.32" height="5.55" fill="#2e5aff"/><rect x="459.77" y="478.20" width="2.32" height="5.55" fill="#2e5aff"/><rect x="375.90" y="483.70" width="2.32" height="5.55" fill="#2e5aff"/><rect x="389.50" y="483.70" width="2.32" height="5.55" fill="#2e5aff"/><rect x="446.17" y="483.70" width="2.32" height="5.55" fill="#2e5aff"/><rect x="473.37" y="483.70" width="2.32" height="5.55" fill="#2e5aff"/><rect x="491.50" y="483.70" width="2.32" height="5.55" fill="#2e5aff"/><rect x="516.43" y="483.70" width="2.32" height="5.55" fill="#2e5aff"/><rect x="530.03" y="483.70" width="2.32" height="5.55" fill="#2e5aff"/><rect x="362.30" y="489.20" width="2.32" height="5.55" fill="#2e5aff"/><rect x="366.83" y="489.20" width="2.32" height="5.55" fill="#2e5aff"/><rect x="389.50" y="489.20" width="2.32" height="5.55" fill="#bcfc23"/><rect x="394.03" y="489.20" width="2.32" height="5.55" fill="#64e6ff"/><rect x="405.37" y="489.20" width="2.32" height="5.55" fill="#bcfc23"/><rect x="409.90" y="489.20" width="2.32" height="5.55" fill="#50a5ff"/><rect x="432.57" y="489.20" width="2.32" height="5.55" fill="#2e5aff"/><rect x="462.03" y="489.20" width="2.32" height="5.55" fill="#2e5aff"/><rect x="520.97" y="489.20" width="2.32" height="5.55" fill="#2e5aff"/><rect x="328.30" y="494.70" width="2.32" height="5.55" fill="#2e5aff"/><rect x="335.10" y="494.70" width="2.32" height="5.55" fill="#2e5aff"/><rect x="380.43" y="494.70" width="2.32" height="5.55" fill="#2e5aff"/><rect x="391.77" y="494.70" width="2.32" height="5.55" fill="#bcfc23"/><rect x="403.10" y="494.70" width="2.32" height="5.55" fill="#fa1400"/><rect x="407.63" y="494.70" width="2.32" height="5.55" fill="#fcee00"/><rect x="500.57" y="494.70" width="2.32" height="5.55" fill="#2e5aff"/><rect x="507.37" y="494.70" width="2.32" height="5.55" fill="#2e5aff"/><rect x="543.63" y="494.70" width="2.32" height="5.55" fill="#2e5aff"/><rect x="314.70" y="500.20" width="2.32" height="5.55" fill="#2e5aff"/><rect x="330.57" y="500.20" width="2.32" height="5.55" fill="#2e5aff"/><rect x="350.97" y="500.20" width="2.32" height="5.55" fill="#50a5ff"/><rect x="387.23" y="500.20" width="2.32" height="5.55" fill="#fcee00"/><rect x="394.03" y="500.20" width="2.32" height="5.55" fill="#50a5ff"/><rect x="398.57" y="500.20" width="2.32" height="5.55" fill="#fcee00"/><rect x="405.37" y="500.20" width="2.32" height="5.55" fill="#2e5aff"/><rect x="409.90" y="500.20" width="2.32" height="5.55" fill="#fcee00"/><rect x="428.03" y="500.20" width="2.32" height="5.55" fill="#2e5aff"/><rect x="448.43" y="500.20" width="2.32" height="5.55" fill="#64e6ff"/><rect x="452.97" y="500.20" width="2.32" height="5.55" fill="#82f096"/><rect x="466.57" y="500.20" width="2.32" height="5.55" fill="#2e5aff"/><rect x="468.83" y="500.20" width="2.32" height="5.55" fill="#82f096"/><rect x="493.77" y="500.20" width="2.32" height="5.55" fill="#2e5aff"/><rect x="527.77" y="500.20" width="2.32" height="5.55" fill="#2e5aff"/><rect x="366.83" y="505.70" width="2.32" height="5.55" fill="#2e5aff"/><rect x="396.30" y="505.70" width="2.32" height="5.55" fill="#50a5ff"/><rect x="452.97" y="505.70" width="2.32" height="5.55" fill="#2e5aff"/><rect x="484.70" y="505.70" width="2.32" height="5.55" fill="#2e5aff"/><rect x="523.23" y="505.70" width="2.32" height="5.55" fill="#2e5aff"/><rect x="321.50" y="511.20" width="2.32" height="5.55" fill="#2e5aff"/><rect x="400.83" y="511.20" width="2.32" height="5.55" fill="#64e6ff"/><rect x="496.03" y="511.20" width="2.32" height="5.55" fill="#2e5aff"/><rect x="323.77" y="516.70" width="2.32" height="5.55" fill="#64e6ff"/><rect x="328.30" y="516.70" width="2.32" height="5.55" fill="#bcfc23"/><rect x="330.57" y="516.70" width="2.32" height="5.55" fill="#64e6ff"/><rect x="332.83" y="516.70" width="2.32" height="5.55" fill="#64e6ff"/><rect x="348.70" y="516.70" width="2.32" height="5.55" fill="#0a14d2"/><rect x="353.23" y="516.70" width="2.32" height="5.55" fill="#2e5aff"/><rect x="357.77" y="516.70" width="2.32" height="5.55" fill="#82f096"/><rect x="360.03" y="516.70" width="2.32" height="5.55" fill="#2e5aff"/><rect x="364.57" y="516.70" width="2.32" height="5.55" fill="#2e5aff"/><rect x="366.83" y="516.70" width="2.32" height="5.55" fill="#2e5aff"/><rect x="378.17" y="516.70" width="2.32" height="5.55" fill="#82f096"/><rect x="391.77" y="516.70" width="2.32" height="5.55" fill="#64e6ff"/><rect x="405.37" y="516.70" width="2.32" height="5.55" fill="#2e5aff"/><rect x="412.17" y="516.70" width="2.32" height="5.55" fill="#ffa000"/><rect x="441.63" y="516.70" width="2.32" height="5.55" fill="#2e5aff"/><rect x="500.57" y="516.70" width="2.32" height="5.55" fill="#2e5aff"/><rect x="507.37" y="516.70" width="2.32" height="5.55" fill="#2e5aff"/><rect x="523.23" y="516.70" width="2.32" height="5.55" fill="#2e5aff"/><rect x="530.03" y="516.70" width="2.32" height="5.55" fill="#2e5aff"/><rect x="545.90" y="516.70" width="2.32" height="5.55" fill="#50a5ff"/><rect x="328.30" y="522.20" width="2.32" height="5.55" fill="#2e5aff"/><rect x="337.37" y="522.20" width="2.32" height="5.55" fill="#2e5aff"/><rect x="421.23" y="522.20" width="2.32" height="5.55" fill="#2e5aff"/><rect x="423.50" y="522.20" width="2.32" height="5.55" fill="#64e6ff"/><rect x="432.57" y="522.20" width="2.32" height="5.55" fill="#82f096"/><rect x="437.10" y="522.20" width="2.32" height="5.55" fill="#64e6ff"/><rect x="439.37" y="522.20" width="2.32" height="5.55" fill="#64e6ff"/><rect x="464.30" y="522.20" width="2.32" height="5.55" fill="#82f096"/><rect x="484.70" y="522.20" width="2.32" height="5.55" fill="#64e6ff"/><rect x="500.57" y="522.20" width="2.32" height="5.55" fill="#2e5aff"/><rect x="509.63" y="522.20" width="2.32" height="5.55" fill="#2e5aff"/><rect x="536.83" y="522.20" width="2.32" height="5.55" fill="#2e5aff"/><rect x="332.83" y="527.70" width="2.32" height="5.55" fill="#2e5aff"/><rect x="371.37" y="527.70" width="2.32" height="5.55" fill="#2e5aff"/><rect x="452.97" y="527.70" width="2.32" height="5.55" fill="#50a5ff"/><rect x="455.23" y="527.70" width="2.32" height="5.55" fill="#fcee00"/><rect x="466.57" y="527.70" width="2.32" height="5.55" fill="#2e5aff"/><rect x="520.97" y="527.70" width="2.32" height="5.55" fill="#2e5aff"/><rect x="403.10" y="533.20" width="2.32" height="5.55" fill="#2e5aff"/><rect x="414.43" y="533.20" width="2.32" height="5.55" fill="#82f096"/><rect x="430.30" y="533.20" width="2.32" height="5.55" fill="#50a5ff"/><rect x="443.90" y="533.20" width="2.32" height="5.55" fill="#fcee00"/><rect x="450.70" y="533.20" width="2.32" height="5.55" fill="#64e6ff"/><rect x="455.23" y="533.20" width="2.32" height="5.55" fill="#2e5aff"/><rect x="466.57" y="533.20" width="2.32" height="5.55" fill="#64e6ff"/><rect x="468.83" y="533.20" width="2.32" height="5.55" fill="#2e5aff"/><rect x="471.10" y="533.20" width="2.32" height="5.55" fill="#50a5ff"/><rect x="477.90" y="533.20" width="2.32" height="5.55" fill="#50a5ff"/><rect x="484.70" y="533.20" width="2.32" height="5.55" fill="#2e5aff"/><rect x="509.63" y="533.20" width="2.32" height="5.55" fill="#2e5aff"/><rect x="511.90" y="533.20" width="2.32" height="5.55" fill="#2e5aff"/><rect x="523.23" y="533.20" width="2.32" height="5.55" fill="#2e5aff"/><rect x="530.03" y="533.20" width="2.32" height="5.55" fill="#2e5aff"/><rect x="543.63" y="533.20" width="2.32" height="5.55" fill="#2e5aff"/><rect x="314.70" y="538.70" width="2.32" height="5.55" fill="#2e5aff"/><rect x="335.10" y="538.70" width="2.32" height="5.55" fill="#2e5aff"/><rect x="357.77" y="538.70" width="2.32" height="5.55" fill="#2e5aff"/><rect x="409.90" y="538.70" width="2.32" height="5.55" fill="#2e5aff"/><rect x="414.43" y="538.70" width="2.32" height="5.55" fill="#82f096"/><rect x="423.50" y="538.70" width="2.32" height="5.55" fill="#2e5aff"/><rect x="430.30" y="538.70" width="2.32" height="5.55" fill="#ff5a00"/><rect x="434.83" y="538.70" width="2.32" height="5.55" fill="#82f096"/><rect x="446.17" y="538.70" width="2.32" height="5.55" fill="#64e6ff"/><rect x="452.97" y="538.70" width="2.32" height="5.55" fill="#64e6ff"/><rect x="455.23" y="538.70" width="2.32" height="5.55" fill="#64e6ff"/><rect x="459.77" y="538.70" width="2.32" height="5.55" fill="#50a5ff"/><rect x="466.57" y="538.70" width="2.32" height="5.55" fill="#82f096"/><rect x="475.63" y="538.70" width="2.32" height="5.55" fill="#50a5ff"/><rect x="482.43" y="538.70" width="2.32" height="5.55" fill="#ffa000"/><rect x="321.50" y="544.20" width="2.32" height="5.55" fill="#2e5aff"/><rect x="339.63" y="544.20" width="2.32" height="5.55" fill="#2e5aff"/><rect x="350.97" y="544.20" width="2.32" height="5.55" fill="#2e5aff"/><rect x="382.70" y="544.20" width="2.32" height="5.55" fill="#0a14d2"/><rect x="414.43" y="544.20" width="2.32" height="5.55" fill="#bcfc23"/><rect x="416.70" y="544.20" width="2.32" height="5.55" fill="#ffa000"/><rect x="418.97" y="544.20" width="2.32" height="5.55" fill="#fa1400"/><rect x="432.57" y="544.20" width="2.32" height="5.55" fill="#64e6ff"/><rect x="450.70" y="544.20" width="2.32" height="5.55" fill="#82f096"/><rect x="457.50" y="544.20" width="2.32" height="5.55" fill="#ffa000"/><rect x="462.03" y="544.20" width="2.32" height="5.55" fill="#50a5ff"/><rect x="471.10" y="544.20" width="2.32" height="5.55" fill="#82f096"/><rect x="473.37" y="544.20" width="2.32" height="5.55" fill="#2e5aff"/><rect x="477.90" y="544.20" width="2.32" height="5.55" fill="#82f096"/><rect x="482.43" y="544.20" width="2.32" height="5.55" fill="#50a5ff"/><rect x="421.23" y="549.70" width="2.32" height="5.55" fill="#50a5ff"/><rect x="423.50" y="549.70" width="2.32" height="5.55" fill="#bcfc23"/><rect x="434.83" y="549.70" width="2.32" height="5.55" fill="#2e5aff"/><rect x="448.43" y="549.70" width="2.32" height="5.55" fill="#2e5aff"/><rect x="457.50" y="549.70" width="2.32" height="5.55" fill="#bcfc23"/><rect x="462.03" y="549.70" width="2.32" height="5.55" fill="#2e5aff"/><rect x="477.90" y="549.70" width="2.32" height="5.55" fill="#82f096"/><rect x="489.23" y="549.70" width="2.32" height="5.55" fill="#2e5aff"/><rect x="507.37" y="549.70" width="2.32" height="5.55" fill="#2e5aff"/><rect x="509.63" y="549.70" width="2.32" height="5.55" fill="#2e5aff"/><rect x="536.83" y="549.70" width="2.32" height="5.55" fill="#2e5aff"/><rect x="373.63" y="555.20" width="2.32" height="5.55" fill="#2e5aff"/><rect x="387.23" y="555.20" width="2.32" height="5.55" fill="#2e5aff"/><rect x="423.50" y="555.20" width="2.32" height="5.55" fill="#64e6ff"/><rect x="425.77" y="555.20" width="2.32" height="5.55" fill="#64e6ff"/><rect x="434.83" y="555.20" width="2.32" height="5.55" fill="#2e5aff"/><rect x="437.10" y="555.20" width="2.32" height="5.55" fill="#82f096"/><rect x="439.37" y="555.20" width="2.32" height="5.55" fill="#bcfc23"/><rect x="443.90" y="555.20" width="2.32" height="5.55" fill="#2e5aff"/><rect x="448.43" y="555.20" width="2.32" height="5.55" fill="#64e6ff"/><rect x="452.97" y="555.20" width="2.32" height="5.55" fill="#64e6ff"/><rect x="462.03" y="555.20" width="2.32" height="5.55" fill="#64e6ff"/><rect x="471.10" y="555.20" width="2.32" height="5.55" fill="#64e6ff"/><rect x="475.63" y="555.20" width="2.32" height="5.55" fill="#fcee00"/><rect x="484.70" y="555.20" width="2.32" height="5.55" fill="#bcfc23"/><rect x="360.03" y="560.70" width="2.32" height="5.55" fill="#2e5aff"/><rect x="425.77" y="560.70" width="2.32" height="5.55" fill="#2e5aff"/><rect x="428.03" y="560.70" width="2.32" height="5.55" fill="#fa1400"/><rect x="432.57" y="560.70" width="2.32" height="5.55" fill="#64e6ff"/><rect x="448.43" y="560.70" width="2.32" height="5.55" fill="#2e5aff"/><rect x="468.83" y="560.70" width="2.32" height="5.55" fill="#fcee00"/><rect x="473.37" y="560.70" width="2.32" height="5.55" fill="#fcee00"/><rect x="480.17" y="560.70" width="2.32" height="5.55" fill="#64e6ff"/><rect x="484.70" y="560.70" width="2.32" height="5.55" fill="#2e5aff"/><rect x="530.03" y="560.70" width="2.32" height="5.55" fill="#2e5aff"/><rect x="550.43" y="560.70" width="2.27" height="5.55" fill="#2e5aff"/><rect x="321.50" y="566.20" width="2.32" height="5.55" fill="#2e5aff"/><rect x="323.77" y="566.20" width="2.32" height="5.55" fill="#2e5aff"/><rect x="341.90" y="566.20" width="2.32" height="5.55" fill="#2e5aff"/><rect x="357.77" y="566.20" width="2.32" height="5.55" fill="#2e5aff"/><rect x="378.17" y="566.20" width="2.32" height="5.55" fill="#2e5aff"/><rect x="437.10" y="566.20" width="2.32" height="5.55" fill="#64e6ff"/><rect x="439.37" y="566.20" width="2.32" height="5.55" fill="#50a5ff"/><rect x="443.90" y="566.20" width="2.32" height="5.55" fill="#64e6ff"/><rect x="452.97" y="566.20" width="2.32" height="5.55" fill="#50a5ff"/><rect x="459.77" y="566.20" width="2.32" height="5.55" fill="#2e5aff"/><rect x="464.30" y="566.20" width="2.32" height="5.55" fill="#82f096"/><rect x="378.17" y="571.70" width="2.32" height="5.55" fill="#2e5aff"/><rect x="416.70" y="571.70" width="2.32" height="5.55" fill="#2e5aff"/><rect x="432.57" y="571.70" width="2.32" height="5.55" fill="#ffa000"/><rect x="452.97" y="571.70" width="2.32" height="5.55" fill="#2e5aff"/><rect x="455.23" y="571.70" width="2.32" height="5.55" fill="#2e5aff"/><rect x="459.77" y="571.70" width="2.32" height="5.55" fill="#2e5aff"/><rect x="468.83" y="571.70" width="2.32" height="5.55" fill="#64e6ff"/><rect x="473.37" y="571.70" width="2.32" height="5.55" fill="#64e6ff"/><rect x="480.17" y="571.70" width="2.32" height="5.55" fill="#82f096"/><rect x="486.97" y="571.70" width="2.32" height="5.55" fill="#bcfc23"/><rect x="491.50" y="571.70" width="2.32" height="5.55" fill="#64e6ff"/><rect x="330.57" y="577.20" width="2.32" height="5.55" fill="#82f096"/><rect x="339.63" y="577.20" width="2.32" height="5.55" fill="#2e5aff"/><rect x="344.17" y="577.20" width="2.32" height="5.55" fill="#0a14d2"/><rect x="353.23" y="577.20" width="2.32" height="5.55" fill="#82f096"/><rect x="360.03" y="577.20" width="2.32" height="5.55" fill="#0a14d2"/><rect x="391.77" y="577.20" width="2.32" height="5.55" fill="#64e6ff"/><rect x="405.37" y="577.20" width="2.32" height="5.55" fill="#0a14d2"/><rect x="407.63" y="577.20" width="2.32" height="5.55" fill="#64e6ff"/><rect x="412.17" y="577.20" width="2.32" height="5.55" fill="#2e5aff"/><rect x="416.70" y="577.20" width="2.32" height="5.55" fill="#82f096"/><rect x="446.17" y="577.20" width="2.32" height="5.55" fill="#64e6ff"/><rect x="459.77" y="577.20" width="2.32" height="5.55" fill="#2e5aff"/><rect x="491.50" y="577.20" width="2.32" height="5.55" fill="#64e6ff"/><rect x="493.77" y="577.20" width="2.32" height="5.55" fill="#64e6ff"/><rect x="525.50" y="577.20" width="2.32" height="5.55" fill="#2e5aff"/><rect x="545.90" y="577.20" width="2.32" height="5.55" fill="#50a5ff"/><rect x="328.30" y="582.70" width="2.32" height="5.55" fill="#0a14d2"/><rect x="346.43" y="582.70" width="2.32" height="5.55" fill="#2e5aff"/><rect x="353.23" y="582.70" width="2.32" height="5.55" fill="#2e5aff"/><rect x="378.17" y="582.70" width="2.32" height="5.55" fill="#2e5aff"/><rect x="418.97" y="582.70" width="2.32" height="5.55" fill="#bcfc23"/><rect x="425.77" y="582.70" width="2.32" height="5.55" fill="#2e5aff"/><rect x="466.57" y="582.70" width="2.32" height="5.55" fill="#2e5aff"/><rect x="489.23" y="582.70" width="2.32" height="5.55" fill="#2e5aff"/><rect x="498.30" y="582.70" width="2.32" height="5.55" fill="#2e5aff"/><rect x="502.83" y="582.70" width="2.32" height="5.55" fill="#82f096"/><rect x="505.10" y="582.70" width="2.32" height="5.55" fill="#ffa000"/><rect x="511.90" y="582.70" width="2.32" height="5.55" fill="#64e6ff"/><rect x="523.23" y="582.70" width="2.32" height="5.55" fill="#50a5ff"/><rect x="530.03" y="582.70" width="2.32" height="5.55" fill="#bcfc23"/><rect x="541.37" y="582.70" width="2.32" height="5.55" fill="#50a5ff"/><rect x="548.17" y="582.70" width="2.32" height="5.55" fill="#50a5ff"/><rect x="314.70" y="588.20" width="2.32" height="5.55" fill="#2e5aff"/><rect x="369.10" y="588.20" width="2.32" height="5.55" fill="#2e5aff"/><rect x="412.17" y="588.20" width="2.32" height="5.55" fill="#2e5aff"/><rect x="489.23" y="588.20" width="2.32" height="5.55" fill="#bcfc23"/><rect x="493.77" y="588.20" width="2.32" height="5.55" fill="#82f096"/><rect x="502.83" y="588.20" width="2.32" height="5.55" fill="#82f096"/><rect x="511.90" y="588.20" width="2.32" height="5.55" fill="#82f096"/><rect x="516.43" y="588.20" width="2.32" height="5.55" fill="#bcfc23"/><rect x="527.77" y="588.20" width="2.32" height="5.55" fill="#2e5aff"/><rect x="536.83" y="588.20" width="2.32" height="5.55" fill="#bcfc23"/><rect x="548.17" y="588.20" width="2.32" height="5.55" fill="#bcfc23"/><rect x="350.97" y="593.70" width="2.32" height="5.55" fill="#2e5aff"/><rect x="439.37" y="593.70" width="2.32" height="5.55" fill="#2e5aff"/><rect x="457.50" y="593.70" width="2.32" height="5.55" fill="#2e5aff"/><rect x="498.30" y="593.70" width="2.32" height="5.55" fill="#ff5a00"/><rect x="514.17" y="593.70" width="2.32" height="5.55" fill="#2e5aff"/><rect x="516.43" y="593.70" width="2.32" height="5.55" fill="#2e5aff"/><rect x="525.50" y="593.70" width="2.32" height="5.55" fill="#2e5aff"/><rect x="319.23" y="599.20" width="2.32" height="5.55" fill="#2e5aff"/><rect x="321.50" y="599.20" width="2.32" height="5.55" fill="#2e5aff"/><rect x="373.63" y="599.20" width="2.32" height="5.55" fill="#2e5aff"/><rect x="394.03" y="599.20" width="2.32" height="5.55" fill="#2e5aff"/><rect x="493.77" y="599.20" width="2.32" height="5.55" fill="#fcee00"/><rect x="496.03" y="599.20" width="2.32" height="5.55" fill="#fcee00"/><rect x="500.57" y="599.20" width="2.32" height="5.55" fill="#50a5ff"/><rect x="507.37" y="599.20" width="2.32" height="5.55" fill="#50a5ff"/><rect x="509.63" y="599.20" width="2.32" height="5.55" fill="#82f096"/><rect x="518.70" y="599.20" width="2.32" height="5.55" fill="#82f096"/><rect x="520.97" y="599.20" width="2.32" height="5.55" fill="#64e6ff"/><rect x="523.23" y="599.20" width="2.32" height="5.55" fill="#2e5aff"/><rect x="536.83" y="599.20" width="2.32" height="5.55" fill="#fa1400"/><rect x="548.17" y="599.20" width="2.32" height="5.55" fill="#64e6ff"/><rect x="357.77" y="604.70" width="2.32" height="5.55" fill="#2e5aff"/><rect x="382.70" y="604.70" width="2.32" height="5.55" fill="#0a14d2"/><rect x="396.30" y="604.70" width="2.32" height="5.55" fill="#50a5ff"/><rect x="398.57" y="604.70" width="2.32" height="5.55" fill="#2e5aff"/><rect x="400.83" y="604.70" width="2.32" height="5.55" fill="#2e5aff"/><rect x="443.90" y="604.70" width="2.32" height="5.55" fill="#2e5aff"/><rect x="471.10" y="604.70" width="2.32" height="5.55" fill="#2e5aff"/><rect x="473.37" y="604.70" width="2.32" height="5.55" fill="#2e5aff"/><rect x="491.50" y="604.70" width="2.32" height="5.55" fill="#64e6ff"/><rect x="496.03" y="604.70" width="2.32" height="5.55" fill="#2e5aff"/><rect x="509.63" y="604.70" width="2.32" height="5.55" fill="#2e5aff"/><rect x="514.17" y="604.70" width="2.32" height="5.55" fill="#fcee00"/><rect x="518.70" y="604.70" width="2.32" height="5.55" fill="#2e5aff"/><rect x="525.50" y="604.70" width="2.32" height="5.55" fill="#bcfc23"/><rect x="527.77" y="604.70" width="2.32" height="5.55" fill="#ffa000"/><rect x="534.57" y="604.70" width="2.32" height="5.55" fill="#2e5aff"/><rect x="545.90" y="604.70" width="2.32" height="5.55" fill="#82f096"/><rect x="323.77" y="610.20" width="2.32" height="5.55" fill="#2e5aff"/><rect x="344.17" y="610.20" width="2.32" height="5.55" fill="#2e5aff"/><rect x="355.50" y="610.20" width="2.32" height="5.55" fill="#2e5aff"/><rect x="362.30" y="610.20" width="2.32" height="5.55" fill="#2e5aff"/><rect x="373.63" y="610.20" width="2.32" height="5.55" fill="#2e5aff"/><rect x="378.17" y="610.20" width="2.32" height="5.55" fill="#2e5aff"/><rect x="489.23" y="610.20" width="2.32" height="5.55" fill="#64e6ff"/><rect x="520.97" y="610.20" width="2.32" height="5.55" fill="#64e6ff"/><rect x="523.23" y="610.20" width="2.32" height="5.55" fill="#50a5ff"/><rect x="525.50" y="610.20" width="2.32" height="5.55" fill="#50a5ff"/><rect x="532.30" y="610.20" width="2.32" height="5.55" fill="#82f096"/><rect x="543.63" y="610.20" width="2.32" height="5.55" fill="#ffa000"/><rect x="355.50" y="615.70" width="2.32" height="5.55" fill="#2e5aff"/><rect x="362.30" y="615.70" width="2.32" height="5.55" fill="#2e5aff"/><rect x="414.43" y="615.70" width="2.32" height="5.55" fill="#2e5aff"/><rect x="471.10" y="615.70" width="2.32" height="5.55" fill="#2e5aff"/><rect x="489.23" y="615.70" width="2.32" height="5.55" fill="#2e5aff"/><rect x="496.03" y="615.70" width="2.32" height="5.55" fill="#50a5ff"/><rect x="500.57" y="615.70" width="2.32" height="5.55" fill="#50a5ff"/><rect x="505.10" y="615.70" width="2.32" height="5.55" fill="#50a5ff"/><rect x="507.37" y="615.70" width="2.32" height="5.55" fill="#50a5ff"/><rect x="532.30" y="615.70" width="2.32" height="5.55" fill="#50a5ff"/><rect x="536.83" y="615.70" width="2.32" height="5.55" fill="#bcfc23"/><rect x="543.63" y="615.70" width="2.32" height="5.55" fill="#50a5ff"/><rect x="339.63" y="621.20" width="2.32" height="5.55" fill="#2e5aff"/><rect x="387.23" y="621.20" width="2.32" height="5.55" fill="#64e6ff"/><rect x="389.50" y="621.20" width="2.32" height="5.55" fill="#2e5aff"/><rect x="398.57" y="621.20" width="2.32" height="5.55" fill="#2e5aff"/><rect x="405.37" y="621.20" width="2.32" height="5.55" fill="#2e5aff"/><rect x="443.90" y="621.20" width="2.32" height="5.55" fill="#2e5aff"/><rect x="489.23" y="621.20" width="2.32" height="5.55" fill="#2e5aff"/><rect x="511.90" y="621.20" width="2.32" height="5.55" fill="#64e6ff"/><rect x="518.70" y="621.20" width="2.32" height="5.55" fill="#2e5aff"/><rect x="520.97" y="621.20" width="2.32" height="5.55" fill="#bcfc23"/><rect x="527.77" y="621.20" width="2.32" height="5.55" fill="#2e5aff"/><rect x="532.30" y="621.20" width="2.32" height="5.55" fill="#64e6ff"/><rect x="541.37" y="621.20" width="2.32" height="5.55" fill="#ffa000"/><rect x="387.23" y="626.70" width="2.32" height="5.55" fill="#2e5aff"/><rect x="507.37" y="626.70" width="2.32" height="5.55" fill="#82f096"/><rect x="511.90" y="626.70" width="2.32" height="5.55" fill="#2e5aff"/><rect x="518.70" y="626.70" width="2.32" height="5.55" fill="#bcfc23"/><rect x="530.03" y="626.70" width="2.32" height="5.55" fill="#2e5aff"/><rect x="539.10" y="626.70" width="2.32" height="5.55" fill="#ff5a00"/><rect x="314.70" y="412.20" width="238.00" height="220.00" fill="none" stroke="#111" stroke-width="1"/><line x1="358.48" y1="632.20" x2="358.48" y2="630.00" stroke="#111" stroke-width="1"/><line x1="358.48" y1="412.20" x2="358.48" y2="414.40" stroke="#111" stroke-width="1"/><text x="358.48" y="642.90" class="tk" text-anchor="middle">20</text><line x1="403.39" y1="632.20" x2="403.39" y2="630.00" stroke="#111" stroke-width="1"/><line x1="403.39" y1="412.20" x2="403.39" y2="414.40" stroke="#111" stroke-width="1"/><text x="403.39" y="642.90" class="tk" text-anchor="middle">40</text><line x1="448.29" y1="632.20" x2="448.29" y2="630.00" stroke="#111" stroke-width="1"/><line x1="448.29" y1="412.20" x2="448.29" y2="414.40" stroke="#111" stroke-width="1"/><text x="448.29" y="642.90" class="tk" text-anchor="middle">60</text><line x1="493.20" y1="632.20" x2="493.20" y2="630.00" stroke="#111" stroke-width="1"/><line x1="493.20" y1="412.20" x2="493.20" y2="414.40" stroke="#111" stroke-width="1"/><text x="493.20" y="642.90" class="tk" text-anchor="middle">80</text><line x1="538.11" y1="632.20" x2="538.11" y2="630.00" stroke="#111" stroke-width="1"/><line x1="538.11" y1="412.20" x2="538.11" y2="414.40" stroke="#111" stroke-width="1"/><text x="538.11" y="642.90" class="tk" text-anchor="middle">100</text><line x1="314.70" y1="436.95" x2="316.90" y2="436.95" stroke="#111" stroke-width="1"/><line x1="552.70" y1="436.95" x2="550.50" y2="436.95" stroke="#111" stroke-width="1"/><text x="312.10" y="440.25" class="tk" text-anchor="end">5</text><line x1="314.70" y1="464.45" x2="316.90" y2="464.45" stroke="#111" stroke-width="1"/><line x1="552.70" y1="464.45" x2="550.50" y2="464.45" stroke="#111" stroke-width="1"/><text x="312.10" y="467.75" class="tk" text-anchor="end">10</text><line x1="314.70" y1="491.95" x2="316.90" y2="491.95" stroke="#111" stroke-width="1"/><line x1="552.70" y1="491.95" x2="550.50" y2="491.95" stroke="#111" stroke-width="1"/><text x="312.10" y="495.25" class="tk" text-anchor="end">15</text><line x1="314.70" y1="519.45" x2="316.90" y2="519.45" stroke="#111" stroke-width="1"/><line x1="552.70" y1="519.45" x2="550.50" y2="519.45" stroke="#111" stroke-width="1"/><text x="312.10" y="522.75" class="tk" text-anchor="end">20</text><line x1="314.70" y1="546.95" x2="316.90" y2="546.95" stroke="#111" stroke-width="1"/><line x1="552.70" y1="546.95" x2="550.50" y2="546.95" stroke="#111" stroke-width="1"/><text x="312.10" y="550.25" class="tk" text-anchor="end">25</text><line x1="314.70" y1="574.45" x2="316.90" y2="574.45" stroke="#111" stroke-width="1"/><line x1="552.70" y1="574.45" x2="550.50" y2="574.45" stroke="#111" stroke-width="1"/><text x="312.10" y="577.75" class="tk" text-anchor="end">30</text><line x1="314.70" y1="601.95" x2="316.90" y2="601.95" stroke="#111" stroke-width="1"/><line x1="552.70" y1="601.95" x2="550.50" y2="601.95" stroke="#111" stroke-width="1"/><text x="312.10" y="605.25" class="tk" text-anchor="end">35</text><line x1="314.70" y1="629.45" x2="316.90" y2="629.45" stroke="#111" stroke-width="1"/><line x1="552.70" y1="629.45" x2="550.50" y2="629.45" stroke="#111" stroke-width="1"/><text x="312.10" y="632.75" class="tk" text-anchor="end">40</text><rect x="263.30" y="119.60" width="18.40" height="4.24" fill="#840000"/><rect x="263.30" y="123.04" width="18.40" height="4.24" fill="#930100"/><rect x="263.30" y="126.49" width="18.40" height="4.24" fill="#a10200"/><rect x="263.30" y="129.93" width="18.40" height="4.24" fill="#af0200"/><rect x="263.30" y="133.38" width="18.40" height="4.24" fill="#be0300"/><rect x="263.30" y="136.82" width="18.40" height="4.24" fill="#cc0300"/><rect x="263.30" y="140.26" width="18.40" height="4.24" fill="#db0400"/><rect x="263.30" y="143.71" width="18.40" height="4.24" fill="#e90500"/><rect x="263.30" y="147.15" width="18.40" height="4.24" fill="#f50700"/><rect x="263.30" y="150.59" width="18.40" height="4.24" fill="#f71200"/><rect x="263.30" y="154.04" width="18.40" height="4.24" fill="#f91e00"/><rect x="263.30" y="157.48" width="18.40" height="4.24" fill="#fb2900"/><rect x="263.30" y="160.93" width="18.40" height="4.24" fill="#fc3400"/><rect x="263.30" y="164.37" width="18.40" height="4.24" fill="#fe3f00"/><rect x="263.30" y="167.81" width="18.40" height="4.24" fill="#ff4d00"/><rect x="263.30" y="171.26" width="18.40" height="4.24" fill="#ff5c00"/><rect x="263.30" y="174.70" width="18.40" height="4.24" fill="#ff6c00"/><rect x="263.30" y="178.14" width="18.40" height="4.24" fill="#ff7b00"/><rect x="263.30" y="181.59" width="18.40" height="4.24" fill="#ff8b00"/><rect x="263.30" y="185.03" width="18.40" height="4.24" fill="#ff9b00"/><rect x="263.30" y="188.47" width="18.40" height="4.24" fill="#ffac00"/><rect x="263.30" y="191.92" width="18.40" height="4.24" fill="#ffbd00"/><rect x="263.30" y="195.36" width="18.40" height="4.24" fill="#ffce00"/><rect x="263.30" y="198.81" width="18.40" height="4.24" fill="#ffdf00"/><rect x="263.30" y="202.25" width="18.40" height="4.24" fill="#fff000"/><rect x="263.30" y="205.69" width="18.40" height="4.24" fill="#edf303"/><rect x="263.30" y="209.14" width="18.40" height="4.24" fill="#daf606"/><rect x="263.30" y="212.58" width="18.40" height="4.24" fill="#c8fa0a"/><rect x="263.30" y="216.02" width="18.40" height="4.24" fill="#b5fd0d"/><rect x="263.30" y="219.47" width="18.40" height="4.24" fill="#a8fe17"/><rect x="263.30" y="222.91" width="18.40" height="4.24" fill="#a1fb2a"/><rect x="263.30" y="226.36" width="18.40" height="4.24" fill="#9bf93e"/><rect x="263.30" y="229.80" width="18.40" height="4.24" fill="#95f652"/><rect x="263.30" y="233.24" width="18.40" height="4.24" fill="#8ff366"/><rect x="263.30" y="236.69" width="18.40" height="4.24" fill="#89f279"/><rect x="263.30" y="240.13" width="18.40" height="4.24" fill="#84f18d"/><rect x="263.30" y="243.57" width="18.40" height="4.24" fill="#7ff1a0"/><rect x="263.30" y="247.02" width="18.40" height="4.24" fill="#7bf1b4"/><rect x="263.30" y="250.46" width="18.40" height="4.24" fill="#76f0c7"/><rect x="263.30" y="253.91" width="18.40" height="4.24" fill="#71eed7"/><rect x="263.30" y="257.35" width="18.40" height="4.24" fill="#6cebe1"/><rect x="263.30" y="260.79" width="18.40" height="4.24" fill="#68e8eb"/><rect x="263.30" y="264.24" width="18.40" height="4.24" fill="#64e4f5"/><rect x="263.30" y="267.68" width="18.40" height="4.24" fill="#5fe1ff"/><rect x="263.30" y="271.12" width="18.40" height="4.24" fill="#54c9ff"/><rect x="263.30" y="274.57" width="18.40" height="4.24" fill="#48b0ff"/><rect x="263.30" y="278.01" width="18.40" height="4.24" fill="#3c97ff"/><rect x="263.30" y="281.46" width="18.40" height="4.24" fill="#3180ff"/><rect x="263.30" y="284.90" width="18.40" height="4.24" fill="#2d70ff"/><rect x="263.30" y="288.34" width="18.40" height="4.24" fill="#2861ff"/><rect x="263.30" y="291.79" width="18.40" height="4.24" fill="#2451ff"/><rect x="263.30" y="295.23" width="18.40" height="4.24" fill="#2041ff"/><rect x="263.30" y="298.68" width="18.40" height="4.24" fill="#1d3afd"/><rect x="263.30" y="302.12" width="18.40" height="4.24" fill="#1c37fb"/><rect x="263.30" y="305.56" width="18.40" height="4.24" fill="#1a34f8"/><rect x="263.30" y="309.01" width="18.40" height="4.24" fill="#1931f6"/><rect x="263.30" y="312.45" width="18.40" height="4.24" fill="#172df4"/><rect x="263.30" y="315.89" width="18.40" height="4.24" fill="#162af1"/><rect x="263.30" y="319.34" width="18.40" height="4.24" fill="#1427ef"/><rect x="263.30" y="322.78" width="18.40" height="4.24" fill="#1324ec"/><rect x="263.30" y="326.23" width="18.40" height="4.24" fill="#1121ea"/><rect x="263.30" y="329.67" width="18.40" height="4.24" fill="#101ee7"/><rect x="263.30" y="333.11" width="18.40" height="4.24" fill="#0e1be5"/><rect x="263.30" y="336.56" width="18.40" height="4.24" fill="#0d18e2"/><rect x="263.30" y="119.60" width="18.40" height="220.40" fill="none" stroke="#111" stroke-width="1"/><line x1="263.30" y1="148.83" x2="265.50" y2="148.83" stroke="#111" stroke-width="1"/><line x1="281.70" y1="148.83" x2="279.50" y2="148.83" stroke="#111" stroke-width="1"/><text x="283.30" y="152.13" class="tk">0.4</text><line x1="263.30" y1="186.06" x2="265.50" y2="186.06" stroke="#111" stroke-width="1"/><line x1="281.70" y1="186.06" x2="279.50" y2="186.06" stroke="#111" stroke-width="1"/><text x="283.30" y="189.36" class="tk">0.2</text><line x1="263.30" y1="223.28" x2="265.50" y2="223.28" stroke="#111" stroke-width="1"/><line x1="281.70" y1="223.28" x2="279.50" y2="223.28" stroke="#111" stroke-width="1"/><text x="283.30" y="226.58" class="tk">0</text><line x1="263.30" y1="260.51" x2="265.50" y2="260.51" stroke="#111" stroke-width="1"/><line x1="281.70" y1="260.51" x2="279.50" y2="260.51" stroke="#111" stroke-width="1"/><text x="283.30" y="263.81" class="tk">-0.2</text><line x1="263.30" y1="297.74" x2="265.50" y2="297.74" stroke="#111" stroke-width="1"/><line x1="281.70" y1="297.74" x2="279.50" y2="297.74" stroke="#111" stroke-width="1"/><text x="283.30" y="301.04" class="tk">-0.4</text><line x1="263.30" y1="334.97" x2="265.50" y2="334.97" stroke="#111" stroke-width="1"/><line x1="281.70" y1="334.97" x2="279.50" y2="334.97" stroke="#111" stroke-width="1"/><text x="283.30" y="338.27" class="tk">-0.6</text><rect x="565.30" y="119.40" width="18.00" height="4.25" fill="#840000"/><rect x="565.30" y="122.85" width="18.00" height="4.25" fill="#930100"/><rect x="565.30" y="126.30" width="18.00" height="4.25" fill="#a10200"/><rect x="565.30" y="129.75" width="18.00" height="4.25" fill="#af0200"/><rect x="565.30" y="133.20" width="18.00" height="4.25" fill="#be0300"/><rect x="565.30" y="136.65" width="18.00" height="4.25" fill="#cc0300"/><rect x="565.30" y="140.10" width="18.00" height="4.25" fill="#db0400"/><rect x="565.30" y="143.55" width="18.00" height="4.25" fill="#e90500"/><rect x="565.30" y="147.00" width="18.00" height="4.25" fill="#f50700"/><rect x="565.30" y="150.45" width="18.00" height="4.25" fill="#f71200"/><rect x="565.30" y="153.90" width="18.00" height="4.25" fill="#f91e00"/><rect x="565.30" y="157.35" width="18.00" height="4.25" fill="#fb2900"/><rect x="565.30" y="160.80" width="18.00" height="4.25" fill="#fc3400"/><rect x="565.30" y="164.25" width="18.00" height="4.25" fill="#fe3f00"/><rect x="565.30" y="167.70" width="18.00" height="4.25" fill="#ff4d00"/><rect x="565.30" y="171.15" width="18.00" height="4.25" fill="#ff5c00"/><rect x="565.30" y="174.60" width="18.00" height="4.25" fill="#ff6c00"/><rect x="565.30" y="178.05" width="18.00" height="4.25" fill="#ff7b00"/><rect x="565.30" y="181.50" width="18.00" height="4.25" fill="#ff8b00"/><rect x="565.30" y="184.95" width="18.00" height="4.25" fill="#ff9b00"/><rect x="565.30" y="188.40" width="18.00" height="4.25" fill="#ffac00"/><rect x="565.30" y="191.85" width="18.00" height="4.25" fill="#ffbd00"/><rect x="565.30" y="195.30" width="18.00" height="4.25" fill="#ffce00"/><rect x="565.30" y="198.75" width="18.00" height="4.25" fill="#ffdf00"/><rect x="565.30" y="202.20" width="18.00" height="4.25" fill="#fff000"/><rect x="565.30" y="205.65" width="18.00" height="4.25" fill="#edf303"/><rect x="565.30" y="209.10" width="18.00" height="4.25" fill="#daf606"/><rect x="565.30" y="212.55" width="18.00" height="4.25" fill="#c8fa0a"/><rect x="565.30" y="216.00" width="18.00" height="4.25" fill="#b5fd0d"/><rect x="565.30" y="219.45" width="18.00" height="4.25" fill="#a8fe17"/><rect x="565.30" y="222.90" width="18.00" height="4.25" fill="#a1fb2a"/><rect x="565.30" y="226.35" width="18.00" height="4.25" fill="#9bf93e"/><rect x="565.30" y="229.80" width="18.00" height="4.25" fill="#95f652"/><rect x="565.30" y="233.25" width="18.00" height="4.25" fill="#8ff366"/><rect x="565.30" y="236.70" width="18.00" height="4.25" fill="#89f279"/><rect x="565.30" y="240.15" width="18.00" height="4.25" fill="#84f18d"/><rect x="565.30" y="243.60" width="18.00" height="4.25" fill="#7ff1a0"/><rect x="565.30" y="247.05" width="18.00" height="4.25" fill="#7bf1b4"/><rect x="565.30" y="250.50" width="18.00" height="4.25" fill="#76f0c7"/><rect x="565.30" y="253.95" width="18.00" height="4.25" fill="#71eed7"/><rect x="565.30" y="257.40" width="18.00" height="4.25" fill="#6cebe1"/><rect x="565.30" y="260.85" width="18.00" height="4.25" fill="#68e8eb"/><rect x="565.30" y="264.30" width="18.00" height="4.25" fill="#64e4f5"/><rect x="565.30" y="267.75" width="18.00" height="4.25" fill="#5fe1ff"/><rect x="565.30" y="271.20" width="18.00" height="4.25" fill="#54c9ff"/><rect x="565.30" y="274.65" width="18.00" height="4.25" fill="#48b0ff"/><rect x="565.30" y="278.10" width="18.00" height="4.25" fill="#3c97ff"/><rect x="565.30" y="281.55" width="18.00" height="4.25" fill="#3180ff"/><rect x="565.30" y="285.00" width="18.00" height="4.25" fill="#2d70ff"/><rect x="565.30" y="288.45" width="18.00" height="4.25" fill="#2861ff"/><rect x="565.30" y="291.90" width="18.00" height="4.25" fill="#2451ff"/><rect x="565.30" y="295.35" width="18.00" height="4.25" fill="#2041ff"/><rect x="565.30" y="298.80" width="18.00" height="4.25" fill="#1d3afd"/><rect x="565.30" y="302.25" width="18.00" height="4.25" fill="#1c37fb"/><rect x="565.30" y="305.70" width="18.00" height="4.25" fill="#1a34f8"/><rect x="565.30" y="309.15" width="18.00" height="4.25" fill="#1931f6"/><rect x="565.30" y="312.60" width="18.00" height="4.25" fill="#172df4"/><rect x="565.30" y="316.05" width="18.00" height="4.25" fill="#162af1"/><rect x="565.30" y="319.50" width="18.00" height="4.25" fill="#1427ef"/><rect x="565.30" y="322.95" width="18.00" height="4.25" fill="#1324ec"/><rect x="565.30" y="326.40" width="18.00" height="4.25" fill="#1121ea"/><rect x="565.30" y="329.85" width="18.00" height="4.25" fill="#101ee7"/><rect x="565.30" y="333.30" width="18.00" height="4.25" fill="#0e1be5"/><rect x="565.30" y="336.75" width="18.00" height="4.25" fill="#0d18e2"/><rect x="565.30" y="119.40" width="18.00" height="220.80" fill="none" stroke="#111" stroke-width="1"/><line x1="565.30" y1="135.42" x2="567.50" y2="135.42" stroke="#111" stroke-width="1"/><line x1="583.30" y1="135.42" x2="581.10" y2="135.42" stroke="#111" stroke-width="1"/><text x="584.90" y="138.72" class="tk">0.4</text><line x1="565.30" y1="157.37" x2="567.50" y2="157.37" stroke="#111" stroke-width="1"/><line x1="583.30" y1="157.37" x2="581.10" y2="157.37" stroke="#111" stroke-width="1"/><text x="584.90" y="160.67" class="tk">0.3</text><line x1="565.30" y1="179.32" x2="567.50" y2="179.32" stroke="#111" stroke-width="1"/><line x1="583.30" y1="179.32" x2="581.10" y2="179.32" stroke="#111" stroke-width="1"/><text x="584.90" y="182.62" class="tk">0.2</text><line x1="565.30" y1="201.27" x2="567.50" y2="201.27" stroke="#111" stroke-width="1"/><line x1="583.30" y1="201.27" x2="581.10" y2="201.27" stroke="#111" stroke-width="1"/><text x="584.90" y="204.57" class="tk">0.1</text><line x1="565.30" y1="223.22" x2="567.50" y2="223.22" stroke="#111" stroke-width="1"/><line x1="583.30" y1="223.22" x2="581.10" y2="223.22" stroke="#111" stroke-width="1"/><text x="584.90" y="226.52" class="tk">0</text><line x1="565.30" y1="245.16" x2="567.50" y2="245.16" stroke="#111" stroke-width="1"/><line x1="583.30" y1="245.16" x2="581.10" y2="245.16" stroke="#111" stroke-width="1"/><text x="584.90" y="248.46" class="tk">-0.1</text><line x1="565.30" y1="267.11" x2="567.50" y2="267.11" stroke="#111" stroke-width="1"/><line x1="583.30" y1="267.11" x2="581.10" y2="267.11" stroke="#111" stroke-width="1"/><text x="584.90" y="270.41" class="tk">-0.2</text><line x1="565.30" y1="289.06" x2="567.50" y2="289.06" stroke="#111" stroke-width="1"/><line x1="583.30" y1="289.06" x2="581.10" y2="289.06" stroke="#111" stroke-width="1"/><text x="584.90" y="292.36" class="tk">-0.3</text><line x1="565.30" y1="311.01" x2="567.50" y2="311.01" stroke="#111" stroke-width="1"/><line x1="583.30" y1="311.01" x2="581.10" y2="311.01" stroke="#111" stroke-width="1"/><text x="584.90" y="314.31" class="tk">-0.4</text><line x1="565.30" y1="332.96" x2="567.50" y2="332.96" stroke="#111" stroke-width="1"/><line x1="583.30" y1="332.96" x2="581.10" y2="332.96" stroke="#111" stroke-width="1"/><text x="584.90" y="336.26" class="tk">-0.5</text><rect x="264.80" y="409.00" width="17.80" height="4.30" fill="#840000"/><rect x="264.80" y="412.50" width="17.80" height="4.30" fill="#930100"/><rect x="264.80" y="416.00" width="17.80" height="4.30" fill="#a10200"/><rect x="264.80" y="419.50" width="17.80" height="4.30" fill="#af0200"/><rect x="264.80" y="423.00" width="17.80" height="4.30" fill="#be0300"/><rect x="264.80" y="426.50" width="17.80" height="4.30" fill="#cc0300"/><rect x="264.80" y="430.00" width="17.80" height="4.30" fill="#db0400"/><rect x="264.80" y="433.50" width="17.80" height="4.30" fill="#e90500"/><rect x="264.80" y="437.00" width="17.80" height="4.30" fill="#f50700"/><rect x="264.80" y="440.50" width="17.80" height="4.30" fill="#f71200"/><rect x="264.80" y="444.00" width="17.80" height="4.30" fill="#f91e00"/><rect x="264.80" y="447.50" width="17.80" height="4.30" fill="#fb2900"/><rect x="264.80" y="451.00" width="17.80" height="4.30" fill="#fc3400"/><rect x="264.80" y="454.50" width="17.80" height="4.30" fill="#fe3f00"/><rect x="264.80" y="458.00" width="17.80" height="4.30" fill="#ff4d00"/><rect x="264.80" y="461.50" width="17.80" height="4.30" fill="#ff5c00"/><rect x="264.80" y="465.00" width="17.80" height="4.30" fill="#ff6c00"/><rect x="264.80" y="468.50" width="17.80" height="4.30" fill="#ff7b00"/><rect x="264.80" y="472.00" width="17.80" height="4.30" fill="#ff8b00"/><rect x="264.80" y="475.50" width="17.80" height="4.30" fill="#ff9b00"/><rect x="264.80" y="479.00" width="17.80" height="4.30" fill="#ffac00"/><rect x="264.80" y="482.50" width="17.80" height="4.30" fill="#ffbd00"/><rect x="264.80" y="486.00" width="17.80" height="4.30" fill="#ffce00"/><rect x="264.80" y="489.50" width="17.80" height="4.30" fill="#ffdf00"/><rect x="264.80" y="493.00" width="17.80" height="4.30" fill="#fff000"/><rect x="264.80" y="496.50" width="17.80" height="4.30" fill="#edf303"/><rect x="264.80" y="500.00" width="17.80" height="4.30" fill="#daf606"/><rect x="264.80" y="503.50" width="17.80" height="4.30" fill="#c8fa0a"/><rect x="264.80" y="507.00" width="17.80" height="4.30" fill="#b5fd0d"/><rect x="264.80" y="510.50" width="17.80" height="4.30" fill="#a8fe17"/><rect x="264.80" y="514.00" width="17.80" height="4.30" fill="#a1fb2a"/><rect x="264.80" y="517.50" width="17.80" height="4.30" fill="#9bf93e"/><rect x="264.80" y="521.00" width="17.80" height="4.30" fill="#95f652"/><rect x="264.80" y="524.50" width="17.80" height="4.30" fill="#8ff366"/><rect x="264.80" y="528.00" width="17.80" height="4.30" fill="#89f279"/><rect x="264.80" y="531.50" width="17.80" height="4.30" fill="#84f18d"/><rect x="264.80" y="535.00" width="17.80" height="4.30" fill="#7ff1a0"/><rect x="264.80" y="538.50" width="17.80" height="4.30" fill="#7bf1b4"/><rect x="264.80" y="542.00" width="17.80" height="4.30" fill="#76f0c7"/><rect x="264.80" y="545.50" width="17.80" height="4.30" fill="#71eed7"/><rect x="264.80" y="549.00" width="17.80" height="4.30" fill="#6cebe1"/><rect x="264.80" y="552.50" width="17.80" height="4.30" fill="#68e8eb"/><rect x="264.80" y="556.00" width="17.80" height="4.30" fill="#64e4f5"/><rect x="264.80" y="559.50" width="17.80" height="4.30" fill="#5fe1ff"/><rect x="264.80" y="563.00" width="17.80" height="4.30" fill="#54c9ff"/><rect x="264.80" y="566.50" width="17.80" height="4.30" fill="#48b0ff"/><rect x="264.80" y="570.00" width="17.80" height="4.30" fill="#3c97ff"/><rect x="264.80" y="573.50" width="17.80" height="4.30" fill="#3180ff"/><rect x="264.80" y="577.00" width="17.80" height="4.30" fill="#2d70ff"/><rect x="264.80" y="580.50" width="17.80" height="4.30" fill="#2861ff"/><rect x="264.80" y="584.00" width="17.80" height="4.30" fill="#2451ff"/><rect x="264.80" y="587.50" width="17.80" height="4.30" fill="#2041ff"/><rect x="264.80" y="591.00" width="17.80" height="4.30" fill="#1d3afd"/><rect x="264.80" y="594.50" width="17.80" height="4.30" fill="#1c37fb"/><rect x="264.80" y="598.00" width="17.80" height="4.30" fill="#1a34f8"/><rect x="264.80" y="601.50" width="17.80" height="4.30" fill="#1931f6"/><rect x="264.80" y="605.00" width="17.80" height="4.30" fill="#172df4"/><rect x="264.80" y="608.50" width="17.80" height="4.30" fill="#162af1"/><rect x="264.80" y="612.00" width="17.80" height="4.30" fill="#1427ef"/><rect x="264.80" y="615.50" width="17.80" height="4.30" fill="#1324ec"/><rect x="264.80" y="619.00" width="17.80" height="4.30" fill="#1121ea"/><rect x="264.80" y="622.50" width="17.80" height="4.30" fill="#101ee7"/><rect x="264.80" y="626.00" width="17.80" height="4.30" fill="#0e1be5"/><rect x="264.80" y="629.50" width="17.80" height="4.30" fill="#0d18e2"/><rect x="264.80" y="409.00" width="17.80" height="224.00" fill="none" stroke="#111" stroke-width="1"/><line x1="264.80" y1="425.94" x2="267.00" y2="425.94" stroke="#111" stroke-width="1"/><line x1="282.60" y1="425.94" x2="280.40" y2="425.94" stroke="#111" stroke-width="1"/><text x="284.20" y="429.24" class="tk">0.8</text><line x1="264.80" y1="447.95" x2="267.00" y2="447.95" stroke="#111" stroke-width="1"/><line x1="282.60" y1="447.95" x2="280.40" y2="447.95" stroke="#111" stroke-width="1"/><text x="284.20" y="451.25" class="tk">0.7</text><line x1="264.80" y1="469.95" x2="267.00" y2="469.95" stroke="#111" stroke-width="1"/><line x1="282.60" y1="469.95" x2="280.40" y2="469.95" stroke="#111" stroke-width="1"/><text x="284.20" y="473.25" class="tk">0.6</text><line x1="264.80" y1="491.95" x2="267.00" y2="491.95" stroke="#111" stroke-width="1"/><line x1="282.60" y1="491.95" x2="280.40" y2="491.95" stroke="#111" stroke-width="1"/><text x="284.20" y="495.25" class="tk">0.5</text><line x1="264.80" y1="513.96" x2="267.00" y2="513.96" stroke="#111" stroke-width="1"/><line x1="282.60" y1="513.96" x2="280.40" y2="513.96" stroke="#111" stroke-width="1"/><text x="284.20" y="517.26" class="tk">0.4</text><line x1="264.80" y1="535.96" x2="267.00" y2="535.96" stroke="#111" stroke-width="1"/><line x1="282.60" y1="535.96" x2="280.40" y2="535.96" stroke="#111" stroke-width="1"/><text x="284.20" y="539.26" class="tk">0.3</text><line x1="264.80" y1="557.97" x2="267.00" y2="557.97" stroke="#111" stroke-width="1"/><line x1="282.60" y1="557.97" x2="280.40" y2="557.97" stroke="#111" stroke-width="1"/><text x="284.20" y="561.27" class="tk">0.2</text><line x1="264.80" y1="579.97" x2="267.00" y2="579.97" stroke="#111" stroke-width="1"/><line x1="282.60" y1="579.97" x2="280.40" y2="579.97" stroke="#111" stroke-width="1"/><text x="284.20" y="583.27" class="tk">0.1</text><line x1="264.80" y1="601.97" x2="267.00" y2="601.97" stroke="#111" stroke-width="1"/><line x1="282.60" y1="601.97" x2="280.40" y2="601.97" stroke="#111" stroke-width="1"/><text x="284.20" y="605.27" class="tk">0</text><line x1="264.80" y1="623.98" x2="267.00" y2="623.98" stroke="#111" stroke-width="1"/><line x1="282.60" y1="623.98" x2="280.40" y2="623.98" stroke="#111" stroke-width="1"/><text x="284.20" y="627.28" class="tk">-0.1</text><rect x="566.30" y="412.00" width="17.90" height="4.25" fill="#840000"/><rect x="566.30" y="415.45" width="17.90" height="4.25" fill="#930100"/><rect x="566.30" y="418.91" width="17.90" height="4.25" fill="#a10200"/><rect x="566.30" y="422.36" width="17.90" height="4.25" fill="#af0200"/><rect x="566.30" y="425.81" width="17.90" height="4.25" fill="#be0300"/><rect x="566.30" y="429.27" width="17.90" height="4.25" fill="#cc0300"/><rect x="566.30" y="432.72" width="17.90" height="4.25" fill="#db0400"/><rect x="566.30" y="436.17" width="17.90" height="4.25" fill="#e90500"/><rect x="566.30" y="439.62" width="17.90" height="4.25" fill="#f50700"/><rect x="566.30" y="443.08" width="17.90" height="4.25" fill="#f71200"/><rect x="566.30" y="446.53" width="17.90" height="4.25" fill="#f91e00"/><rect x="566.30" y="449.98" width="17.90" height="4.25" fill="#fb2900"/><rect x="566.30" y="453.44" width="17.90" height="4.25" fill="#fc3400"/><rect x="566.30" y="456.89" width="17.90" height="4.25" fill="#fe3f00"/><rect x="566.30" y="460.34" width="17.90" height="4.25" fill="#ff4d00"/><rect x="566.30" y="463.80" width="17.90" height="4.25" fill="#ff5c00"/><rect x="566.30" y="467.25" width="17.90" height="4.25" fill="#ff6c00"/><rect x="566.30" y="470.70" width="17.90" height="4.25" fill="#ff7b00"/><rect x="566.30" y="474.16" width="17.90" height="4.25" fill="#ff8b00"/><rect x="566.30" y="477.61" width="17.90" height="4.25" fill="#ff9b00"/><rect x="566.30" y="481.06" width="17.90" height="4.25" fill="#ffac00"/><rect x="566.30" y="484.52" width="17.90" height="4.25" fill="#ffbd00"/><rect x="566.30" y="487.97" width="17.90" height="4.25" fill="#ffce00"/><rect x="566.30" y="491.42" width="17.90" height="4.25" fill="#ffdf00"/><rect x="566.30" y="494.88" width="17.90" height="4.25" fill="#fff000"/><rect x="566.30" y="498.33" width="17.90" height="4.25" fill="#edf303"/><rect x="566.30" y="501.78" width="17.90" height="4.25" fill="#daf606"/><rect x="566.30" y="505.23" width="17.90" height="4.25" fill="#c8fa0a"/><rect x="566.30" y="508.69" width="17.90" height="4.25" fill="#b5fd0d"/><rect x="566.30" y="512.14" width="17.90" height="4.25" fill="#a8fe17"/><rect x="566.30" y="515.59" width="17.90" height="4.25" fill="#a1fb2a"/><rect x="566.30" y="519.05" width="17.90" height="4.25" fill="#9bf93e"/><rect x="566.30" y="522.50" width="17.90" height="4.25" fill="#95f652"/><rect x="566.30" y="525.95" width="17.90" height="4.25" fill="#8ff366"/><rect x="566.30" y="529.41" width="17.90" height="4.25" fill="#89f279"/><rect x="566.30" y="532.86" width="17.90" height="4.25" fill="#84f18d"/><rect x="566.30" y="536.31" width="17.90" height="4.25" fill="#7ff1a0"/><rect x="566.30" y="539.77" width="17.90" height="4.25" fill="#7bf1b4"/><rect x="566.30" y="543.22" width="17.90" height="4.25" fill="#76f0c7"/><rect x="566.30" y="546.67" width="17.90" height="4.25" fill="#71eed7"/><rect x="566.30" y="550.12" width="17.90" height="4.25" fill="#6cebe1"/><rect x="566.30" y="553.58" width="17.90" height="4.25" fill="#68e8eb"/><rect x="566.30" y="557.03" width="17.90" height="4.25" fill="#64e4f5"/><rect x="566.30" y="560.48" width="17.90" height="4.25" fill="#5fe1ff"/><rect x="566.30" y="563.94" width="17.90" height="4.25" fill="#54c9ff"/><rect x="566.30" y="567.39" width="17.90" height="4.25" fill="#48b0ff"/><rect x="566.30" y="570.84" width="17.90" height="4.25" fill="#3c97ff"/><rect x="566.30" y="574.30" width="17.90" height="4.25" fill="#3180ff"/><rect x="566.30" y="577.75" width="17.90" height="4.25" fill="#2d70ff"/><rect x="566.30" y="581.20" width="17.90" height="4.25" fill="#2861ff"/><rect x="566.30" y="584.66" width="17.90" height="4.25" fill="#2451ff"/><rect x="566.30" y="588.11" width="17.90" height="4.25" fill="#2041ff"/><rect x="566.30" y="591.56" width="17.90" height="4.25" fill="#1d3afd"/><rect x="566.30" y="595.02" width="17.90" height="4.25" fill="#1c37fb"/><rect x="566.30" y="598.47" width="17.90" height="4.25" fill="#1a34f8"/><rect x="566.30" y="601.92" width="17.90" height="4.25" fill="#1931f6"/><rect x="566.30" y="605.38" width="17.90" height="4.25" fill="#172df4"/><rect x="566.30" y="608.83" width="17.90" height="4.25" fill="#162af1"/><rect x="566.30" y="612.28" width="17.90" height="4.25" fill="#1427ef"/><rect x="566.30" y="615.73" width="17.90" height="4.25" fill="#1324ec"/><rect x="566.30" y="619.19" width="17.90" height="4.25" fill="#1121ea"/><rect x="566.30" y="622.64" width="17.90" height="4.25" fill="#101ee7"/><rect x="566.30" y="626.09" width="17.90" height="4.25" fill="#0e1be5"/><rect x="566.30" y="629.55" width="17.90" height="4.25" fill="#0d18e2"/><rect x="566.30" y="412.00" width="17.90" height="221.00" fill="none" stroke="#111" stroke-width="1"/><line x1="566.30" y1="430.26" x2="568.50" y2="430.26" stroke="#111" stroke-width="1"/><line x1="584.20" y1="430.26" x2="582.00" y2="430.26" stroke="#111" stroke-width="1"/><text x="585.80" y="433.56" class="tk">0.9</text><line x1="566.30" y1="450.78" x2="568.50" y2="450.78" stroke="#111" stroke-width="1"/><line x1="584.20" y1="450.78" x2="582.00" y2="450.78" stroke="#111" stroke-width="1"/><text x="585.80" y="454.08" class="tk">0.8</text><line x1="566.30" y1="471.30" x2="568.50" y2="471.30" stroke="#111" stroke-width="1"/><line x1="584.20" y1="471.30" x2="582.00" y2="471.30" stroke="#111" stroke-width="1"/><text x="585.80" y="474.60" class="tk">0.7</text><line x1="566.30" y1="491.82" x2="568.50" y2="491.82" stroke="#111" stroke-width="1"/><line x1="584.20" y1="491.82" x2="582.00" y2="491.82" stroke="#111" stroke-width="1"/><text x="585.80" y="495.12" class="tk">0.6</text><line x1="566.30" y1="512.34" x2="568.50" y2="512.34" stroke="#111" stroke-width="1"/><line x1="584.20" y1="512.34" x2="582.00" y2="512.34" stroke="#111" stroke-width="1"/><text x="585.80" y="515.64" class="tk">0.5</text><line x1="566.30" y1="532.86" x2="568.50" y2="532.86" stroke="#111" stroke-width="1"/><line x1="584.20" y1="532.86" x2="582.00" y2="532.86" stroke="#111" stroke-width="1"/><text x="585.80" y="536.16" class="tk">0.4</text><line x1="566.30" y1="553.38" x2="568.50" y2="553.38" stroke="#111" stroke-width="1"/><line x1="584.20" y1="553.38" x2="582.00" y2="553.38" stroke="#111" stroke-width="1"/><text x="585.80" y="556.68" class="tk">0.3</text><line x1="566.30" y1="573.90" x2="568.50" y2="573.90" stroke="#111" stroke-width="1"/><line x1="584.20" y1="573.90" x2="582.00" y2="573.90" stroke="#111" stroke-width="1"/><text x="585.80" y="577.20" class="tk">0.2</text><line x1="566.30" y1="594.42" x2="568.50" y2="594.42" stroke="#111" stroke-width="1"/><line x1="584.20" y1="594.42" x2="582.00" y2="594.42" stroke="#111" stroke-width="1"/><text x="585.80" y="597.72" class="tk">0.1</text><line x1="566.30" y1="614.94" x2="568.50" y2="614.94" stroke="#111" stroke-width="1"/><line x1="584.20" y1="614.94" x2="582.00" y2="614.94" stroke="#111" stroke-width="1"/><text x="585.80" y="618.24" class="tk">0</text></svg></body></html>
